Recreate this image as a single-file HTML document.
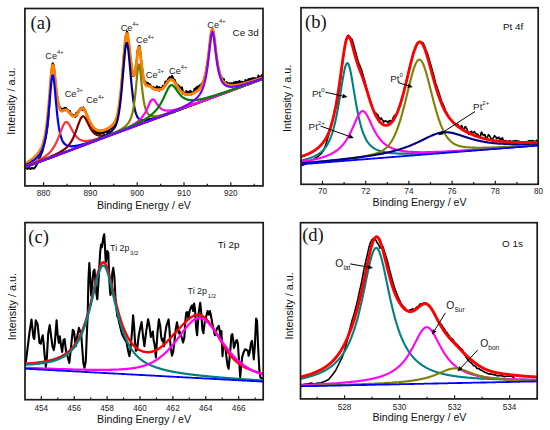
<!DOCTYPE html>
<html><head><meta charset="utf-8"><style>
html,body{margin:0;padding:0;background:#fff;}
svg{display:block;}
text{font-family:"Liberation Sans",sans-serif;}
</style></head><body>
<svg width="550" height="430" viewBox="0 0 550 430">
<rect width="550" height="430" fill="#fff"/>
<clipPath id="ca"><rect x="24.9" y="8.5" width="238.1" height="177.4"/></clipPath>
<g clip-path="url(#ca)" fill="none" stroke-linejoin="round" stroke-linecap="round">
<path d="M24.5,168.3 L26.0,167.6 L27.5,168.9 L29.0,167.8 L30.5,169.0 L32.0,167.9 L33.5,168.7 L35.0,167.4 L36.3,165.7 L37.3,162.8 L38.8,159.5 L40.3,156.3 L41.5,153.5 L42.7,150.6 L43.6,146.5 L44.9,140.9 L45.4,139.1 L45.9,136.7 L46.4,133.4 L46.9,130.9 L47.4,127.4 L47.9,124.0 L48.4,117.4 L48.9,111.8 L49.4,103.4 L49.9,95.6 L50.4,86.3 L50.9,78.9 L51.4,72.0 L51.9,68.4 L52.4,63.9 L52.9,63.2 L53.4,64.6 L53.9,66.5 L54.4,71.0 L54.9,77.1 L55.4,80.5 L55.9,85.7 L56.4,90.1 L56.9,94.7 L57.4,97.4 L57.9,100.7 L58.4,103.6 L58.9,105.5 L59.4,106.2 L59.9,109.1 L60.4,107.8 L60.9,108.5 L61.4,108.7 L61.9,111.1 L62.4,109.7 L62.9,109.0 L63.4,108.6 L63.9,109.9 L64.4,108.2 L64.9,107.9 L65.4,109.7 L65.9,107.9 L66.4,109.0 L66.9,109.6 L67.4,109.5 L67.9,110.3 L68.4,112.3 L68.9,111.0 L69.4,110.9 L69.9,110.9 L70.4,113.1 L70.9,113.6 L71.4,114.7 L71.9,114.4 L72.4,114.7 L72.9,114.7 L73.4,115.1 L73.9,115.8 L74.4,115.2 L74.9,115.6 L75.4,117.1 L75.9,115.3 L76.4,112.8 L76.9,115.6 L77.4,113.6 L77.9,111.6 L78.4,112.8 L78.9,111.2 L79.4,109.8 L79.9,109.1 L80.4,108.2 L80.9,108.7 L81.4,109.4 L81.9,107.8 L82.4,108.6 L82.9,110.2 L83.4,107.5 L83.9,109.5 L84.4,109.7 L84.9,109.8 L85.4,110.8 L85.9,112.9 L86.4,114.6 L86.9,114.8 L87.4,116.6 L87.9,118.5 L88.4,119.3 L88.9,121.0 L89.4,121.7 L89.9,122.8 L90.4,125.3 L90.9,125.1 L91.4,125.6 L91.9,127.2 L92.4,126.4 L92.9,127.8 L93.4,129.7 L93.9,130.2 L94.4,131.8 L94.9,130.8 L95.4,129.8 L95.9,133.7 L96.4,133.3 L96.9,131.5 L97.4,134.2 L97.9,133.0 L98.4,131.2 L98.9,132.7 L99.4,132.7 L99.9,134.8 L100.4,132.4 L100.9,132.9 L101.4,132.8 L101.9,132.6 L102.4,132.0 L102.9,133.0 L103.4,133.7 L103.9,133.1 L104.4,131.4 L104.9,131.0 L105.4,132.0 L105.9,131.0 L106.4,130.8 L106.9,129.5 L107.4,132.9 L107.9,131.6 L108.4,129.4 L108.9,131.0 L109.4,131.1 L109.9,127.0 L110.4,128.5 L110.9,128.2 L111.4,128.8 L111.9,127.6 L112.4,127.0 L112.9,126.6 L113.4,127.9 L113.9,127.5 L114.4,124.0 L114.9,122.8 L115.4,125.3 L115.9,120.3 L116.4,119.2 L116.9,118.1 L117.4,116.5 L117.9,114.7 L118.4,111.4 L118.9,107.1 L119.4,105.0 L119.9,100.8 L120.4,98.0 L120.9,91.3 L121.4,84.7 L121.9,79.2 L122.4,75.6 L122.9,67.4 L123.4,59.5 L123.9,54.6 L124.4,49.1 L124.9,44.7 L125.4,38.0 L125.9,36.0 L126.4,33.8 L126.9,31.6 L127.4,32.9 L127.9,36.9 L128.4,40.1 L128.9,43.4 L129.4,47.5 L129.9,53.0 L130.4,56.6 L130.9,61.1 L131.4,64.5 L131.9,68.7 L132.4,71.5 L132.9,76.0 L133.4,74.6 L133.9,76.1 L134.4,75.4 L134.9,72.5 L135.4,71.1 L135.9,64.9 L136.4,62.8 L136.9,59.0 L137.4,51.8 L137.9,49.0 L138.4,48.1 L138.9,46.0 L139.4,46.1 L139.9,49.1 L140.4,52.7 L140.9,58.0 L141.4,62.3 L141.9,66.0 L142.4,69.6 L142.9,73.5 L143.4,77.7 L143.9,79.1 L144.4,81.2 L144.9,81.8 L145.4,81.6 L145.9,82.9 L146.4,84.7 L146.9,84.4 L147.4,83.4 L147.9,82.7 L148.4,84.6 L148.9,84.1 L149.4,84.2 L149.9,84.3 L150.4,85.3 L150.9,85.7 L151.4,86.9 L151.9,87.4 L152.4,88.3 L152.9,88.1 L153.4,87.1 L153.9,87.7 L154.4,88.6 L154.9,87.7 L155.4,88.9 L155.9,89.7 L156.4,87.4 L156.9,86.3 L157.4,89.9 L157.9,88.5 L158.4,89.4 L158.9,86.9 L159.4,90.7 L159.9,89.4 L160.4,88.3 L160.9,87.9 L161.4,88.3 L161.9,87.7 L162.4,87.2 L162.9,85.8 L163.4,88.3 L163.9,86.2 L164.4,85.8 L164.9,85.2 L165.4,81.4 L165.9,84.2 L166.4,82.3 L166.9,81.6 L167.4,81.2 L167.9,79.2 L168.4,80.7 L168.9,78.2 L169.4,77.4 L169.9,77.0 L170.4,78.0 L170.9,78.5 L171.4,76.9 L171.9,75.9 L172.4,79.4 L172.9,77.2 L173.4,80.5 L173.9,79.6 L174.4,79.5 L174.9,80.3 L175.4,82.5 L175.9,83.8 L176.4,83.3 L176.9,85.5 L177.4,87.8 L177.9,85.7 L178.4,85.2 L178.9,86.0 L179.4,86.2 L179.9,87.8 L180.4,88.2 L180.9,88.0 L181.4,90.8 L181.9,87.2 L182.4,89.2 L182.9,93.8 L183.4,92.9 L183.9,92.5 L184.4,92.6 L184.9,94.5 L185.4,93.1 L185.9,92.6 L186.4,91.1 L186.9,92.6 L187.4,91.8 L187.9,91.8 L188.4,91.8 L188.9,92.6 L189.4,92.2 L189.9,93.6 L190.4,90.7 L190.9,92.0 L191.4,94.5 L191.9,92.0 L192.4,93.3 L192.9,93.0 L193.4,93.0 L193.9,92.0 L194.4,89.0 L194.9,90.1 L195.4,89.7 L195.9,87.8 L196.4,88.9 L196.9,87.5 L197.4,86.6 L197.9,88.6 L198.4,87.8 L198.9,86.4 L199.4,85.5 L199.9,85.4 L200.4,85.1 L200.9,84.6 L201.4,84.3 L201.9,83.2 L202.4,83.1 L202.9,82.2 L203.4,80.9 L203.9,78.9 L204.4,77.5 L204.9,76.4 L205.4,74.2 L205.9,72.0 L206.4,68.7 L206.9,65.7 L207.4,63.3 L207.9,59.6 L208.4,56.0 L208.9,51.5 L209.4,46.9 L209.9,42.3 L210.4,37.6 L210.9,34.5 L211.4,31.1 L211.9,29.6 L212.4,28.9 L212.9,29.7 L213.4,32.0 L213.9,34.7 L214.4,38.5 L214.9,42.5 L215.4,47.0 L215.9,51.8 L216.4,55.2 L216.9,59.3 L217.4,62.5 L217.9,65.5 L218.4,68.0 L218.9,69.7 L219.4,72.0 L219.9,74.1 L220.4,74.8 L220.9,76.2 L221.4,76.9 L221.9,78.4 L222.4,78.2 L222.9,80.9 L223.4,79.8 L223.9,79.1 L224.4,82.9 L224.9,82.5 L225.4,82.4 L225.9,82.8 L226.4,82.2 L226.9,82.5 L227.4,83.7 L227.9,84.0 L228.4,84.2 L228.9,83.6 L229.4,83.0 L229.9,83.3 L230.4,84.7 L230.9,85.1 L231.4,83.3 L231.9,83.2 L232.4,84.9 L232.9,84.4 L233.4,84.3 L233.9,82.3 L234.4,83.2 L234.9,83.0 L235.4,83.6 L235.9,81.7 L236.4,84.5 L236.9,83.5 L237.4,83.5 L237.9,81.8 L238.4,82.9 L238.9,84.2 L239.4,81.1 L239.9,82.9 L240.4,83.2 L240.9,81.7 L241.4,83.1 L241.9,81.8 L242.4,83.2 L242.9,82.4 L243.4,82.0 L243.9,83.6 L244.4,82.3 L244.9,82.7 L245.4,80.0 L245.9,80.4 L246.4,81.8 L246.9,81.7 L247.4,80.6 L247.9,81.3 L248.4,79.3 L248.9,80.4 L249.4,78.9 L249.9,80.2 L250.4,79.3 L250.9,78.9 L251.4,79.5 L251.9,81.1 L252.4,78.1 L252.9,78.4 L253.4,79.9 L253.9,78.2 L254.4,80.2 L254.9,78.5 L255.4,78.2 L255.9,78.3 L256.4,79.6 L256.9,78.3 L257.4,78.0 L257.9,77.6 L258.4,75.6 L258.9,76.1 L259.4,78.3 L259.9,77.5 L260.4,77.0 L260.9,77.0 L261.4,75.6 L261.9,76.3 L262.4,74.9 L262.9,76.0 L263.4,74.7 L263.9,75.1 L264.4,75.6 L264.9,74.6" stroke="#000" stroke-width="2.0"/>
<path d="M22.9,164.9 L23.4,164.7 L23.9,164.4 L24.4,164.1 L24.9,163.8 L25.4,163.6 L25.9,163.3 L26.4,163.0 L26.9,162.7 L27.4,162.4 L27.9,162.1 L28.4,161.8 L28.9,161.4 L29.4,161.1 L29.9,160.8 L30.4,160.4 L30.9,160.1 L31.4,159.7 L31.9,159.3 L32.4,159.0 L32.9,158.6 L33.4,158.2 L33.9,157.7 L34.4,157.3 L34.9,156.8 L35.4,156.3 L35.9,155.8 L36.4,155.3 L36.9,154.8 L37.4,154.2 L37.9,153.6 L38.4,152.9 L38.9,152.2 L39.4,151.5 L39.9,150.6 L40.4,149.8 L40.9,148.8 L41.4,147.8 L41.9,146.6 L42.4,145.3 L42.9,143.9 L43.4,142.3 L43.9,140.5 L44.4,138.4 L44.9,136.1 L45.4,133.5 L45.9,130.5 L46.4,127.1 L46.9,123.3 L47.4,119.0 L47.9,114.2 L48.4,108.9 L48.9,103.2 L49.4,97.0 L49.9,90.6 L50.4,84.2 L50.9,78.1 L51.4,72.7 L51.9,68.4 L52.4,65.8 L52.9,64.9 L53.4,65.8 L53.9,68.4 L54.4,72.1 L54.9,76.6 L55.4,81.4 L55.9,86.2 L56.4,90.7 L56.9,94.8 L57.4,98.5 L57.9,101.6 L58.4,104.2 L58.9,106.3 L59.4,108.0 L59.9,109.2 L60.4,110.1 L60.9,110.7 L61.4,111.0 L61.9,111.1 L62.4,111.0 L62.9,110.8 L63.4,110.6 L63.9,110.4 L64.4,110.2 L64.9,110.0 L65.4,109.9 L65.9,109.9 L66.4,110.1 L66.9,110.3 L67.4,110.7 L67.9,111.1 L68.4,111.7 L68.9,112.2 L69.4,112.8 L69.9,113.4 L70.4,114.0 L70.9,114.6 L71.4,115.0 L71.9,115.5 L72.4,115.8 L72.9,116.0 L73.4,116.2 L73.9,116.2 L74.4,116.1 L74.9,116.0 L75.4,115.7 L75.9,115.3 L76.4,114.8 L76.9,114.2 L77.4,113.6 L77.9,112.9 L78.4,112.1 L78.9,111.4 L79.4,110.6 L79.9,109.9 L80.4,109.3 L80.9,108.8 L81.4,108.4 L81.9,108.2 L82.4,108.2 L82.9,108.3 L83.4,108.7 L83.9,109.2 L84.4,109.9 L84.9,110.7 L85.4,111.7 L85.9,112.7 L86.4,113.9 L86.9,115.0 L87.4,116.2 L87.9,117.4 L88.4,118.6 L88.9,119.7 L89.4,120.8 L89.9,121.8 L90.4,122.8 L90.9,123.7 L91.4,124.6 L91.9,125.4 L92.4,126.1 L92.9,126.8 L93.4,127.4 L93.9,128.0 L94.4,128.5 L94.9,128.9 L95.4,129.3 L95.9,129.6 L96.4,129.9 L96.9,130.1 L97.4,130.3 L97.9,130.5 L98.4,130.6 L98.9,130.7 L99.4,130.7 L99.9,130.8 L100.4,130.8 L100.9,130.7 L101.4,130.7 L101.9,130.6 L102.4,130.5 L102.9,130.4 L103.4,130.3 L103.9,130.2 L104.4,130.0 L104.9,129.8 L105.4,129.6 L105.9,129.4 L106.4,129.2 L106.9,129.0 L107.4,128.7 L107.9,128.5 L108.4,128.2 L108.9,127.9 L109.4,127.6 L109.9,127.2 L110.4,126.9 L110.9,126.5 L111.4,126.1 L111.9,125.6 L112.4,125.1 L112.9,124.6 L113.4,124.0 L113.9,123.3 L114.4,122.6 L114.9,121.7 L115.4,120.7 L115.9,119.5 L116.4,118.1 L116.9,116.6 L117.4,114.7 L117.9,112.5 L118.4,110.0 L118.9,107.1 L119.4,103.8 L119.9,100.0 L120.4,95.7 L120.9,91.0 L121.4,85.8 L121.9,80.2 L122.4,74.3 L122.9,68.1 L123.4,61.9 L123.9,55.6 L124.4,49.7 L124.9,44.3 L125.4,39.7 L125.9,36.3 L126.4,34.1 L126.9,33.5 L127.4,34.3 L127.9,36.4 L128.4,39.6 L128.9,43.6 L129.4,48.1 L129.9,52.8 L130.4,57.5 L130.9,61.9 L131.4,65.9 L131.9,69.4 L132.4,72.1 L132.9,74.1 L133.4,75.3 L133.9,75.6 L134.4,74.9 L134.9,73.4 L135.4,70.9 L135.9,67.6 L136.4,63.6 L136.9,59.2 L137.4,54.9 L137.9,51.1 L138.4,48.4 L138.9,47.4 L139.4,48.3 L139.9,50.8 L140.4,54.5 L140.9,58.9 L141.4,63.4 L141.9,67.8 L142.4,71.7 L142.9,75.1 L143.4,77.9 L143.9,80.2 L144.4,82.0 L144.9,83.4 L145.4,84.4 L145.9,85.1 L146.4,85.6 L146.9,85.8 L147.4,85.9 L147.9,86.0 L148.4,86.0 L148.9,86.0 L149.4,86.1 L149.9,86.2 L150.4,86.5 L150.9,86.8 L151.4,87.2 L151.9,87.7 L152.4,88.2 L152.9,88.6 L153.4,88.9 L153.9,89.2 L154.4,89.3 L154.9,89.5 L155.4,89.5 L155.9,89.6 L156.4,89.6 L156.9,89.7 L157.4,89.7 L157.9,89.8 L158.4,89.8 L158.9,89.8 L159.4,89.8 L159.9,89.7 L160.4,89.6 L160.9,89.5 L161.4,89.3 L161.9,89.0 L162.4,88.7 L162.9,88.3 L163.4,87.8 L163.9,87.3 L164.4,86.7 L164.9,86.1 L165.4,85.4 L165.9,84.7 L166.4,84.0 L166.9,83.3 L167.4,82.6 L167.9,81.9 L168.4,81.3 L168.9,80.7 L169.4,80.3 L169.9,79.9 L170.4,79.7 L170.9,79.6 L171.4,79.6 L171.9,79.7 L172.4,80.0 L172.9,80.4 L173.4,80.9 L173.9,81.5 L174.4,82.1 L174.9,82.8 L175.4,83.6 L175.9,84.4 L176.4,85.1 L176.9,85.9 L177.4,86.7 L177.9,87.4 L178.4,88.2 L178.9,88.9 L179.4,89.5 L179.9,90.1 L180.4,90.7 L180.9,91.2 L181.4,91.7 L181.9,92.2 L182.4,92.6 L182.9,92.9 L183.4,93.2 L183.9,93.5 L184.4,93.8 L184.9,94.0 L185.4,94.1 L185.9,94.3 L186.4,94.4 L186.9,94.5 L187.4,94.5 L187.9,94.5 L188.4,94.5 L188.9,94.5 L189.4,94.5 L189.9,94.4 L190.4,94.3 L190.9,94.2 L191.4,94.0 L191.9,93.9 L192.4,93.7 L192.9,93.5 L193.4,93.3 L193.9,93.0 L194.4,92.8 L194.9,92.5 L195.4,92.2 L195.9,91.9 L196.4,91.6 L196.9,91.2 L197.4,90.8 L197.9,90.4 L198.4,90.0 L198.9,89.5 L199.4,88.9 L199.9,88.3 L200.4,87.7 L200.9,87.0 L201.4,86.2 L201.9,85.3 L202.4,84.3 L202.9,83.1 L203.4,81.9 L203.9,80.4 L204.4,78.8 L204.9,77.0 L205.4,74.9 L205.9,72.6 L206.4,69.9 L206.9,67.0 L207.4,63.6 L207.9,60.0 L208.4,56.0 L208.9,51.7 L209.4,47.3 L209.9,42.8 L210.4,38.5 L210.9,34.7 L211.4,31.7 L211.9,29.8 L212.4,29.2 L212.9,30.0 L213.4,32.1 L213.9,35.2 L214.4,39.0 L214.9,43.2 L215.4,47.4 L215.9,51.6 L216.4,55.6 L216.9,59.3 L217.4,62.6 L217.9,65.6 L218.4,68.2 L218.9,70.5 L219.4,72.6 L219.9,74.4 L220.4,75.9 L220.9,77.3 L221.4,78.5 L221.9,79.5 L222.4,80.4 L222.9,81.2 L223.4,81.8 L223.9,82.4 L224.4,82.9 L224.9,83.3 L225.4,83.7 L225.9,84.0 L226.4,84.3 L226.9,84.6 L227.4,84.8 L227.9,84.9 L228.4,85.1 L228.9,85.2 L229.4,85.3 L229.9,85.4 L230.4,85.4 L230.9,85.5 L231.4,85.5 L231.9,85.5 L232.4,85.5 L232.9,85.5 L233.4,85.5 L233.9,85.4 L234.4,85.4 L234.9,85.3 L235.4,85.3 L235.9,85.2 L236.4,85.1 L236.9,85.1 L237.4,85.0 L237.9,84.9 L238.4,84.8 L238.9,84.7 L239.4,84.6 L239.9,84.5 L240.4,84.4 L240.9,84.3 L241.4,84.1 L241.9,84.0 L242.4,83.9 L242.9,83.8 L243.4,83.7 L243.9,83.5 L244.4,83.4 L244.9,83.3 L245.4,83.1 L245.9,83.0 L246.4,82.8 L246.9,82.7 L247.4,82.6 L247.9,82.4 L248.4,82.3 L248.9,82.1 L249.4,82.0 L249.9,81.8 L250.4,81.7 L250.9,81.5 L251.4,81.4 L251.9,81.2 L252.4,81.1 L252.9,80.9 L253.4,80.7 L253.9,80.6 L254.4,80.4 L254.9,80.3 L255.4,80.1 L255.9,79.9 L256.4,79.8 L256.9,79.6 L257.4,79.5 L257.9,79.3 L258.4,79.1 L258.9,79.0 L259.4,78.8 L259.9,78.6 L260.4,78.5 L260.9,78.3 L261.4,78.1 L261.9,78.0 L262.4,77.8 L262.9,77.6 L263.4,77.5 L263.9,77.3 L264.4,77.1 L264.9,76.9" stroke="#ff8000" stroke-width="2.9"/>
<path d="M22.9,166.5 L23.4,166.3 L23.9,166.1 L24.4,165.8 L24.9,165.6 L25.4,165.3 L25.9,165.1 L26.4,164.8 L26.9,164.5 L27.4,164.3 L27.9,164.0 L28.4,163.7 L28.9,163.5 L29.4,163.2 L29.9,162.9 L30.4,162.6 L30.9,162.3 L31.4,162.0 L31.9,161.6 L32.4,161.3 L32.9,161.0 L33.4,160.6 L33.9,160.2 L34.4,159.9 L34.9,159.5 L35.4,159.0 L35.9,158.6 L36.4,158.1 L36.9,157.7 L37.4,157.2 L37.9,156.6 L38.4,156.1 L38.9,155.4 L39.4,154.8 L39.9,154.1 L40.4,153.3 L40.9,152.5 L41.4,151.5 L41.9,150.5 L42.4,149.4 L42.9,148.1 L43.4,146.6 L43.9,144.9 L44.4,143.1 L44.9,140.9 L45.4,138.5 L45.9,135.7 L46.4,132.5 L46.9,128.9 L47.4,124.9 L47.9,120.3 L48.4,115.4 L48.9,109.9 L49.4,104.2 L49.9,98.1 L50.4,92.1 L50.9,86.4 L51.4,81.5 L51.9,77.8 L52.4,75.6 L52.9,75.3 L53.4,76.9 L53.9,80.1 L54.4,84.5 L54.9,89.8 L55.4,95.4 L55.9,101.1 L56.4,106.5 L56.9,111.6 L57.4,116.3 L57.9,120.5 L58.4,124.2 L58.9,127.5 L59.4,130.3 L59.9,132.8 L60.4,134.9 L60.9,136.7 L61.4,138.2 L61.9,139.6 L62.4,140.7 L62.9,141.6 L63.4,142.4 L63.9,143.1 L64.4,143.6 L64.9,144.1 L65.4,144.5 L65.9,144.9 L66.4,145.2 L66.9,145.4 L67.4,145.6 L67.9,145.8 L68.4,145.9 L68.9,146.0 L69.4,146.1 L69.9,146.2 L70.4,146.2 L70.9,146.3 L71.4,146.3 L71.9,146.3 L72.4,146.3 L72.9,146.2 L73.4,146.2 L73.9,146.1 L74.4,146.1 L74.9,146.0 L75.4,145.9 L75.9,145.9 L76.4,145.8 L76.9,145.7 L77.4,145.6 L77.9,145.5 L78.4,145.4 L78.9,145.3 L79.4,145.2 L79.9,145.0 L80.4,144.9 L80.9,144.8 L81.4,144.7 L81.9,144.5 L82.4,144.4 L82.9,144.3 L83.4,144.1 L83.9,144.0 L84.4,143.8 L84.9,143.7 L85.4,143.6 L85.9,143.4 L86.4,143.3 L86.9,143.1 L87.4,143.0 L87.9,142.8 L88.4,142.6 L88.9,142.5 L89.4,142.3 L89.9,142.2 L90.4,142.0 L90.9,141.8 L91.4,141.7 L91.9,141.5 L92.4,141.4 L92.9,141.2 L93.4,141.0 L93.9,140.9 L94.4,140.7 L94.9,140.5 L95.4,140.4 L95.9,140.2 L96.4,140.0 L96.9,139.9 L97.4,139.7 L97.9,139.5 L98.4,139.3 L98.9,139.2 L99.4,139.0 L99.9,138.8 L100.4,138.7 L100.9,138.5 L101.4,138.3 L101.9,138.1 L102.4,138.0 L102.9,137.8 L103.4,137.6 L103.9,137.4 L104.4,137.3 L104.9,137.1 L105.4,136.9 L105.9,136.7 L106.4,136.5 L106.9,136.4 L107.4,136.2 L107.9,136.0 L108.4,135.8 L108.9,135.7 L109.4,135.5 L109.9,135.3 L110.4,135.1 L110.9,134.9 L111.4,134.8 L111.9,134.6 L112.4,134.4 L112.9,134.2 L113.4,134.1 L113.9,133.9 L114.4,133.7 L114.9,133.5 L115.4,133.3 L115.9,133.2 L116.4,133.0 L116.9,132.8 L117.4,132.6 L117.9,132.4 L118.4,132.2 L118.9,132.1 L119.4,131.9 L119.9,131.7 L120.4,131.5 L120.9,131.3 L121.4,131.2 L121.9,131.0 L122.4,130.8 L122.9,130.6 L123.4,130.4 L123.9,130.2 L124.4,130.1 L124.9,129.9 L125.4,129.7 L125.9,129.5 L126.4,129.3 L126.9,129.2 L127.4,129.0 L127.9,128.8 L128.4,128.6 L128.9,128.4 L129.4,128.2 L129.9,128.1 L130.4,127.9 L130.9,127.7 L131.4,127.5 L131.9,127.3 L132.4,127.1 L132.9,127.0 L133.4,126.8 L133.9,126.6 L134.4,126.4 L134.9,126.2 L135.4,126.0 L135.9,125.9 L136.4,125.7 L136.9,125.5 L137.4,125.3 L137.9,125.1 L138.4,124.9 L138.9,124.8 L139.4,124.6 L139.9,124.4 L140.4,124.2 L140.9,124.0 L141.4,123.8 L141.9,123.7 L142.4,123.5 L142.9,123.3 L143.4,123.1 L143.9,122.9 L144.4,122.7 L144.9,122.6 L145.4,122.4 L145.9,122.2 L146.4,122.0 L146.9,121.8 L147.4,121.6 L147.9,121.4 L148.4,121.3 L148.9,121.1 L149.4,120.9 L149.9,120.7 L150.4,120.5 L150.9,120.3 L151.4,120.2 L151.9,120.0 L152.4,119.8 L152.9,119.6 L153.4,119.4 L153.9,119.2 L154.4,119.0 L154.9,118.9 L155.4,118.7 L155.9,118.5 L156.4,118.3 L156.9,118.1 L157.4,117.9 L157.9,117.8 L158.4,117.6 L158.9,117.4 L159.4,117.2 L159.9,117.0 L160.4,116.8 L160.9,116.6 L161.4,116.5 L161.9,116.3 L162.4,116.1 L162.9,115.9 L163.4,115.7 L163.9,115.5 L164.4,115.4 L164.9,115.2 L165.4,115.0 L165.9,114.8 L166.4,114.6 L166.9,114.4 L167.4,114.2 L167.9,114.1 L168.4,113.9 L168.9,113.7 L169.4,113.5 L169.9,113.3 L170.4,113.1 L170.9,112.9 L171.4,112.8 L171.9,112.6 L172.4,112.4 L172.9,112.2 L173.4,112.0 L173.9,111.8 L174.4,111.7 L174.9,111.5 L175.4,111.3 L175.9,111.1 L176.4,110.9 L176.9,110.7 L177.4,110.5 L177.9,110.4 L178.4,110.2 L178.9,110.0 L179.4,109.8 L179.9,109.6 L180.4,109.4 L180.9,109.2 L181.4,109.1 L181.9,108.9 L182.4,108.7 L182.9,108.5 L183.4,108.3 L183.9,108.1 L184.4,107.9 L184.9,107.8 L185.4,107.6 L185.9,107.4 L186.4,107.2 L186.9,107.0 L187.4,106.8 L187.9,106.6 L188.4,106.5 L188.9,106.3 L189.4,106.1 L189.9,105.9 L190.4,105.7 L190.9,105.5 L191.4,105.4 L191.9,105.2 L192.4,105.0 L192.9,104.8 L193.4,104.6 L193.9,104.4 L194.4,104.2 L194.9,104.1 L195.4,103.9 L195.9,103.7 L196.4,103.5 L196.9,103.3 L197.4,103.1 L197.9,102.9 L198.4,102.8 L198.9,102.6 L199.4,102.4 L199.9,102.2 L200.4,102.0 L200.9,101.8 L201.4,101.6 L201.9,101.5 L202.4,101.3 L202.9,101.1 L203.4,100.9 L203.9,100.7 L204.4,100.5 L204.9,100.3 L205.4,100.2 L205.9,100.0 L206.4,99.8 L206.9,99.6 L207.4,99.4 L207.9,99.2 L208.4,99.0 L208.9,98.9 L209.4,98.7 L209.9,98.5 L210.4,98.3 L210.9,98.1 L211.4,97.9 L211.9,97.7 L212.4,97.6 L212.9,97.4 L213.4,97.2 L213.9,97.0 L214.4,96.8 L214.9,96.6 L215.4,96.4 L215.9,96.3 L216.4,96.1 L216.9,95.9 L217.4,95.7 L217.9,95.5 L218.4,95.3 L218.9,95.1 L219.4,95.0 L219.9,94.8 L220.4,94.6 L220.9,94.4 L221.4,94.2 L221.9,94.0 L222.4,93.8 L222.9,93.7 L223.4,93.5 L223.9,93.3 L224.4,93.1 L224.9,92.9 L225.4,92.7 L225.9,92.5 L226.4,92.4 L226.9,92.2 L227.4,92.0 L227.9,91.8 L228.4,91.6 L228.9,91.4 L229.4,91.2 L229.9,91.1 L230.4,90.9 L230.9,90.7 L231.4,90.5 L231.9,90.3 L232.4,90.1 L232.9,89.9 L233.4,89.8 L233.9,89.6 L234.4,89.4 L234.9,89.2 L235.4,89.0 L235.9,88.8 L236.4,88.6 L236.9,88.5 L237.4,88.3 L237.9,88.1 L238.4,87.9 L238.9,87.7 L239.4,87.5 L239.9,87.3 L240.4,87.2 L240.9,87.0 L241.4,86.8 L241.9,86.6 L242.4,86.4 L242.9,86.2 L243.4,86.0 L243.9,85.9 L244.4,85.7 L244.9,85.5 L245.4,85.3 L245.9,85.1 L246.4,84.9 L246.9,84.7 L247.4,84.6 L247.9,84.4 L248.4,84.2 L248.9,84.0 L249.4,83.8 L249.9,83.6 L250.4,83.4 L250.9,83.3 L251.4,83.1 L251.9,82.9 L252.4,82.7 L252.9,82.5 L253.4,82.3 L253.9,82.1 L254.4,82.0 L254.9,81.8 L255.4,81.6 L255.9,81.4 L256.4,81.2 L256.9,81.0 L257.4,80.8 L257.9,80.7 L258.4,80.5 L258.9,80.3 L259.4,80.1 L259.9,79.9 L260.4,79.7 L260.9,79.5 L261.4,79.4 L261.9,79.2 L262.4,79.0 L262.9,78.8 L263.4,78.6 L263.9,78.4 L264.4,78.2 L264.9,78.1" stroke="#0000ff" stroke-width="2.2"/>
<path d="M22.9,167.2 L23.4,167.0 L23.9,166.8 L24.4,166.6 L24.9,166.4 L25.4,166.2 L25.9,166.0 L26.4,165.8 L26.9,165.5 L27.4,165.3 L27.9,165.1 L28.4,164.9 L28.9,164.7 L29.4,164.5 L29.9,164.3 L30.4,164.0 L30.9,163.8 L31.4,163.6 L31.9,163.4 L32.4,163.1 L32.9,162.9 L33.4,162.7 L33.9,162.5 L34.4,162.2 L34.9,162.0 L35.4,161.8 L35.9,161.5 L36.4,161.3 L36.9,161.0 L37.4,160.8 L37.9,160.5 L38.4,160.3 L38.9,160.0 L39.4,159.8 L39.9,159.5 L40.4,159.2 L40.9,159.0 L41.4,158.7 L41.9,158.4 L42.4,158.1 L42.9,157.8 L43.4,157.5 L43.9,157.2 L44.4,156.9 L44.9,156.5 L45.4,156.2 L45.9,155.8 L46.4,155.4 L46.9,155.0 L47.4,154.6 L47.9,154.2 L48.4,153.8 L48.9,153.3 L49.4,152.8 L49.9,152.3 L50.4,151.7 L50.9,151.1 L51.4,150.5 L51.9,149.9 L52.4,149.2 L52.9,148.5 L53.4,147.7 L53.9,146.9 L54.4,146.1 L54.9,145.2 L55.4,144.2 L55.9,143.2 L56.4,142.2 L56.9,141.1 L57.4,140.0 L57.9,138.8 L58.4,137.6 L58.9,136.3 L59.4,135.1 L59.9,133.7 L60.4,132.4 L60.9,131.1 L61.4,129.8 L61.9,128.5 L62.4,127.3 L62.9,126.2 L63.4,125.1 L63.9,124.2 L64.4,123.4 L64.9,122.8 L65.4,122.3 L65.9,122.1 L66.4,122.0 L66.9,122.1 L67.4,122.4 L67.9,122.9 L68.4,123.5 L68.9,124.2 L69.4,125.0 L69.9,125.8 L70.4,126.8 L70.9,127.7 L71.4,128.7 L71.9,129.6 L72.4,130.5 L72.9,131.4 L73.4,132.3 L73.9,133.1 L74.4,133.9 L74.9,134.7 L75.4,135.4 L75.9,136.0 L76.4,136.6 L76.9,137.2 L77.4,137.7 L77.9,138.2 L78.4,138.6 L78.9,139.0 L79.4,139.3 L79.9,139.6 L80.4,139.9 L80.9,140.1 L81.4,140.3 L81.9,140.5 L82.4,140.6 L82.9,140.7 L83.4,140.8 L83.9,140.9 L84.4,140.9 L84.9,141.0 L85.4,141.0 L85.9,141.0 L86.4,141.0 L86.9,140.9 L87.4,140.9 L87.9,140.9 L88.4,140.8 L88.9,140.7 L89.4,140.7 L89.9,140.6 L90.4,140.5 L90.9,140.4 L91.4,140.3 L91.9,140.2 L92.4,140.1 L92.9,140.0 L93.4,139.9 L93.9,139.7 L94.4,139.6 L94.9,139.5 L95.4,139.4 L95.9,139.2 L96.4,139.1 L96.9,139.0 L97.4,138.8 L97.9,138.7 L98.4,138.5 L98.9,138.4 L99.4,138.2 L99.9,138.1 L100.4,137.9 L100.9,137.8 L101.4,137.6 L101.9,137.5 L102.4,137.3 L102.9,137.2 L103.4,137.0 L103.9,136.9 L104.4,136.7 L104.9,136.5 L105.4,136.4 L105.9,136.2 L106.4,136.1 L106.9,135.9 L107.4,135.7 L107.9,135.6 L108.4,135.4 L108.9,135.2 L109.4,135.1 L109.9,134.9 L110.4,134.7 L110.9,134.6 L111.4,134.4 L111.9,134.2 L112.4,134.1 L112.9,133.9 L113.4,133.7 L113.9,133.5 L114.4,133.4 L114.9,133.2 L115.4,133.0 L115.9,132.9 L116.4,132.7 L116.9,132.5 L117.4,132.3 L117.9,132.2 L118.4,132.0 L118.9,131.8 L119.4,131.6 L119.9,131.5 L120.4,131.3 L120.9,131.1 L121.4,130.9 L121.9,130.7 L122.4,130.6 L122.9,130.4 L123.4,130.2 L123.9,130.0 L124.4,129.9 L124.9,129.7 L125.4,129.5 L125.9,129.3 L126.4,129.1 L126.9,129.0 L127.4,128.8 L127.9,128.6 L128.4,128.4 L128.9,128.3 L129.4,128.1 L129.9,127.9 L130.4,127.7 L130.9,127.5 L131.4,127.4 L131.9,127.2 L132.4,127.0 L132.9,126.8 L133.4,126.6 L133.9,126.5 L134.4,126.3 L134.9,126.1 L135.4,125.9 L135.9,125.7 L136.4,125.5 L136.9,125.4 L137.4,125.2 L137.9,125.0 L138.4,124.8 L138.9,124.6 L139.4,124.5 L139.9,124.3 L140.4,124.1 L140.9,123.9 L141.4,123.7 L141.9,123.5 L142.4,123.4 L142.9,123.2 L143.4,123.0 L143.9,122.8 L144.4,122.6 L144.9,122.5 L145.4,122.3 L145.9,122.1 L146.4,121.9 L146.9,121.7 L147.4,121.5 L147.9,121.4 L148.4,121.2 L148.9,121.0 L149.4,120.8 L149.9,120.6 L150.4,120.4 L150.9,120.3 L151.4,120.1 L151.9,119.9 L152.4,119.7 L152.9,119.5 L153.4,119.3 L153.9,119.2 L154.4,119.0 L154.9,118.8 L155.4,118.6 L155.9,118.4 L156.4,118.2 L156.9,118.1 L157.4,117.9 L157.9,117.7 L158.4,117.5 L158.9,117.3 L159.4,117.1 L159.9,117.0 L160.4,116.8 L160.9,116.6 L161.4,116.4 L161.9,116.2 L162.4,116.0 L162.9,115.8 L163.4,115.7 L163.9,115.5 L164.4,115.3 L164.9,115.1 L165.4,114.9 L165.9,114.7 L166.4,114.6 L166.9,114.4 L167.4,114.2 L167.9,114.0 L168.4,113.8 L168.9,113.6 L169.4,113.5 L169.9,113.3 L170.4,113.1 L170.9,112.9 L171.4,112.7 L171.9,112.5 L172.4,112.3 L172.9,112.2 L173.4,112.0 L173.9,111.8 L174.4,111.6 L174.9,111.4 L175.4,111.2 L175.9,111.1 L176.4,110.9 L176.9,110.7 L177.4,110.5 L177.9,110.3 L178.4,110.1 L178.9,109.9 L179.4,109.8 L179.9,109.6 L180.4,109.4 L180.9,109.2 L181.4,109.0 L181.9,108.8 L182.4,108.6 L182.9,108.5 L183.4,108.3 L183.9,108.1 L184.4,107.9 L184.9,107.7 L185.4,107.5 L185.9,107.4 L186.4,107.2 L186.9,107.0 L187.4,106.8 L187.9,106.6 L188.4,106.4 L188.9,106.2 L189.4,106.1 L189.9,105.9 L190.4,105.7 L190.9,105.5 L191.4,105.3 L191.9,105.1 L192.4,104.9 L192.9,104.8 L193.4,104.6 L193.9,104.4 L194.4,104.2 L194.9,104.0 L195.4,103.8 L195.9,103.7 L196.4,103.5 L196.9,103.3 L197.4,103.1 L197.9,102.9 L198.4,102.7 L198.9,102.5 L199.4,102.4 L199.9,102.2 L200.4,102.0 L200.9,101.8 L201.4,101.6 L201.9,101.4 L202.4,101.2 L202.9,101.1 L203.4,100.9 L203.9,100.7 L204.4,100.5 L204.9,100.3 L205.4,100.1 L205.9,99.9 L206.4,99.8 L206.9,99.6 L207.4,99.4 L207.9,99.2 L208.4,99.0 L208.9,98.8 L209.4,98.7 L209.9,98.5 L210.4,98.3 L210.9,98.1 L211.4,97.9 L211.9,97.7 L212.4,97.5 L212.9,97.4 L213.4,97.2 L213.9,97.0 L214.4,96.8 L214.9,96.6 L215.4,96.4 L215.9,96.2 L216.4,96.1 L216.9,95.9 L217.4,95.7 L217.9,95.5 L218.4,95.3 L218.9,95.1 L219.4,94.9 L219.9,94.8 L220.4,94.6 L220.9,94.4 L221.4,94.2 L221.9,94.0 L222.4,93.8 L222.9,93.6 L223.4,93.5 L223.9,93.3 L224.4,93.1 L224.9,92.9 L225.4,92.7 L225.9,92.5 L226.4,92.3 L226.9,92.2 L227.4,92.0 L227.9,91.8 L228.4,91.6 L228.9,91.4 L229.4,91.2 L229.9,91.0 L230.4,90.9 L230.9,90.7 L231.4,90.5 L231.9,90.3 L232.4,90.1 L232.9,89.9 L233.4,89.7 L233.9,89.6 L234.4,89.4 L234.9,89.2 L235.4,89.0 L235.9,88.8 L236.4,88.6 L236.9,88.4 L237.4,88.3 L237.9,88.1 L238.4,87.9 L238.9,87.7 L239.4,87.5 L239.9,87.3 L240.4,87.1 L240.9,87.0 L241.4,86.8 L241.9,86.6 L242.4,86.4 L242.9,86.2 L243.4,86.0 L243.9,85.8 L244.4,85.7 L244.9,85.5 L245.4,85.3 L245.9,85.1 L246.4,84.9 L246.9,84.7 L247.4,84.6 L247.9,84.4 L248.4,84.2 L248.9,84.0 L249.4,83.8 L249.9,83.6 L250.4,83.4 L250.9,83.3 L251.4,83.1 L251.9,82.9 L252.4,82.7 L252.9,82.5 L253.4,82.3 L253.9,82.1 L254.4,82.0 L254.9,81.8 L255.4,81.6 L255.9,81.4 L256.4,81.2 L256.9,81.0 L257.4,80.8 L257.9,80.7 L258.4,80.5 L258.9,80.3 L259.4,80.1 L259.9,79.9 L260.4,79.7 L260.9,79.5 L261.4,79.4 L261.9,79.2 L262.4,79.0 L262.9,78.8 L263.4,78.6 L263.9,78.4 L264.4,78.2 L264.9,78.1" stroke="#ff3333" stroke-width="2.2"/>
<path d="M22.9,167.7 L23.4,167.5 L23.9,167.4 L24.4,167.2 L24.9,167.0 L25.4,166.8 L25.9,166.6 L26.4,166.4 L26.9,166.2 L27.4,166.0 L27.9,165.8 L28.4,165.6 L28.9,165.4 L29.4,165.2 L29.9,165.0 L30.4,164.8 L30.9,164.6 L31.4,164.5 L31.9,164.3 L32.4,164.1 L32.9,163.9 L33.4,163.7 L33.9,163.5 L34.4,163.3 L34.9,163.1 L35.4,162.9 L35.9,162.7 L36.4,162.5 L36.9,162.3 L37.4,162.1 L37.9,161.9 L38.4,161.7 L38.9,161.5 L39.4,161.3 L39.9,161.1 L40.4,160.9 L40.9,160.7 L41.4,160.5 L41.9,160.3 L42.4,160.1 L42.9,159.9 L43.4,159.7 L43.9,159.5 L44.4,159.3 L44.9,159.1 L45.4,158.8 L45.9,158.6 L46.4,158.4 L46.9,158.2 L47.4,158.0 L47.9,157.8 L48.4,157.6 L48.9,157.4 L49.4,157.2 L49.9,156.9 L50.4,156.7 L50.9,156.5 L51.4,156.3 L51.9,156.0 L52.4,155.8 L52.9,155.6 L53.4,155.4 L53.9,155.1 L54.4,154.9 L54.9,154.7 L55.4,154.4 L55.9,154.2 L56.4,153.9 L56.9,153.7 L57.4,153.4 L57.9,153.2 L58.4,152.9 L58.9,152.7 L59.4,152.4 L59.9,152.1 L60.4,151.8 L60.9,151.6 L61.4,151.3 L61.9,151.0 L62.4,150.6 L62.9,150.3 L63.4,150.0 L63.9,149.6 L64.4,149.3 L64.9,148.9 L65.4,148.5 L65.9,148.0 L66.4,147.6 L66.9,147.1 L67.4,146.6 L67.9,146.1 L68.4,145.5 L68.9,144.9 L69.4,144.3 L69.9,143.6 L70.4,142.9 L70.9,142.1 L71.4,141.2 L71.9,140.4 L72.4,139.4 L72.9,138.4 L73.4,137.4 L73.9,136.3 L74.4,135.1 L74.9,133.9 L75.4,132.6 L75.9,131.3 L76.4,129.9 L76.9,128.5 L77.4,127.1 L77.9,125.7 L78.4,124.3 L78.9,122.9 L79.4,121.6 L79.9,120.4 L80.4,119.3 L80.9,118.3 L81.4,117.5 L81.9,116.9 L82.4,116.5 L82.9,116.3 L83.4,116.3 L83.9,116.6 L84.4,117.0 L84.9,117.6 L85.4,118.4 L85.9,119.3 L86.4,120.2 L86.9,121.2 L87.4,122.2 L87.9,123.3 L88.4,124.3 L88.9,125.4 L89.4,126.3 L89.9,127.3 L90.4,128.2 L90.9,129.0 L91.4,129.8 L91.9,130.6 L92.4,131.2 L92.9,131.9 L93.4,132.4 L93.9,132.9 L94.4,133.4 L94.9,133.8 L95.4,134.1 L95.9,134.5 L96.4,134.7 L96.9,135.0 L97.4,135.1 L97.9,135.3 L98.4,135.4 L98.9,135.5 L99.4,135.6 L99.9,135.7 L100.4,135.7 L100.9,135.7 L101.4,135.7 L101.9,135.7 L102.4,135.6 L102.9,135.6 L103.4,135.5 L103.9,135.5 L104.4,135.4 L104.9,135.3 L105.4,135.2 L105.9,135.1 L106.4,135.0 L106.9,134.9 L107.4,134.8 L107.9,134.7 L108.4,134.6 L108.9,134.4 L109.4,134.3 L109.9,134.2 L110.4,134.0 L110.9,133.9 L111.4,133.8 L111.9,133.6 L112.4,133.5 L112.9,133.3 L113.4,133.2 L113.9,133.0 L114.4,132.9 L114.9,132.7 L115.4,132.6 L115.9,132.4 L116.4,132.3 L116.9,132.1 L117.4,132.0 L117.9,131.8 L118.4,131.6 L118.9,131.5 L119.4,131.3 L119.9,131.1 L120.4,131.0 L120.9,130.8 L121.4,130.7 L121.9,130.5 L122.4,130.3 L122.9,130.2 L123.4,130.0 L123.9,129.8 L124.4,129.6 L124.9,129.5 L125.4,129.3 L125.9,129.1 L126.4,129.0 L126.9,128.8 L127.4,128.6 L127.9,128.4 L128.4,128.3 L128.9,128.1 L129.4,127.9 L129.9,127.7 L130.4,127.6 L130.9,127.4 L131.4,127.2 L131.9,127.0 L132.4,126.9 L132.9,126.7 L133.4,126.5 L133.9,126.3 L134.4,126.2 L134.9,126.0 L135.4,125.8 L135.9,125.6 L136.4,125.5 L136.9,125.3 L137.4,125.1 L137.9,124.9 L138.4,124.7 L138.9,124.6 L139.4,124.4 L139.9,124.2 L140.4,124.0 L140.9,123.8 L141.4,123.7 L141.9,123.5 L142.4,123.3 L142.9,123.1 L143.4,122.9 L143.9,122.8 L144.4,122.6 L144.9,122.4 L145.4,122.2 L145.9,122.0 L146.4,121.9 L146.9,121.7 L147.4,121.5 L147.9,121.3 L148.4,121.1 L148.9,120.9 L149.4,120.8 L149.9,120.6 L150.4,120.4 L150.9,120.2 L151.4,120.0 L151.9,119.9 L152.4,119.7 L152.9,119.5 L153.4,119.3 L153.9,119.1 L154.4,118.9 L154.9,118.8 L155.4,118.6 L155.9,118.4 L156.4,118.2 L156.9,118.0 L157.4,117.8 L157.9,117.7 L158.4,117.5 L158.9,117.3 L159.4,117.1 L159.9,116.9 L160.4,116.7 L160.9,116.6 L161.4,116.4 L161.9,116.2 L162.4,116.0 L162.9,115.8 L163.4,115.6 L163.9,115.5 L164.4,115.3 L164.9,115.1 L165.4,114.9 L165.9,114.7 L166.4,114.5 L166.9,114.4 L167.4,114.2 L167.9,114.0 L168.4,113.8 L168.9,113.6 L169.4,113.4 L169.9,113.3 L170.4,113.1 L170.9,112.9 L171.4,112.7 L171.9,112.5 L172.4,112.3 L172.9,112.2 L173.4,112.0 L173.9,111.8 L174.4,111.6 L174.9,111.4 L175.4,111.2 L175.9,111.0 L176.4,110.9 L176.9,110.7 L177.4,110.5 L177.9,110.3 L178.4,110.1 L178.9,109.9 L179.4,109.8 L179.9,109.6 L180.4,109.4 L180.9,109.2 L181.4,109.0 L181.9,108.8 L182.4,108.6 L182.9,108.5 L183.4,108.3 L183.9,108.1 L184.4,107.9 L184.9,107.7 L185.4,107.5 L185.9,107.4 L186.4,107.2 L186.9,107.0 L187.4,106.8 L187.9,106.6 L188.4,106.4 L188.9,106.2 L189.4,106.1 L189.9,105.9 L190.4,105.7 L190.9,105.5 L191.4,105.3 L191.9,105.1 L192.4,104.9 L192.9,104.8 L193.4,104.6 L193.9,104.4 L194.4,104.2 L194.9,104.0 L195.4,103.8 L195.9,103.7 L196.4,103.5 L196.9,103.3 L197.4,103.1 L197.9,102.9 L198.4,102.7 L198.9,102.5 L199.4,102.4 L199.9,102.2 L200.4,102.0 L200.9,101.8 L201.4,101.6 L201.9,101.4 L202.4,101.2 L202.9,101.1 L203.4,100.9 L203.9,100.7 L204.4,100.5 L204.9,100.3 L205.4,100.1 L205.9,100.0 L206.4,99.8 L206.9,99.6 L207.4,99.4 L207.9,99.2 L208.4,99.0 L208.9,98.8 L209.4,98.7 L209.9,98.5 L210.4,98.3 L210.9,98.1 L211.4,97.9 L211.9,97.7 L212.4,97.5 L212.9,97.4 L213.4,97.2 L213.9,97.0 L214.4,96.8 L214.9,96.6 L215.4,96.4 L215.9,96.2 L216.4,96.1 L216.9,95.9 L217.4,95.7 L217.9,95.5 L218.4,95.3 L218.9,95.1 L219.4,94.9 L219.9,94.8 L220.4,94.6 L220.9,94.4 L221.4,94.2 L221.9,94.0 L222.4,93.8 L222.9,93.6 L223.4,93.5 L223.9,93.3 L224.4,93.1 L224.9,92.9 L225.4,92.7 L225.9,92.5 L226.4,92.3 L226.9,92.2 L227.4,92.0 L227.9,91.8 L228.4,91.6 L228.9,91.4 L229.4,91.2 L229.9,91.1 L230.4,90.9 L230.9,90.7 L231.4,90.5 L231.9,90.3 L232.4,90.1 L232.9,89.9 L233.4,89.8 L233.9,89.6 L234.4,89.4 L234.9,89.2 L235.4,89.0 L235.9,88.8 L236.4,88.6 L236.9,88.5 L237.4,88.3 L237.9,88.1 L238.4,87.9 L238.9,87.7 L239.4,87.5 L239.9,87.3 L240.4,87.2 L240.9,87.0 L241.4,86.8 L241.9,86.6 L242.4,86.4 L242.9,86.2 L243.4,86.0 L243.9,85.9 L244.4,85.7 L244.9,85.5 L245.4,85.3 L245.9,85.1 L246.4,84.9 L246.9,84.7 L247.4,84.6 L247.9,84.4 L248.4,84.2 L248.9,84.0 L249.4,83.8 L249.9,83.6 L250.4,83.4 L250.9,83.3 L251.4,83.1 L251.9,82.9 L252.4,82.7 L252.9,82.5 L253.4,82.3 L253.9,82.1 L254.4,82.0 L254.9,81.8 L255.4,81.6 L255.9,81.4 L256.4,81.2 L256.9,81.0 L257.4,80.8 L257.9,80.7 L258.4,80.5 L258.9,80.3 L259.4,80.1 L259.9,79.9 L260.4,79.7 L260.9,79.5 L261.4,79.4 L261.9,79.2 L262.4,79.0 L262.9,78.8 L263.4,78.6 L263.9,78.4 L264.4,78.2 L264.9,78.1" stroke="#800000" stroke-width="2.2"/>
<path d="M22.9,168.0 L23.4,167.8 L23.9,167.6 L24.4,167.4 L24.9,167.2 L25.4,167.1 L25.9,166.9 L26.4,166.7 L26.9,166.5 L27.4,166.3 L27.9,166.1 L28.4,165.9 L28.9,165.7 L29.4,165.6 L29.9,165.4 L30.4,165.2 L30.9,165.0 L31.4,164.8 L31.9,164.6 L32.4,164.4 L32.9,164.3 L33.4,164.1 L33.9,163.9 L34.4,163.7 L34.9,163.5 L35.4,163.3 L35.9,163.1 L36.4,162.9 L36.9,162.8 L37.4,162.6 L37.9,162.4 L38.4,162.2 L38.9,162.0 L39.4,161.8 L39.9,161.6 L40.4,161.4 L40.9,161.3 L41.4,161.1 L41.9,160.9 L42.4,160.7 L42.9,160.5 L43.4,160.3 L43.9,160.1 L44.4,159.9 L44.9,159.8 L45.4,159.6 L45.9,159.4 L46.4,159.2 L46.9,159.0 L47.4,158.8 L47.9,158.6 L48.4,158.4 L48.9,158.3 L49.4,158.1 L49.9,157.9 L50.4,157.7 L50.9,157.5 L51.4,157.3 L51.9,157.1 L52.4,156.9 L52.9,156.7 L53.4,156.6 L53.9,156.4 L54.4,156.2 L54.9,156.0 L55.4,155.8 L55.9,155.6 L56.4,155.4 L56.9,155.2 L57.4,155.0 L57.9,154.9 L58.4,154.7 L58.9,154.5 L59.4,154.3 L59.9,154.1 L60.4,153.9 L60.9,153.7 L61.4,153.5 L61.9,153.3 L62.4,153.2 L62.9,153.0 L63.4,152.8 L63.9,152.6 L64.4,152.4 L64.9,152.2 L65.4,152.0 L65.9,151.8 L66.4,151.6 L66.9,151.4 L67.4,151.3 L67.9,151.1 L68.4,150.9 L68.9,150.7 L69.4,150.5 L69.9,150.3 L70.4,150.1 L70.9,149.9 L71.4,149.7 L71.9,149.5 L72.4,149.3 L72.9,149.2 L73.4,149.0 L73.9,148.8 L74.4,148.6 L74.9,148.4 L75.4,148.2 L75.9,148.0 L76.4,147.8 L76.9,147.6 L77.4,147.4 L77.9,147.2 L78.4,147.0 L78.9,146.8 L79.4,146.6 L79.9,146.4 L80.4,146.2 L80.9,146.0 L81.4,145.9 L81.9,145.7 L82.4,145.5 L82.9,145.3 L83.4,145.1 L83.9,144.9 L84.4,144.7 L84.9,144.5 L85.4,144.3 L85.9,144.1 L86.4,143.9 L86.9,143.7 L87.4,143.5 L87.9,143.3 L88.4,143.1 L88.9,142.9 L89.4,142.7 L89.9,142.5 L90.4,142.2 L90.9,142.0 L91.4,141.8 L91.9,141.6 L92.4,141.4 L92.9,141.2 L93.4,141.0 L93.9,140.8 L94.4,140.6 L94.9,140.4 L95.4,140.1 L95.9,139.9 L96.4,139.7 L96.9,139.5 L97.4,139.3 L97.9,139.0 L98.4,138.8 L98.9,138.6 L99.4,138.4 L99.9,138.1 L100.4,137.9 L100.9,137.6 L101.4,137.4 L101.9,137.2 L102.4,136.9 L102.9,136.7 L103.4,136.4 L103.9,136.1 L104.4,135.9 L104.9,135.6 L105.4,135.3 L105.9,135.1 L106.4,134.8 L106.9,134.5 L107.4,134.2 L107.9,133.9 L108.4,133.5 L108.9,133.2 L109.4,132.8 L109.9,132.5 L110.4,132.1 L110.9,131.7 L111.4,131.3 L111.9,130.8 L112.4,130.4 L112.9,129.8 L113.4,129.2 L113.9,128.6 L114.4,127.9 L114.9,127.0 L115.4,126.1 L115.9,124.9 L116.4,123.6 L116.9,122.1 L117.4,120.3 L117.9,118.2 L118.4,115.8 L118.9,113.0 L119.4,109.7 L119.9,106.1 L120.4,101.9 L120.9,97.4 L121.4,92.3 L121.9,86.9 L122.4,81.2 L122.9,75.2 L123.4,69.1 L123.9,63.1 L124.4,57.5 L124.9,52.4 L125.4,48.1 L125.9,45.0 L126.4,43.2 L126.9,43.0 L127.4,44.2 L127.9,46.9 L128.4,50.7 L128.9,55.4 L129.4,60.6 L129.9,66.2 L130.4,71.9 L130.9,77.6 L131.4,83.0 L131.9,88.0 L132.4,92.7 L132.9,97.0 L133.4,100.7 L133.9,104.1 L134.4,107.0 L134.9,109.5 L135.4,111.5 L135.9,113.3 L136.4,114.7 L136.9,115.9 L137.4,116.9 L137.9,117.6 L138.4,118.2 L138.9,118.7 L139.4,119.1 L139.9,119.4 L140.4,119.6 L140.9,119.7 L141.4,119.8 L141.9,119.9 L142.4,120.0 L142.9,120.0 L143.4,120.0 L143.9,120.0 L144.4,120.0 L144.9,119.9 L145.4,119.9 L145.9,119.8 L146.4,119.8 L146.9,119.7 L147.4,119.6 L147.9,119.5 L148.4,119.4 L148.9,119.3 L149.4,119.2 L149.9,119.1 L150.4,119.0 L150.9,118.9 L151.4,118.7 L151.9,118.6 L152.4,118.5 L152.9,118.4 L153.4,118.2 L153.9,118.1 L154.4,117.9 L154.9,117.8 L155.4,117.7 L155.9,117.5 L156.4,117.4 L156.9,117.2 L157.4,117.0 L157.9,116.9 L158.4,116.7 L158.9,116.6 L159.4,116.4 L159.9,116.3 L160.4,116.1 L160.9,115.9 L161.4,115.8 L161.9,115.6 L162.4,115.5 L162.9,115.3 L163.4,115.1 L163.9,115.0 L164.4,114.8 L164.9,114.6 L165.4,114.4 L165.9,114.3 L166.4,114.1 L166.9,113.9 L167.4,113.8 L167.9,113.6 L168.4,113.4 L168.9,113.2 L169.4,113.1 L169.9,112.9 L170.4,112.7 L170.9,112.5 L171.4,112.4 L171.9,112.2 L172.4,112.0 L172.9,111.8 L173.4,111.7 L173.9,111.5 L174.4,111.3 L174.9,111.1 L175.4,111.0 L175.9,110.8 L176.4,110.6 L176.9,110.4 L177.4,110.3 L177.9,110.1 L178.4,109.9 L178.9,109.7 L179.4,109.5 L179.9,109.4 L180.4,109.2 L180.9,109.0 L181.4,108.8 L181.9,108.6 L182.4,108.5 L182.9,108.3 L183.4,108.1 L183.9,107.9 L184.4,107.7 L184.9,107.6 L185.4,107.4 L185.9,107.2 L186.4,107.0 L186.9,106.8 L187.4,106.6 L187.9,106.5 L188.4,106.3 L188.9,106.1 L189.4,105.9 L189.9,105.7 L190.4,105.6 L190.9,105.4 L191.4,105.2 L191.9,105.0 L192.4,104.8 L192.9,104.6 L193.4,104.5 L193.9,104.3 L194.4,104.1 L194.9,103.9 L195.4,103.7 L195.9,103.5 L196.4,103.4 L196.9,103.2 L197.4,103.0 L197.9,102.8 L198.4,102.6 L198.9,102.4 L199.4,102.3 L199.9,102.1 L200.4,101.9 L200.9,101.7 L201.4,101.5 L201.9,101.3 L202.4,101.2 L202.9,101.0 L203.4,100.8 L203.9,100.6 L204.4,100.4 L204.9,100.2 L205.4,100.1 L205.9,99.9 L206.4,99.7 L206.9,99.5 L207.4,99.3 L207.9,99.1 L208.4,99.0 L208.9,98.8 L209.4,98.6 L209.9,98.4 L210.4,98.2 L210.9,98.0 L211.4,97.9 L211.9,97.7 L212.4,97.5 L212.9,97.3 L213.4,97.1 L213.9,96.9 L214.4,96.7 L214.9,96.6 L215.4,96.4 L215.9,96.2 L216.4,96.0 L216.9,95.8 L217.4,95.6 L217.9,95.5 L218.4,95.3 L218.9,95.1 L219.4,94.9 L219.9,94.7 L220.4,94.5 L220.9,94.3 L221.4,94.2 L221.9,94.0 L222.4,93.8 L222.9,93.6 L223.4,93.4 L223.9,93.2 L224.4,93.1 L224.9,92.9 L225.4,92.7 L225.9,92.5 L226.4,92.3 L226.9,92.1 L227.4,91.9 L227.9,91.8 L228.4,91.6 L228.9,91.4 L229.4,91.2 L229.9,91.0 L230.4,90.8 L230.9,90.6 L231.4,90.5 L231.9,90.3 L232.4,90.1 L232.9,89.9 L233.4,89.7 L233.9,89.5 L234.4,89.4 L234.9,89.2 L235.4,89.0 L235.9,88.8 L236.4,88.6 L236.9,88.4 L237.4,88.2 L237.9,88.1 L238.4,87.9 L238.9,87.7 L239.4,87.5 L239.9,87.3 L240.4,87.1 L240.9,86.9 L241.4,86.8 L241.9,86.6 L242.4,86.4 L242.9,86.2 L243.4,86.0 L243.9,85.8 L244.4,85.6 L244.9,85.5 L245.4,85.3 L245.9,85.1 L246.4,84.9 L246.9,84.7 L247.4,84.5 L247.9,84.3 L248.4,84.2 L248.9,84.0 L249.4,83.8 L249.9,83.6 L250.4,83.4 L250.9,83.2 L251.4,83.1 L251.9,82.9 L252.4,82.7 L252.9,82.5 L253.4,82.3 L253.9,82.1 L254.4,81.9 L254.9,81.8 L255.4,81.6 L255.9,81.4 L256.4,81.2 L256.9,81.0 L257.4,80.8 L257.9,80.6 L258.4,80.5 L258.9,80.3 L259.4,80.1 L259.9,79.9 L260.4,79.7 L260.9,79.5 L261.4,79.3 L261.9,79.2 L262.4,79.0 L262.9,78.8 L263.4,78.6 L263.9,78.4 L264.4,78.2 L264.9,78.0" stroke="#000080" stroke-width="2.2"/>
<path d="M22.9,168.0 L23.4,167.8 L23.9,167.7 L24.4,167.5 L24.9,167.3 L25.4,167.1 L25.9,166.9 L26.4,166.7 L26.9,166.5 L27.4,166.3 L27.9,166.2 L28.4,166.0 L28.9,165.8 L29.4,165.6 L29.9,165.4 L30.4,165.2 L30.9,165.0 L31.4,164.9 L31.9,164.7 L32.4,164.5 L32.9,164.3 L33.4,164.1 L33.9,163.9 L34.4,163.7 L34.9,163.5 L35.4,163.4 L35.9,163.2 L36.4,163.0 L36.9,162.8 L37.4,162.6 L37.9,162.4 L38.4,162.2 L38.9,162.1 L39.4,161.9 L39.9,161.7 L40.4,161.5 L40.9,161.3 L41.4,161.1 L41.9,160.9 L42.4,160.7 L42.9,160.6 L43.4,160.4 L43.9,160.2 L44.4,160.0 L44.9,159.8 L45.4,159.6 L45.9,159.4 L46.4,159.3 L46.9,159.1 L47.4,158.9 L47.9,158.7 L48.4,158.5 L48.9,158.3 L49.4,158.1 L49.9,157.9 L50.4,157.8 L50.9,157.6 L51.4,157.4 L51.9,157.2 L52.4,157.0 L52.9,156.8 L53.4,156.6 L53.9,156.5 L54.4,156.3 L54.9,156.1 L55.4,155.9 L55.9,155.7 L56.4,155.5 L56.9,155.3 L57.4,155.1 L57.9,155.0 L58.4,154.8 L58.9,154.6 L59.4,154.4 L59.9,154.2 L60.4,154.0 L60.9,153.8 L61.4,153.6 L61.9,153.5 L62.4,153.3 L62.9,153.1 L63.4,152.9 L63.9,152.7 L64.4,152.5 L64.9,152.3 L65.4,152.1 L65.9,152.0 L66.4,151.8 L66.9,151.6 L67.4,151.4 L67.9,151.2 L68.4,151.0 L68.9,150.8 L69.4,150.6 L69.9,150.4 L70.4,150.3 L70.9,150.1 L71.4,149.9 L71.9,149.7 L72.4,149.5 L72.9,149.3 L73.4,149.1 L73.9,148.9 L74.4,148.8 L74.9,148.6 L75.4,148.4 L75.9,148.2 L76.4,148.0 L76.9,147.8 L77.4,147.6 L77.9,147.4 L78.4,147.2 L78.9,147.1 L79.4,146.9 L79.9,146.7 L80.4,146.5 L80.9,146.3 L81.4,146.1 L81.9,145.9 L82.4,145.7 L82.9,145.5 L83.4,145.3 L83.9,145.2 L84.4,145.0 L84.9,144.8 L85.4,144.6 L85.9,144.4 L86.4,144.2 L86.9,144.0 L87.4,143.8 L87.9,143.6 L88.4,143.4 L88.9,143.2 L89.4,143.0 L89.9,142.9 L90.4,142.7 L90.9,142.5 L91.4,142.3 L91.9,142.1 L92.4,141.9 L92.9,141.7 L93.4,141.5 L93.9,141.3 L94.4,141.1 L94.9,140.9 L95.4,140.7 L95.9,140.5 L96.4,140.3 L96.9,140.1 L97.4,139.9 L97.9,139.8 L98.4,139.6 L98.9,139.4 L99.4,139.2 L99.9,139.0 L100.4,138.8 L100.9,138.6 L101.4,138.4 L101.9,138.2 L102.4,138.0 L102.9,137.8 L103.4,137.6 L103.9,137.4 L104.4,137.2 L104.9,136.9 L105.4,136.7 L105.9,136.5 L106.4,136.3 L106.9,136.1 L107.4,135.9 L107.9,135.7 L108.4,135.5 L108.9,135.3 L109.4,135.1 L109.9,134.9 L110.4,134.6 L110.9,134.4 L111.4,134.2 L111.9,134.0 L112.4,133.8 L112.9,133.5 L113.4,133.3 L113.9,133.1 L114.4,132.8 L114.9,132.6 L115.4,132.4 L115.9,132.1 L116.4,131.9 L116.9,131.6 L117.4,131.4 L117.9,131.1 L118.4,130.8 L118.9,130.6 L119.4,130.3 L119.9,130.0 L120.4,129.7 L120.9,129.4 L121.4,129.1 L121.9,128.8 L122.4,128.5 L122.9,128.1 L123.4,127.8 L123.9,127.4 L124.4,127.0 L124.9,126.6 L125.4,126.2 L125.9,125.7 L126.4,125.2 L126.9,124.7 L127.4,124.1 L127.9,123.5 L128.4,122.8 L128.9,122.0 L129.4,121.2 L129.9,120.3 L130.4,119.2 L130.9,118.0 L131.4,116.5 L131.9,114.9 L132.4,113.0 L132.9,110.8 L133.4,108.2 L133.9,105.2 L134.4,101.7 L134.9,97.8 L135.4,93.3 L135.9,88.4 L136.4,83.2 L136.9,77.9 L137.4,72.8 L137.9,68.5 L138.4,65.6 L138.9,64.4 L139.4,65.3 L139.9,68.0 L140.4,71.9 L140.9,76.7 L141.4,81.6 L141.9,86.5 L142.4,91.0 L142.9,95.0 L143.4,98.6 L143.9,101.7 L144.4,104.3 L144.9,106.4 L145.4,108.3 L145.9,109.8 L146.4,111.0 L146.9,112.1 L147.4,112.9 L147.9,113.6 L148.4,114.2 L148.9,114.6 L149.4,115.0 L149.9,115.3 L150.4,115.6 L150.9,115.8 L151.4,115.9 L151.9,116.0 L152.4,116.1 L152.9,116.2 L153.4,116.2 L153.9,116.3 L154.4,116.3 L154.9,116.2 L155.4,116.2 L155.9,116.2 L156.4,116.1 L156.9,116.0 L157.4,116.0 L157.9,115.9 L158.4,115.8 L158.9,115.7 L159.4,115.6 L159.9,115.5 L160.4,115.4 L160.9,115.3 L161.4,115.1 L161.9,115.0 L162.4,114.9 L162.9,114.8 L163.4,114.6 L163.9,114.5 L164.4,114.3 L164.9,114.2 L165.4,114.1 L165.9,113.9 L166.4,113.8 L166.9,113.6 L167.4,113.4 L167.9,113.3 L168.4,113.1 L168.9,113.0 L169.4,112.8 L169.9,112.7 L170.4,112.5 L170.9,112.3 L171.4,112.2 L171.9,112.0 L172.4,111.8 L172.9,111.7 L173.4,111.5 L173.9,111.3 L174.4,111.2 L174.9,111.0 L175.4,110.8 L175.9,110.6 L176.4,110.5 L176.9,110.3 L177.4,110.1 L177.9,110.0 L178.4,109.8 L178.9,109.6 L179.4,109.4 L179.9,109.3 L180.4,109.1 L180.9,108.9 L181.4,108.7 L181.9,108.6 L182.4,108.4 L182.9,108.2 L183.4,108.0 L183.9,107.8 L184.4,107.7 L184.9,107.5 L185.4,107.3 L185.9,107.1 L186.4,107.0 L186.9,106.8 L187.4,106.6 L187.9,106.4 L188.4,106.2 L188.9,106.1 L189.4,105.9 L189.9,105.7 L190.4,105.5 L190.9,105.3 L191.4,105.2 L191.9,105.0 L192.4,104.8 L192.9,104.6 L193.4,104.4 L193.9,104.2 L194.4,104.1 L194.9,103.9 L195.4,103.7 L195.9,103.5 L196.4,103.3 L196.9,103.2 L197.4,103.0 L197.9,102.8 L198.4,102.6 L198.9,102.4 L199.4,102.2 L199.9,102.1 L200.4,101.9 L200.9,101.7 L201.4,101.5 L201.9,101.3 L202.4,101.1 L202.9,101.0 L203.4,100.8 L203.9,100.6 L204.4,100.4 L204.9,100.2 L205.4,100.1 L205.9,99.9 L206.4,99.7 L206.9,99.5 L207.4,99.3 L207.9,99.1 L208.4,98.9 L208.9,98.8 L209.4,98.6 L209.9,98.4 L210.4,98.2 L210.9,98.0 L211.4,97.8 L211.9,97.7 L212.4,97.5 L212.9,97.3 L213.4,97.1 L213.9,96.9 L214.4,96.7 L214.9,96.6 L215.4,96.4 L215.9,96.2 L216.4,96.0 L216.9,95.8 L217.4,95.6 L217.9,95.5 L218.4,95.3 L218.9,95.1 L219.4,94.9 L219.9,94.7 L220.4,94.5 L220.9,94.3 L221.4,94.2 L221.9,94.0 L222.4,93.8 L222.9,93.6 L223.4,93.4 L223.9,93.2 L224.4,93.1 L224.9,92.9 L225.4,92.7 L225.9,92.5 L226.4,92.3 L226.9,92.1 L227.4,91.9 L227.9,91.8 L228.4,91.6 L228.9,91.4 L229.4,91.2 L229.9,91.0 L230.4,90.8 L230.9,90.6 L231.4,90.5 L231.9,90.3 L232.4,90.1 L232.9,89.9 L233.4,89.7 L233.9,89.5 L234.4,89.4 L234.9,89.2 L235.4,89.0 L235.9,88.8 L236.4,88.6 L236.9,88.4 L237.4,88.2 L237.9,88.1 L238.4,87.9 L238.9,87.7 L239.4,87.5 L239.9,87.3 L240.4,87.1 L240.9,86.9 L241.4,86.8 L241.9,86.6 L242.4,86.4 L242.9,86.2 L243.4,86.0 L243.9,85.8 L244.4,85.6 L244.9,85.5 L245.4,85.3 L245.9,85.1 L246.4,84.9 L246.9,84.7 L247.4,84.5 L247.9,84.4 L248.4,84.2 L248.9,84.0 L249.4,83.8 L249.9,83.6 L250.4,83.4 L250.9,83.2 L251.4,83.1 L251.9,82.9 L252.4,82.7 L252.9,82.5 L253.4,82.3 L253.9,82.1 L254.4,81.9 L254.9,81.8 L255.4,81.6 L255.9,81.4 L256.4,81.2 L256.9,81.0 L257.4,80.8 L257.9,80.6 L258.4,80.5 L258.9,80.3 L259.4,80.1 L259.9,79.9 L260.4,79.7 L260.9,79.5 L261.4,79.3 L261.9,79.2 L262.4,79.0 L262.9,78.8 L263.4,78.6 L263.9,78.4 L264.4,78.2 L264.9,78.0" stroke="#808000" stroke-width="2.2"/>
<path d="M22.9,168.0 L23.4,167.8 L23.9,167.6 L24.4,167.5 L24.9,167.3 L25.4,167.1 L25.9,166.9 L26.4,166.7 L26.9,166.5 L27.4,166.3 L27.9,166.2 L28.4,166.0 L28.9,165.8 L29.4,165.6 L29.9,165.4 L30.4,165.2 L30.9,165.0 L31.4,164.9 L31.9,164.7 L32.4,164.5 L32.9,164.3 L33.4,164.1 L33.9,163.9 L34.4,163.7 L34.9,163.5 L35.4,163.4 L35.9,163.2 L36.4,163.0 L36.9,162.8 L37.4,162.6 L37.9,162.4 L38.4,162.2 L38.9,162.1 L39.4,161.9 L39.9,161.7 L40.4,161.5 L40.9,161.3 L41.4,161.1 L41.9,160.9 L42.4,160.7 L42.9,160.6 L43.4,160.4 L43.9,160.2 L44.4,160.0 L44.9,159.8 L45.4,159.6 L45.9,159.4 L46.4,159.3 L46.9,159.1 L47.4,158.9 L47.9,158.7 L48.4,158.5 L48.9,158.3 L49.4,158.1 L49.9,157.9 L50.4,157.8 L50.9,157.6 L51.4,157.4 L51.9,157.2 L52.4,157.0 L52.9,156.8 L53.4,156.6 L53.9,156.4 L54.4,156.3 L54.9,156.1 L55.4,155.9 L55.9,155.7 L56.4,155.5 L56.9,155.3 L57.4,155.1 L57.9,155.0 L58.4,154.8 L58.9,154.6 L59.4,154.4 L59.9,154.2 L60.4,154.0 L60.9,153.8 L61.4,153.6 L61.9,153.5 L62.4,153.3 L62.9,153.1 L63.4,152.9 L63.9,152.7 L64.4,152.5 L64.9,152.3 L65.4,152.1 L65.9,152.0 L66.4,151.8 L66.9,151.6 L67.4,151.4 L67.9,151.2 L68.4,151.0 L68.9,150.8 L69.4,150.6 L69.9,150.5 L70.4,150.3 L70.9,150.1 L71.4,149.9 L71.9,149.7 L72.4,149.5 L72.9,149.3 L73.4,149.1 L73.9,149.0 L74.4,148.8 L74.9,148.6 L75.4,148.4 L75.9,148.2 L76.4,148.0 L76.9,147.8 L77.4,147.6 L77.9,147.4 L78.4,147.3 L78.9,147.1 L79.4,146.9 L79.9,146.7 L80.4,146.5 L80.9,146.3 L81.4,146.1 L81.9,145.9 L82.4,145.8 L82.9,145.6 L83.4,145.4 L83.9,145.2 L84.4,145.0 L84.9,144.8 L85.4,144.6 L85.9,144.4 L86.4,144.2 L86.9,144.0 L87.4,143.9 L87.9,143.7 L88.4,143.5 L88.9,143.3 L89.4,143.1 L89.9,142.9 L90.4,142.7 L90.9,142.5 L91.4,142.3 L91.9,142.1 L92.4,142.0 L92.9,141.8 L93.4,141.6 L93.9,141.4 L94.4,141.2 L94.9,141.0 L95.4,140.8 L95.9,140.6 L96.4,140.4 L96.9,140.2 L97.4,140.0 L97.9,139.9 L98.4,139.7 L98.9,139.5 L99.4,139.3 L99.9,139.1 L100.4,138.9 L100.9,138.7 L101.4,138.5 L101.9,138.3 L102.4,138.1 L102.9,137.9 L103.4,137.7 L103.9,137.5 L104.4,137.3 L104.9,137.1 L105.4,137.0 L105.9,136.8 L106.4,136.6 L106.9,136.4 L107.4,136.2 L107.9,136.0 L108.4,135.8 L108.9,135.6 L109.4,135.4 L109.9,135.2 L110.4,135.0 L110.9,134.8 L111.4,134.6 L111.9,134.4 L112.4,134.2 L112.9,134.0 L113.4,133.8 L113.9,133.6 L114.4,133.4 L114.9,133.2 L115.4,133.0 L115.9,132.8 L116.4,132.6 L116.9,132.3 L117.4,132.1 L117.9,131.9 L118.4,131.7 L118.9,131.5 L119.4,131.3 L119.9,131.1 L120.4,130.9 L120.9,130.7 L121.4,130.4 L121.9,130.2 L122.4,130.0 L122.9,129.8 L123.4,129.6 L123.9,129.3 L124.4,129.1 L124.9,128.9 L125.4,128.7 L125.9,128.4 L126.4,128.2 L126.9,128.0 L127.4,127.7 L127.9,127.5 L128.4,127.2 L128.9,127.0 L129.4,126.7 L129.9,126.5 L130.4,126.2 L130.9,125.9 L131.4,125.7 L131.9,125.4 L132.4,125.1 L132.9,124.8 L133.4,124.5 L133.9,124.2 L134.4,123.9 L134.9,123.6 L135.4,123.2 L135.9,122.9 L136.4,122.5 L136.9,122.2 L137.4,121.8 L137.9,121.4 L138.4,121.0 L138.9,120.5 L139.4,120.1 L139.9,119.6 L140.4,119.1 L140.9,118.6 L141.4,118.0 L141.9,117.4 L142.4,116.8 L142.9,116.2 L143.4,115.4 L143.9,114.7 L144.4,113.9 L144.9,113.1 L145.4,112.2 L145.9,111.2 L146.4,110.2 L146.9,109.2 L147.4,108.1 L147.9,107.0 L148.4,105.8 L148.9,104.7 L149.4,103.6 L149.9,102.6 L150.4,101.6 L150.9,100.8 L151.4,100.2 L151.9,99.7 L152.4,99.4 L152.9,99.4 L153.4,99.5 L153.9,99.8 L154.4,100.3 L154.9,100.9 L155.4,101.5 L155.9,102.3 L156.4,103.0 L156.9,103.8 L157.4,104.5 L157.9,105.2 L158.4,105.9 L158.9,106.5 L159.4,107.1 L159.9,107.6 L160.4,108.0 L160.9,108.5 L161.4,108.8 L161.9,109.2 L162.4,109.4 L162.9,109.7 L163.4,109.9 L163.9,110.1 L164.4,110.2 L164.9,110.4 L165.4,110.5 L165.9,110.5 L166.4,110.6 L166.9,110.6 L167.4,110.7 L167.9,110.7 L168.4,110.7 L168.9,110.6 L169.4,110.6 L169.9,110.6 L170.4,110.5 L170.9,110.5 L171.4,110.4 L171.9,110.3 L172.4,110.2 L172.9,110.1 L173.4,110.1 L173.9,110.0 L174.4,109.8 L174.9,109.7 L175.4,109.6 L175.9,109.5 L176.4,109.4 L176.9,109.3 L177.4,109.1 L177.9,109.0 L178.4,108.9 L178.9,108.7 L179.4,108.6 L179.9,108.4 L180.4,108.3 L180.9,108.2 L181.4,108.0 L181.9,107.9 L182.4,107.7 L182.9,107.5 L183.4,107.4 L183.9,107.2 L184.4,107.1 L184.9,106.9 L185.4,106.8 L185.9,106.6 L186.4,106.4 L186.9,106.3 L187.4,106.1 L187.9,106.0 L188.4,105.8 L188.9,105.6 L189.4,105.5 L189.9,105.3 L190.4,105.1 L190.9,104.9 L191.4,104.8 L191.9,104.6 L192.4,104.4 L192.9,104.3 L193.4,104.1 L193.9,103.9 L194.4,103.7 L194.9,103.6 L195.4,103.4 L195.9,103.2 L196.4,103.1 L196.9,102.9 L197.4,102.7 L197.9,102.5 L198.4,102.4 L198.9,102.2 L199.4,102.0 L199.9,101.8 L200.4,101.6 L200.9,101.5 L201.4,101.3 L201.9,101.1 L202.4,100.9 L202.9,100.8 L203.4,100.6 L203.9,100.4 L204.4,100.2 L204.9,100.0 L205.4,99.9 L205.9,99.7 L206.4,99.5 L206.9,99.3 L207.4,99.1 L207.9,99.0 L208.4,98.8 L208.9,98.6 L209.4,98.4 L209.9,98.2 L210.4,98.1 L210.9,97.9 L211.4,97.7 L211.9,97.5 L212.4,97.3 L212.9,97.2 L213.4,97.0 L213.9,96.8 L214.4,96.6 L214.9,96.4 L215.4,96.2 L215.9,96.1 L216.4,95.9 L216.9,95.7 L217.4,95.5 L217.9,95.3 L218.4,95.2 L218.9,95.0 L219.4,94.8 L219.9,94.6 L220.4,94.4 L220.9,94.2 L221.4,94.1 L221.9,93.9 L222.4,93.7 L222.9,93.5 L223.4,93.3 L223.9,93.1 L224.4,93.0 L224.9,92.8 L225.4,92.6 L225.9,92.4 L226.4,92.2 L226.9,92.0 L227.4,91.9 L227.9,91.7 L228.4,91.5 L228.9,91.3 L229.4,91.1 L229.9,90.9 L230.4,90.8 L230.9,90.6 L231.4,90.4 L231.9,90.2 L232.4,90.0 L232.9,89.8 L233.4,89.7 L233.9,89.5 L234.4,89.3 L234.9,89.1 L235.4,88.9 L235.9,88.7 L236.4,88.5 L236.9,88.4 L237.4,88.2 L237.9,88.0 L238.4,87.8 L238.9,87.6 L239.4,87.4 L239.9,87.3 L240.4,87.1 L240.9,86.9 L241.4,86.7 L241.9,86.5 L242.4,86.3 L242.9,86.2 L243.4,86.0 L243.9,85.8 L244.4,85.6 L244.9,85.4 L245.4,85.2 L245.9,85.0 L246.4,84.9 L246.9,84.7 L247.4,84.5 L247.9,84.3 L248.4,84.1 L248.9,83.9 L249.4,83.7 L249.9,83.6 L250.4,83.4 L250.9,83.2 L251.4,83.0 L251.9,82.8 L252.4,82.6 L252.9,82.5 L253.4,82.3 L253.9,82.1 L254.4,81.9 L254.9,81.7 L255.4,81.5 L255.9,81.3 L256.4,81.2 L256.9,81.0 L257.4,80.8 L257.9,80.6 L258.4,80.4 L258.9,80.2 L259.4,80.1 L259.9,79.9 L260.4,79.7 L260.9,79.5 L261.4,79.3 L261.9,79.1 L262.4,78.9 L262.9,78.8 L263.4,78.6 L263.9,78.4 L264.4,78.2 L264.9,78.0" stroke="#ff00ff" stroke-width="2.2"/>
<path d="M22.9,168.0 L23.4,167.8 L23.9,167.6 L24.4,167.4 L24.9,167.2 L25.4,167.0 L25.9,166.8 L26.4,166.7 L26.9,166.5 L27.4,166.3 L27.9,166.1 L28.4,165.9 L28.9,165.7 L29.4,165.5 L29.9,165.3 L30.4,165.2 L30.9,165.0 L31.4,164.8 L31.9,164.6 L32.4,164.4 L32.9,164.2 L33.4,164.0 L33.9,163.8 L34.4,163.7 L34.9,163.5 L35.4,163.3 L35.9,163.1 L36.4,162.9 L36.9,162.7 L37.4,162.5 L37.9,162.4 L38.4,162.2 L38.9,162.0 L39.4,161.8 L39.9,161.6 L40.4,161.4 L40.9,161.2 L41.4,161.0 L41.9,160.9 L42.4,160.7 L42.9,160.5 L43.4,160.3 L43.9,160.1 L44.4,159.9 L44.9,159.7 L45.4,159.5 L45.9,159.4 L46.4,159.2 L46.9,159.0 L47.4,158.8 L47.9,158.6 L48.4,158.4 L48.9,158.2 L49.4,158.0 L49.9,157.9 L50.4,157.7 L50.9,157.5 L51.4,157.3 L51.9,157.1 L52.4,156.9 L52.9,156.7 L53.4,156.5 L53.9,156.4 L54.4,156.2 L54.9,156.0 L55.4,155.8 L55.9,155.6 L56.4,155.4 L56.9,155.2 L57.4,155.0 L57.9,154.9 L58.4,154.7 L58.9,154.5 L59.4,154.3 L59.9,154.1 L60.4,153.9 L60.9,153.7 L61.4,153.5 L61.9,153.4 L62.4,153.2 L62.9,153.0 L63.4,152.8 L63.9,152.6 L64.4,152.4 L64.9,152.2 L65.4,152.0 L65.9,151.9 L66.4,151.7 L66.9,151.5 L67.4,151.3 L67.9,151.1 L68.4,150.9 L68.9,150.7 L69.4,150.5 L69.9,150.3 L70.4,150.2 L70.9,150.0 L71.4,149.8 L71.9,149.6 L72.4,149.4 L72.9,149.2 L73.4,149.0 L73.9,148.8 L74.4,148.6 L74.9,148.5 L75.4,148.3 L75.9,148.1 L76.4,147.9 L76.9,147.7 L77.4,147.5 L77.9,147.3 L78.4,147.1 L78.9,146.9 L79.4,146.8 L79.9,146.6 L80.4,146.4 L80.9,146.2 L81.4,146.0 L81.9,145.8 L82.4,145.6 L82.9,145.4 L83.4,145.2 L83.9,145.1 L84.4,144.9 L84.9,144.7 L85.4,144.5 L85.9,144.3 L86.4,144.1 L86.9,143.9 L87.4,143.7 L87.9,143.5 L88.4,143.3 L88.9,143.1 L89.4,143.0 L89.9,142.8 L90.4,142.6 L90.9,142.4 L91.4,142.2 L91.9,142.0 L92.4,141.8 L92.9,141.6 L93.4,141.4 L93.9,141.2 L94.4,141.0 L94.9,140.9 L95.4,140.7 L95.9,140.5 L96.4,140.3 L96.9,140.1 L97.4,139.9 L97.9,139.7 L98.4,139.5 L98.9,139.3 L99.4,139.1 L99.9,138.9 L100.4,138.7 L100.9,138.5 L101.4,138.3 L101.9,138.2 L102.4,138.0 L102.9,137.8 L103.4,137.6 L103.9,137.4 L104.4,137.2 L104.9,137.0 L105.4,136.8 L105.9,136.6 L106.4,136.4 L106.9,136.2 L107.4,136.0 L107.9,135.8 L108.4,135.6 L108.9,135.4 L109.4,135.2 L109.9,135.0 L110.4,134.8 L110.9,134.6 L111.4,134.4 L111.9,134.2 L112.4,134.0 L112.9,133.8 L113.4,133.6 L113.9,133.4 L114.4,133.2 L114.9,133.0 L115.4,132.8 L115.9,132.6 L116.4,132.4 L116.9,132.2 L117.4,132.0 L117.9,131.8 L118.4,131.6 L118.9,131.4 L119.4,131.2 L119.9,131.0 L120.4,130.8 L120.9,130.6 L121.4,130.4 L121.9,130.2 L122.4,130.0 L122.9,129.8 L123.4,129.6 L123.9,129.4 L124.4,129.2 L124.9,128.9 L125.4,128.7 L125.9,128.5 L126.4,128.3 L126.9,128.1 L127.4,127.9 L127.9,127.7 L128.4,127.5 L128.9,127.2 L129.4,127.0 L129.9,126.8 L130.4,126.6 L130.9,126.4 L131.4,126.1 L131.9,125.9 L132.4,125.7 L132.9,125.4 L133.4,125.2 L133.9,125.0 L134.4,124.8 L134.9,124.5 L135.4,124.3 L135.9,124.0 L136.4,123.8 L136.9,123.6 L137.4,123.3 L137.9,123.1 L138.4,122.8 L138.9,122.6 L139.4,122.3 L139.9,122.1 L140.4,121.8 L140.9,121.5 L141.4,121.3 L141.9,121.0 L142.4,120.7 L142.9,120.4 L143.4,120.2 L143.9,119.9 L144.4,119.6 L144.9,119.3 L145.4,119.0 L145.9,118.7 L146.4,118.3 L146.9,118.0 L147.4,117.7 L147.9,117.4 L148.4,117.0 L148.9,116.7 L149.4,116.3 L149.9,115.9 L150.4,115.5 L150.9,115.1 L151.4,114.7 L151.9,114.3 L152.4,113.9 L152.9,113.4 L153.4,113.0 L153.9,112.5 L154.4,112.0 L154.9,111.5 L155.4,110.9 L155.9,110.4 L156.4,109.8 L156.9,109.2 L157.4,108.6 L157.9,107.9 L158.4,107.2 L158.9,106.5 L159.4,105.7 L159.9,104.9 L160.4,104.1 L160.9,103.3 L161.4,102.4 L161.9,101.4 L162.4,100.5 L162.9,99.5 L163.4,98.5 L163.9,97.4 L164.4,96.3 L164.9,95.2 L165.4,94.1 L165.9,93.0 L166.4,91.9 L166.9,90.9 L167.4,89.8 L167.9,88.9 L168.4,88.0 L168.9,87.2 L169.4,86.5 L169.9,86.0 L170.4,85.5 L170.9,85.2 L171.4,85.1 L171.9,85.1 L172.4,85.3 L172.9,85.5 L173.4,85.9 L173.9,86.4 L174.4,86.9 L174.9,87.6 L175.4,88.3 L175.9,89.0 L176.4,89.7 L176.9,90.4 L177.4,91.2 L177.9,91.9 L178.4,92.6 L178.9,93.2 L179.4,93.9 L179.9,94.5 L180.4,95.0 L180.9,95.6 L181.4,96.1 L181.9,96.5 L182.4,97.0 L182.9,97.4 L183.4,97.7 L183.9,98.0 L184.4,98.3 L184.9,98.6 L185.4,98.9 L185.9,99.1 L186.4,99.3 L186.9,99.4 L187.4,99.6 L187.9,99.7 L188.4,99.8 L188.9,99.9 L189.4,100.0 L189.9,100.1 L190.4,100.1 L190.9,100.2 L191.4,100.2 L191.9,100.2 L192.4,100.2 L192.9,100.2 L193.4,100.2 L193.9,100.2 L194.4,100.2 L194.9,100.1 L195.4,100.1 L195.9,100.0 L196.4,100.0 L196.9,99.9 L197.4,99.8 L197.9,99.7 L198.4,99.7 L198.9,99.6 L199.4,99.5 L199.9,99.4 L200.4,99.3 L200.9,99.2 L201.4,99.1 L201.9,99.0 L202.4,98.9 L202.9,98.8 L203.4,98.6 L203.9,98.5 L204.4,98.4 L204.9,98.3 L205.4,98.1 L205.9,98.0 L206.4,97.9 L206.9,97.7 L207.4,97.6 L207.9,97.5 L208.4,97.3 L208.9,97.2 L209.4,97.0 L209.9,96.9 L210.4,96.7 L210.9,96.6 L211.4,96.4 L211.9,96.3 L212.4,96.1 L212.9,96.0 L213.4,95.8 L213.9,95.7 L214.4,95.5 L214.9,95.4 L215.4,95.2 L215.9,95.0 L216.4,94.9 L216.9,94.7 L217.4,94.6 L217.9,94.4 L218.4,94.2 L218.9,94.1 L219.4,93.9 L219.9,93.8 L220.4,93.6 L220.9,93.4 L221.4,93.3 L221.9,93.1 L222.4,92.9 L222.9,92.8 L223.4,92.6 L223.9,92.4 L224.4,92.2 L224.9,92.1 L225.4,91.9 L225.9,91.7 L226.4,91.6 L226.9,91.4 L227.4,91.2 L227.9,91.1 L228.4,90.9 L228.9,90.7 L229.4,90.5 L229.9,90.4 L230.4,90.2 L230.9,90.0 L231.4,89.8 L231.9,89.7 L232.4,89.5 L232.9,89.3 L233.4,89.1 L233.9,89.0 L234.4,88.8 L234.9,88.6 L235.4,88.4 L235.9,88.3 L236.4,88.1 L236.9,87.9 L237.4,87.7 L237.9,87.5 L238.4,87.4 L238.9,87.2 L239.4,87.0 L239.9,86.8 L240.4,86.7 L240.9,86.5 L241.4,86.3 L241.9,86.1 L242.4,85.9 L242.9,85.8 L243.4,85.6 L243.9,85.4 L244.4,85.2 L244.9,85.0 L245.4,84.9 L245.9,84.7 L246.4,84.5 L246.9,84.3 L247.4,84.2 L247.9,84.0 L248.4,83.8 L248.9,83.6 L249.4,83.4 L249.9,83.2 L250.4,83.1 L250.9,82.9 L251.4,82.7 L251.9,82.5 L252.4,82.3 L252.9,82.2 L253.4,82.0 L253.9,81.8 L254.4,81.6 L254.9,81.4 L255.4,81.3 L255.9,81.1 L256.4,80.9 L256.9,80.7 L257.4,80.5 L257.9,80.3 L258.4,80.2 L258.9,80.0 L259.4,79.8 L259.9,79.6 L260.4,79.4 L260.9,79.3 L261.4,79.1 L261.9,78.9 L262.4,78.7 L262.9,78.5 L263.4,78.3 L263.9,78.2 L264.4,78.0 L264.9,77.8" stroke="#008000" stroke-width="2.2"/>
<path d="M22.9,168.0 L23.4,167.9 L23.9,167.7 L24.4,167.5 L24.9,167.3 L25.4,167.1 L25.9,166.9 L26.4,166.7 L26.9,166.6 L27.4,166.4 L27.9,166.2 L28.4,166.0 L28.9,165.8 L29.4,165.6 L29.9,165.4 L30.4,165.2 L30.9,165.1 L31.4,164.9 L31.9,164.7 L32.4,164.5 L32.9,164.3 L33.4,164.1 L33.9,163.9 L34.4,163.8 L34.9,163.6 L35.4,163.4 L35.9,163.2 L36.4,163.0 L36.9,162.8 L37.4,162.6 L37.9,162.5 L38.4,162.3 L38.9,162.1 L39.4,161.9 L39.9,161.7 L40.4,161.5 L40.9,161.3 L41.4,161.2 L41.9,161.0 L42.4,160.8 L42.9,160.6 L43.4,160.4 L43.9,160.2 L44.4,160.0 L44.9,159.8 L45.4,159.7 L45.9,159.5 L46.4,159.3 L46.9,159.1 L47.4,158.9 L47.9,158.7 L48.4,158.5 L48.9,158.4 L49.4,158.2 L49.9,158.0 L50.4,157.8 L50.9,157.6 L51.4,157.4 L51.9,157.2 L52.4,157.1 L52.9,156.9 L53.4,156.7 L53.9,156.5 L54.4,156.3 L54.9,156.1 L55.4,155.9 L55.9,155.8 L56.4,155.6 L56.9,155.4 L57.4,155.2 L57.9,155.0 L58.4,154.8 L58.9,154.6 L59.4,154.4 L59.9,154.3 L60.4,154.1 L60.9,153.9 L61.4,153.7 L61.9,153.5 L62.4,153.3 L62.9,153.1 L63.4,153.0 L63.9,152.8 L64.4,152.6 L64.9,152.4 L65.4,152.2 L65.9,152.0 L66.4,151.8 L66.9,151.7 L67.4,151.5 L67.9,151.3 L68.4,151.1 L68.9,150.9 L69.4,150.7 L69.9,150.5 L70.4,150.3 L70.9,150.2 L71.4,150.0 L71.9,149.8 L72.4,149.6 L72.9,149.4 L73.4,149.2 L73.9,149.0 L74.4,148.9 L74.9,148.7 L75.4,148.5 L75.9,148.3 L76.4,148.1 L76.9,147.9 L77.4,147.7 L77.9,147.5 L78.4,147.4 L78.9,147.2 L79.4,147.0 L79.9,146.8 L80.4,146.6 L80.9,146.4 L81.4,146.2 L81.9,146.1 L82.4,145.9 L82.9,145.7 L83.4,145.5 L83.9,145.3 L84.4,145.1 L84.9,144.9 L85.4,144.8 L85.9,144.6 L86.4,144.4 L86.9,144.2 L87.4,144.0 L87.9,143.8 L88.4,143.6 L88.9,143.4 L89.4,143.3 L89.9,143.1 L90.4,142.9 L90.9,142.7 L91.4,142.5 L91.9,142.3 L92.4,142.1 L92.9,141.9 L93.4,141.8 L93.9,141.6 L94.4,141.4 L94.9,141.2 L95.4,141.0 L95.9,140.8 L96.4,140.6 L96.9,140.5 L97.4,140.3 L97.9,140.1 L98.4,139.9 L98.9,139.7 L99.4,139.5 L99.9,139.3 L100.4,139.1 L100.9,139.0 L101.4,138.8 L101.9,138.6 L102.4,138.4 L102.9,138.2 L103.4,138.0 L103.9,137.8 L104.4,137.7 L104.9,137.5 L105.4,137.3 L105.9,137.1 L106.4,136.9 L106.9,136.7 L107.4,136.5 L107.9,136.3 L108.4,136.2 L108.9,136.0 L109.4,135.8 L109.9,135.6 L110.4,135.4 L110.9,135.2 L111.4,135.0 L111.9,134.8 L112.4,134.7 L112.9,134.5 L113.4,134.3 L113.9,134.1 L114.4,133.9 L114.9,133.7 L115.4,133.5 L115.9,133.3 L116.4,133.2 L116.9,133.0 L117.4,132.8 L117.9,132.6 L118.4,132.4 L118.9,132.2 L119.4,132.0 L119.9,131.8 L120.4,131.7 L120.9,131.5 L121.4,131.3 L121.9,131.1 L122.4,130.9 L122.9,130.7 L123.4,130.5 L123.9,130.3 L124.4,130.2 L124.9,130.0 L125.4,129.8 L125.9,129.6 L126.4,129.4 L126.9,129.2 L127.4,129.0 L127.9,128.8 L128.4,128.6 L128.9,128.5 L129.4,128.3 L129.9,128.1 L130.4,127.9 L130.9,127.7 L131.4,127.5 L131.9,127.3 L132.4,127.1 L132.9,126.9 L133.4,126.8 L133.9,126.6 L134.4,126.4 L134.9,126.2 L135.4,126.0 L135.9,125.8 L136.4,125.6 L136.9,125.4 L137.4,125.2 L137.9,125.1 L138.4,124.9 L138.9,124.7 L139.4,124.5 L139.9,124.3 L140.4,124.1 L140.9,123.9 L141.4,123.7 L141.9,123.5 L142.4,123.3 L142.9,123.2 L143.4,123.0 L143.9,122.8 L144.4,122.6 L144.9,122.4 L145.4,122.2 L145.9,122.0 L146.4,121.8 L146.9,121.6 L147.4,121.4 L147.9,121.3 L148.4,121.1 L148.9,120.9 L149.4,120.7 L149.9,120.5 L150.4,120.3 L150.9,120.1 L151.4,119.9 L151.9,119.7 L152.4,119.5 L152.9,119.3 L153.4,119.1 L153.9,118.9 L154.4,118.8 L154.9,118.6 L155.4,118.4 L155.9,118.2 L156.4,118.0 L156.9,117.8 L157.4,117.6 L157.9,117.4 L158.4,117.2 L158.9,117.0 L159.4,116.8 L159.9,116.6 L160.4,116.4 L160.9,116.2 L161.4,116.0 L161.9,115.8 L162.4,115.6 L162.9,115.4 L163.4,115.2 L163.9,115.0 L164.4,114.8 L164.9,114.6 L165.4,114.4 L165.9,114.2 L166.4,114.0 L166.9,113.8 L167.4,113.6 L167.9,113.4 L168.4,113.2 L168.9,113.0 L169.4,112.8 L169.9,112.6 L170.4,112.4 L170.9,112.2 L171.4,112.0 L171.9,111.8 L172.4,111.6 L172.9,111.4 L173.4,111.2 L173.9,111.0 L174.4,110.8 L174.9,110.5 L175.4,110.3 L175.9,110.1 L176.4,109.9 L176.9,109.7 L177.4,109.5 L177.9,109.2 L178.4,109.0 L178.9,108.8 L179.4,108.6 L179.9,108.4 L180.4,108.1 L180.9,107.9 L181.4,107.7 L181.9,107.4 L182.4,107.2 L182.9,107.0 L183.4,106.7 L183.9,106.5 L184.4,106.2 L184.9,106.0 L185.4,105.7 L185.9,105.5 L186.4,105.2 L186.9,104.9 L187.4,104.7 L187.9,104.4 L188.4,104.1 L188.9,103.8 L189.4,103.5 L189.9,103.2 L190.4,102.9 L190.9,102.6 L191.4,102.3 L191.9,101.9 L192.4,101.6 L192.9,101.2 L193.4,100.9 L193.9,100.5 L194.4,100.1 L194.9,99.7 L195.4,99.2 L195.9,98.8 L196.4,98.3 L196.9,97.8 L197.4,97.3 L197.9,96.7 L198.4,96.1 L198.9,95.5 L199.4,94.8 L199.9,94.1 L200.4,93.3 L200.9,92.4 L201.4,91.4 L201.9,90.4 L202.4,89.2 L202.9,87.9 L203.4,86.5 L203.9,85.0 L204.4,83.2 L204.9,81.2 L205.4,79.0 L205.9,76.5 L206.4,73.8 L206.9,70.7 L207.4,67.3 L207.9,63.5 L208.4,59.4 L208.9,55.0 L209.4,50.5 L209.9,45.9 L210.4,41.5 L210.9,37.6 L211.4,34.5 L211.9,32.6 L212.4,31.9 L212.9,32.7 L213.4,34.7 L213.9,37.7 L214.4,41.4 L214.9,45.5 L215.4,49.8 L215.9,53.9 L216.4,57.8 L216.9,61.4 L217.4,64.7 L217.9,67.6 L218.4,70.2 L218.9,72.5 L219.4,74.5 L219.9,76.3 L220.4,77.8 L220.9,79.1 L221.4,80.3 L221.9,81.3 L222.4,82.1 L222.9,82.9 L223.4,83.5 L223.9,84.1 L224.4,84.5 L224.9,85.0 L225.4,85.3 L225.9,85.6 L226.4,85.9 L226.9,86.1 L227.4,86.3 L227.9,86.4 L228.4,86.5 L228.9,86.6 L229.4,86.7 L229.9,86.7 L230.4,86.8 L230.9,86.8 L231.4,86.8 L231.9,86.8 L232.4,86.8 L232.9,86.7 L233.4,86.7 L233.9,86.7 L234.4,86.6 L234.9,86.5 L235.4,86.5 L235.9,86.4 L236.4,86.3 L236.9,86.2 L237.4,86.1 L237.9,86.0 L238.4,85.9 L238.9,85.8 L239.4,85.7 L239.9,85.5 L240.4,85.4 L240.9,85.3 L241.4,85.2 L241.9,85.0 L242.4,84.9 L242.9,84.8 L243.4,84.6 L243.9,84.5 L244.4,84.3 L244.9,84.2 L245.4,84.0 L245.9,83.9 L246.4,83.7 L246.9,83.6 L247.4,83.4 L247.9,83.3 L248.4,83.1 L248.9,83.0 L249.4,82.8 L249.9,82.7 L250.4,82.5 L250.9,82.3 L251.4,82.2 L251.9,82.0 L252.4,81.9 L252.9,81.7 L253.4,81.5 L253.9,81.4 L254.4,81.2 L254.9,81.0 L255.4,80.9 L255.9,80.7 L256.4,80.5 L256.9,80.3 L257.4,80.2 L257.9,80.0 L258.4,79.8 L258.9,79.7 L259.4,79.5 L259.9,79.3 L260.4,79.1 L260.9,79.0 L261.4,78.8 L261.9,78.6 L262.4,78.5 L262.9,78.3 L263.4,78.1 L263.9,77.9 L264.4,77.7 L264.9,77.6" stroke="#8000ff" stroke-width="2.2"/>
</g>
<rect x="24.9" y="8.5" width="238.1" height="177.4" fill="none" stroke="#1a1a1a" stroke-width="1.7"/>
<path d="M43.60,185.9 V182.3 M90.40,185.9 V182.3 M137.20,185.9 V182.3 M184.00,185.9 V182.3 M230.80,185.9 V182.3 M67.00,185.9 V183.70000000000002 M113.80,185.9 V183.70000000000002 M160.60,185.9 V183.70000000000002 M207.40,185.9 V183.70000000000002 M254.20,185.9 V183.70000000000002" stroke="#1a1a1a" stroke-width="1.2" fill="none"/>
<text x="43.60" y="196.4" font-size="8.2" text-anchor="middle" fill="#222">880</text>
<text x="90.40" y="196.4" font-size="8.2" text-anchor="middle" fill="#222">890</text>
<text x="137.20" y="196.4" font-size="8.2" text-anchor="middle" fill="#222">900</text>
<text x="184.00" y="196.4" font-size="8.2" text-anchor="middle" fill="#222">910</text>
<text x="230.80" y="196.4" font-size="8.2" text-anchor="middle" fill="#222">920</text>
<text x="143.95" y="209.0" font-size="10.65" text-anchor="middle" fill="#111">Binding Energy / eV</text>
<text transform="translate(15.2,101.2) rotate(-90)" font-size="10.8" text-anchor="middle" fill="#111">Intensity / a.u.</text>
<text x="30.5" y="29.1" style="font-family:'Liberation Serif',serif" font-size="18.5" fill="#111">(a)</text>
<text x="232.5" y="36.2" font-size="9.9" fill="#111">Ce 3d</text>
<text x="45.3" y="58.6" font-size="9.2" fill="#222">Ce<tspan font-size="5.6" dy="-4.4">4+</tspan></text>
<text x="64.7" y="96.8" font-size="9.2" fill="#222">Ce<tspan font-size="5.6" dy="-4.4">3+</tspan></text>
<text x="86.2" y="103.2" font-size="9.2" fill="#222">Ce<tspan font-size="5.6" dy="-4.4">4+</tspan></text>
<text x="120.7" y="30.7" font-size="9.2" fill="#222">Ce<tspan font-size="5.6" dy="-4.4">4+</tspan></text>
<text x="136.0" y="43.4" font-size="9.2" fill="#222">Ce<tspan font-size="5.6" dy="-4.4">4+</tspan></text>
<text x="145.8" y="77.6" font-size="9.2" fill="#222">Ce<tspan font-size="5.6" dy="-4.4">3+</tspan></text>
<text x="169.1" y="73.7" font-size="9.2" fill="#222">Ce<tspan font-size="5.6" dy="-4.4">4+</tspan></text>
<text x="207.3" y="27.5" font-size="9.2" fill="#222">Ce<tspan font-size="5.6" dy="-4.4">4+</tspan></text>
<clipPath id="cb"><rect x="301.0" y="7.7" width="237.20000000000005" height="176.60000000000002"/></clipPath>
<g clip-path="url(#cb)" fill="none" stroke-linejoin="round" stroke-linecap="round">
<path d="M300.5,165.5 L303.3,165.0 L308.0,162.5 L314.7,158.6 L318.0,156.5 L321.2,153.7 L324.0,149.5 L326.0,144.0 L329.3,132.6 L331.5,124.5 L333.4,116.3 L335.0,108.5 L336.5,107.9 L337.0,104.9 L337.5,101.9 L338.0,98.4 L338.5,95.0 L339.0,91.5 L339.5,87.9 L340.0,83.7 L340.5,79.6 L341.0,75.7 L341.5,71.4 L342.0,67.6 L342.5,63.7 L343.0,59.9 L343.5,56.1 L344.0,52.5 L344.5,49.0 L345.0,45.8 L345.5,43.4 L346.0,40.9 L346.5,39.4 L347.0,37.5 L347.5,36.1 L348.0,35.5 L348.5,35.4 L349.0,35.7 L349.5,36.8 L350.0,37.4 L350.5,37.8 L351.0,38.5 L351.5,39.2 L352.0,39.3 L352.5,40.9 L353.0,42.8 L353.5,44.6 L354.0,46.1 L354.5,48.0 L355.0,50.0 L355.5,51.5 L356.0,53.3 L356.5,55.2 L357.0,57.2 L357.5,59.0 L358.0,60.9 L358.5,62.3 L359.0,63.9 L359.5,64.7 L360.0,65.9 L360.5,67.3 L361.0,68.3 L361.5,69.8 L362.0,71.2 L362.5,73.2 L363.0,74.5 L363.5,76.7 L364.0,78.2 L364.5,80.0 L365.0,81.8 L365.5,84.1 L366.0,85.8 L366.5,87.6 L367.0,89.8 L367.5,91.2 L368.0,93.0 L368.5,94.9 L369.0,96.8 L369.5,98.6 L370.0,100.5 L370.5,101.5 L371.0,103.4 L371.5,104.8 L372.0,106.6 L372.5,108.1 L373.0,109.5 L373.5,110.4 L374.0,111.5 L374.5,112.0 L375.0,112.5 L375.5,113.2 L376.0,113.2 L376.5,113.5 L377.0,114.9 L377.5,115.1 L378.0,114.8 L378.5,116.9 L379.0,119.4 L379.5,117.5 L380.0,118.5 L380.5,119.4 L381.0,118.2 L381.5,118.1 L382.0,119.6 L382.5,120.2 L383.0,120.4 L383.5,122.4 L384.0,121.6 L384.5,121.7 L385.0,120.9 L385.5,120.6 L386.0,121.3 L386.5,121.3 L387.0,121.6 L387.5,122.4 L388.0,122.8 L388.5,121.1 L389.0,121.8 L389.5,121.0 L390.0,120.5 L390.5,120.5 L391.0,121.4 L391.5,120.9 L392.0,120.9 L392.5,119.9 L393.0,118.1 L393.5,117.2 L394.0,116.6 L394.5,115.4 L395.0,115.4 L395.5,116.1 L396.0,115.0 L396.5,114.0 L397.0,112.7 L397.5,112.2 L398.0,109.8 L398.5,108.6 L399.0,107.2 L399.5,106.5 L400.0,105.3 L400.5,104.9 L401.0,102.6 L401.5,100.4 L402.0,98.8 L402.5,96.4 L403.0,94.2 L403.5,92.8 L404.0,90.9 L404.5,88.3 L405.0,86.6 L405.5,84.6 L406.0,82.4 L406.5,80.7 L407.0,78.9 L407.5,76.4 L408.0,74.2 L408.5,72.0 L409.0,69.5 L409.5,67.7 L410.0,66.0 L410.5,64.1 L411.0,62.0 L411.5,60.3 L412.0,58.0 L412.5,56.0 L413.0,54.2 L413.5,52.5 L414.0,51.1 L414.5,49.9 L415.0,49.1 L415.5,47.5 L416.0,46.7 L416.5,45.5 L417.0,44.5 L417.5,43.0 L418.0,42.6 L418.5,42.1 L419.0,41.8 L419.5,41.6 L420.0,41.9 L420.5,42.4 L421.0,42.5 L421.5,42.5 L422.0,42.9 L422.5,43.2 L423.0,42.8 L423.5,43.5 L424.0,45.1 L424.5,46.1 L425.0,47.3 L425.5,48.8 L426.0,50.3 L426.5,51.2 L427.0,52.3 L427.5,53.8 L428.0,55.3 L428.5,56.9 L429.0,58.7 L429.5,60.5 L430.0,62.0 L430.5,64.0 L431.0,65.5 L431.5,67.4 L432.0,68.9 L432.5,71.0 L433.0,72.7 L433.5,74.4 L434.0,76.4 L434.5,78.8 L435.0,80.5 L435.5,82.4 L436.0,84.5 L436.5,85.3 L437.0,86.7 L437.5,88.4 L438.0,89.9 L438.5,91.1 L439.0,93.2 L439.5,94.6 L440.0,96.3 L440.5,97.8 L441.0,99.4 L441.5,101.1 L442.0,102.3 L442.5,103.2 L443.0,103.9 L443.5,105.4 L444.0,106.4 L444.5,107.8 L445.0,109.1 L445.5,110.8 L446.0,111.7 L446.5,112.5 L447.0,113.4 L447.5,114.2 L448.0,115.5 L448.5,116.5 L449.0,117.5 L449.5,118.2 L450.0,118.9 L450.5,119.5 L451.0,120.1 L451.5,120.7 L452.0,121.4 L452.5,121.8 L453.0,121.9 L453.5,122.5 L454.0,122.9 L454.5,123.4 L455.0,124.1 L455.5,124.4 L456.0,123.9 L456.5,124.1 L457.0,124.1 L457.5,124.6 L458.0,124.4 L458.5,125.5 L459.0,126.6 L459.5,127.1 L460.0,126.5 L460.5,127.2 L461.0,127.1 L461.5,125.5 L462.0,126.2 L462.5,128.4 L463.0,128.3 L463.5,128.5 L464.0,128.7 L464.5,128.9 L465.0,126.9 L465.5,126.5 L466.0,127.9 L466.5,128.2 L467.0,129.0 L467.5,131.3 L468.0,132.5 L468.5,132.2 L469.0,134.5 L469.5,133.9 L470.0,132.6 L470.5,131.6 L471.0,131.5 L471.5,131.4 L472.0,132.4 L472.5,132.4 L473.0,132.9 L473.5,132.8 L474.0,132.1 L474.5,131.5 L475.0,132.5 L475.5,133.5 L476.0,133.8 L476.5,133.8 L477.0,134.2 L477.5,134.2 L478.0,134.5 L478.5,136.2 L479.0,136.9 L479.5,136.9 L480.0,135.9 L480.5,136.0 L481.0,133.4 L481.5,132.1 L482.0,132.8 L482.5,134.7 L483.0,134.4 L483.5,134.7 L484.0,135.6 L484.5,134.6 L485.0,134.7 L485.5,136.6 L486.0,138.1 L486.5,137.9 L487.0,137.6 L487.5,137.2 L488.0,135.6 L488.5,134.7 L489.0,135.5 L489.5,135.6 L490.0,136.5 L490.5,137.5 L491.0,139.2 L491.5,138.9 L492.0,140.1 L492.5,139.3 L493.0,138.4 L493.5,137.4 L494.0,136.9 L494.5,135.6 L495.0,136.3 L495.5,136.6 L496.0,137.0 L496.5,138.7 L497.0,138.6 L497.5,137.5 L498.0,137.9 L498.5,138.0 L499.0,137.1 L499.5,139.1 L500.0,139.9 L500.5,139.1 L501.0,138.3 L501.5,139.3 L502.0,139.1 L502.5,137.9 L503.0,139.7 L503.5,140.7 L504.0,141.1 L504.5,140.8 L505.0,141.8 L505.5,140.6 L506.0,141.7 L506.5,141.0 L507.0,142.1 L507.5,142.0 L508.0,142.6 L508.5,141.0 L509.0,141.0 L509.5,141.0 L510.0,140.9 L510.5,141.2 L511.0,142.0 L511.5,141.8 L512.0,141.3 L512.5,141.6 L513.0,141.2 L513.5,140.9 L514.0,141.0 L514.5,141.1 L515.0,140.9 L515.5,140.5 L516.0,140.6 L516.5,141.3 L517.0,140.8 L517.5,141.2 L518.0,141.5 L518.5,141.1 L519.0,141.1 L519.5,141.5 L520.0,142.1 L520.5,142.0 L521.0,142.5 L521.5,142.1 L522.0,142.0 L522.5,141.7 L523.0,141.9 L523.5,142.0 L524.0,142.1 L524.5,142.0 L525.0,141.7 L525.5,141.8 L526.0,141.9 L526.5,141.6 L527.0,142.0 L527.5,141.4 L528.0,141.6 L528.5,140.9 L529.0,140.6 L529.5,140.6 L530.0,141.6 L530.5,140.8 L531.0,140.8 L531.5,141.1 L532.0,140.7 L532.5,140.5 L533.0,140.7 L533.5,140.9 L534.0,141.3 L534.5,141.4 L535.0,141.5 L535.5,141.4 L536.0,141.2 L536.5,140.3 L537.0,141.2 L537.5,141.0 L538.0,141.4 L538.5,141.8 L539.0,142.5 L539.5,141.8 L540.0,141.9" stroke="#000" stroke-width="1.6"/>
<path d="M299.0,161.1 L299.5,161.0 L300.0,160.9 L300.5,160.7 L301.0,160.6 L301.5,160.5 L302.0,160.4 L302.5,160.3 L303.0,160.2 L303.5,160.0 L304.0,159.9 L304.5,159.8 L305.0,159.6 L305.5,159.5 L306.0,159.3 L306.5,159.2 L307.0,159.1 L307.5,158.9 L308.0,158.7 L308.5,158.6 L309.0,158.4 L309.5,158.2 L310.0,158.1 L310.5,157.9 L311.0,157.7 L311.5,157.5 L312.0,157.3 L312.5,157.1 L313.0,156.9 L313.5,156.7 L314.0,156.5 L314.5,156.2 L315.0,156.0 L315.5,155.7 L316.0,155.5 L316.5,155.2 L317.0,154.9 L317.5,154.6 L318.0,154.3 L318.5,154.0 L319.0,153.7 L319.5,153.3 L320.0,153.0 L320.5,152.6 L321.0,152.2 L321.5,151.8 L322.0,151.3 L322.5,150.8 L323.0,150.3 L323.5,149.8 L324.0,149.3 L324.5,148.7 L325.0,148.0 L325.5,147.4 L326.0,146.7 L326.5,145.9 L327.0,145.1 L327.5,144.3 L328.0,143.4 L328.5,142.4 L329.0,141.4 L329.5,140.3 L330.0,139.2 L330.5,137.9 L331.0,136.6 L331.5,135.2 L332.0,133.8 L332.5,132.2 L333.0,130.5 L333.5,128.8 L334.0,126.9 L334.5,124.9 L335.0,122.8 L335.5,120.7 L336.0,118.4 L336.5,116.0 L337.0,113.4 L337.5,110.8 L338.0,108.1 L338.5,105.2 L339.0,102.3 L339.5,99.3 L340.0,96.2 L340.5,93.1 L341.0,89.9 L341.5,86.8 L342.0,83.7 L342.5,80.6 L343.0,77.7 L343.5,74.9 L344.0,72.3 L344.5,69.9 L345.0,67.8 L345.5,66.1 L346.0,64.7 L346.5,63.8 L347.0,63.2 L347.5,63.1 L348.0,63.5 L348.5,64.3 L349.0,65.5 L349.5,67.1 L350.0,69.0 L350.5,71.3 L351.0,73.8 L351.5,76.5 L352.0,79.3 L352.5,82.3 L353.0,85.3 L353.5,88.4 L354.0,91.4 L354.5,94.5 L355.0,97.5 L355.5,100.4 L356.0,103.3 L356.5,106.1 L357.0,108.8 L357.5,111.3 L358.0,113.8 L358.5,116.1 L359.0,118.4 L359.5,120.5 L360.0,122.5 L360.5,124.4 L361.0,126.2 L361.5,127.9 L362.0,129.6 L362.5,131.1 L363.0,132.5 L363.5,133.8 L364.0,135.0 L364.5,136.2 L365.0,137.3 L365.5,138.3 L366.0,139.3 L366.5,140.2 L367.0,141.0 L367.5,141.8 L368.0,142.5 L368.5,143.2 L369.0,143.8 L369.5,144.4 L370.0,145.0 L370.5,145.5 L371.0,146.0 L371.5,146.4 L372.0,146.8 L372.5,147.2 L373.0,147.6 L373.5,147.9 L374.0,148.3 L374.5,148.6 L375.0,148.9 L375.5,149.1 L376.0,149.4 L376.5,149.6 L377.0,149.9 L377.5,150.1 L378.0,150.3 L378.5,150.5 L379.0,150.7 L379.5,150.8 L380.0,151.0 L380.5,151.1 L381.0,151.3 L381.5,151.4 L382.0,151.6 L382.5,151.7 L383.0,151.8 L383.5,151.9 L384.0,152.0 L384.5,152.1 L385.0,152.2 L385.5,152.3 L386.0,152.4 L386.5,152.5 L387.0,152.6 L387.5,152.6 L388.0,152.7 L388.5,152.8 L389.0,152.8 L389.5,152.9 L390.0,153.0 L390.5,153.0 L391.0,153.1 L391.5,153.1 L392.0,153.2 L392.5,153.2 L393.0,153.2 L393.5,153.3 L394.0,153.3 L394.5,153.3 L395.0,153.4 L395.5,153.4 L396.0,153.4 L396.5,153.5 L397.0,153.5 L397.5,153.5 L398.0,153.5 L398.5,153.5 L399.0,153.6 L399.5,153.6 L400.0,153.6 L400.5,153.6 L401.0,153.6 L401.5,153.6 L402.0,153.6 L402.5,153.6 L403.0,153.6 L403.5,153.6 L404.0,153.6 L404.5,153.6 L405.0,153.6 L405.5,153.7 L406.0,153.6 L406.5,153.6 L407.0,153.6 L407.5,153.6 L408.0,153.6 L408.5,153.6 L409.0,153.6 L409.5,153.6 L410.0,153.6 L410.5,153.6 L411.0,153.6 L411.5,153.6 L412.0,153.6 L412.5,153.6 L413.0,153.6 L413.5,153.5 L414.0,153.5 L414.5,153.5 L415.0,153.5 L415.5,153.5 L416.0,153.5 L416.5,153.5 L417.0,153.4 L417.5,153.4 L418.0,153.4 L418.5,153.4 L419.0,153.4 L419.5,153.4 L420.0,153.3 L420.5,153.3 L421.0,153.3 L421.5,153.3 L422.0,153.3 L422.5,153.2 L423.0,153.2 L423.5,153.2 L424.0,153.2 L424.5,153.1 L425.0,153.1 L425.5,153.1 L426.0,153.1 L426.5,153.1 L427.0,153.0 L427.5,153.0 L428.0,153.0 L428.5,153.0 L429.0,152.9 L429.5,152.9 L430.0,152.9 L430.5,152.9 L431.0,152.8 L431.5,152.8 L432.0,152.8 L432.5,152.7 L433.0,152.7 L433.5,152.7 L434.0,152.7 L434.5,152.6 L435.0,152.6 L435.5,152.6 L436.0,152.6 L436.5,152.5 L437.0,152.5 L437.5,152.5 L438.0,152.4 L438.5,152.4 L439.0,152.4 L439.5,152.4 L440.0,152.3 L440.5,152.3 L441.0,152.3 L441.5,152.2 L442.0,152.2 L442.5,152.2 L443.0,152.1 L443.5,152.1 L444.0,152.1 L444.5,152.1 L445.0,152.0 L445.5,152.0 L446.0,152.0 L446.5,151.9 L447.0,151.9 L447.5,151.9 L448.0,151.8 L448.5,151.8 L449.0,151.8 L449.5,151.7 L450.0,151.7 L450.5,151.7 L451.0,151.6 L451.5,151.6 L452.0,151.6 L452.5,151.5 L453.0,151.5 L453.5,151.5 L454.0,151.4 L454.5,151.4 L455.0,151.4 L455.5,151.3 L456.0,151.3 L456.5,151.3 L457.0,151.2 L457.5,151.2 L458.0,151.2 L458.5,151.1 L459.0,151.1 L459.5,151.1 L460.0,151.0 L460.5,151.0 L461.0,151.0 L461.5,150.9 L462.0,150.9 L462.5,150.9 L463.0,150.8 L463.5,150.8 L464.0,150.8 L464.5,150.7 L465.0,150.7 L465.5,150.7 L466.0,150.6 L466.5,150.6 L467.0,150.6 L467.5,150.5 L468.0,150.5 L468.5,150.5 L469.0,150.4 L469.5,150.4 L470.0,150.4 L470.5,150.3 L471.0,150.3 L471.5,150.2 L472.0,150.2 L472.5,150.2 L473.0,150.1 L473.5,150.1 L474.0,150.1 L474.5,150.0 L475.0,150.0 L475.5,150.0 L476.0,149.9 L476.5,149.9 L477.0,149.9 L477.5,149.8 L478.0,149.8 L478.5,149.7 L479.0,149.7 L479.5,149.7 L480.0,149.6 L480.5,149.6 L481.0,149.6 L481.5,149.5 L482.0,149.5 L482.5,149.5 L483.0,149.4 L483.5,149.4 L484.0,149.3 L484.5,149.3 L485.0,149.3 L485.5,149.2 L486.0,149.2 L486.5,149.2 L487.0,149.1 L487.5,149.1 L488.0,149.1 L488.5,149.0 L489.0,149.0 L489.5,148.9 L490.0,148.9 L490.5,148.9 L491.0,148.8 L491.5,148.8 L492.0,148.8 L492.5,148.7 L493.0,148.7 L493.5,148.6 L494.0,148.6 L494.5,148.6 L495.0,148.5 L495.5,148.5 L496.0,148.5 L496.5,148.4 L497.0,148.4 L497.5,148.3 L498.0,148.3 L498.5,148.3 L499.0,148.2 L499.5,148.2 L500.0,148.2 L500.5,148.1 L501.0,148.1 L501.5,148.1 L502.0,148.0 L502.5,148.0 L503.0,147.9 L503.5,147.9 L504.0,147.9 L504.5,147.8 L505.0,147.8 L505.5,147.8 L506.0,147.7 L506.5,147.7 L507.0,147.6 L507.5,147.6 L508.0,147.6 L508.5,147.5 L509.0,147.5 L509.5,147.4 L510.0,147.4 L510.5,147.4 L511.0,147.3 L511.5,147.3 L512.0,147.3 L512.5,147.2 L513.0,147.2 L513.5,147.1 L514.0,147.1 L514.5,147.1 L515.0,147.0 L515.5,147.0 L516.0,147.0 L516.5,146.9 L517.0,146.9 L517.5,146.8 L518.0,146.8 L518.5,146.8 L519.0,146.7 L519.5,146.7 L520.0,146.7 L520.5,146.6 L521.0,146.6 L521.5,146.5 L522.0,146.5 L522.5,146.5 L523.0,146.4 L523.5,146.4 L524.0,146.3 L524.5,146.3 L525.0,146.3 L525.5,146.2 L526.0,146.2 L526.5,146.2 L527.0,146.1 L527.5,146.1 L528.0,146.0 L528.5,146.0 L529.0,146.0 L529.5,145.9 L530.0,145.9 L530.5,145.9 L531.0,145.8 L531.5,145.8 L532.0,145.7 L532.5,145.7 L533.0,145.7 L533.5,145.6 L534.0,145.6 L534.5,145.5 L535.0,145.5 L535.5,145.5 L536.0,145.4 L536.5,145.4 L537.0,145.4 L537.5,145.3 L538.0,145.3 L538.5,145.2 L539.0,145.2 L539.5,145.2 L540.0,145.1" stroke="#008080" stroke-width="2.1"/>
<path d="M299.0,162.2 L299.5,162.1 L300.0,162.1 L300.5,162.0 L301.0,161.9 L301.5,161.8 L302.0,161.8 L302.5,161.7 L303.0,161.6 L303.5,161.5 L304.0,161.4 L304.5,161.4 L305.0,161.3 L305.5,161.2 L306.0,161.1 L306.5,161.0 L307.0,160.9 L307.5,160.8 L308.0,160.8 L308.5,160.7 L309.0,160.6 L309.5,160.5 L310.0,160.4 L310.5,160.3 L311.0,160.2 L311.5,160.1 L312.0,160.0 L312.5,159.9 L313.0,159.8 L313.5,159.7 L314.0,159.6 L314.5,159.4 L315.0,159.3 L315.5,159.2 L316.0,159.1 L316.5,159.0 L317.0,158.9 L317.5,158.7 L318.0,158.6 L318.5,158.5 L319.0,158.3 L319.5,158.2 L320.0,158.1 L320.5,157.9 L321.0,157.8 L321.5,157.6 L322.0,157.5 L322.5,157.3 L323.0,157.2 L323.5,157.0 L324.0,156.8 L324.5,156.7 L325.0,156.5 L325.5,156.3 L326.0,156.1 L326.5,155.9 L327.0,155.7 L327.5,155.5 L328.0,155.3 L328.5,155.1 L329.0,154.9 L329.5,154.7 L330.0,154.4 L330.5,154.2 L331.0,154.0 L331.5,153.7 L332.0,153.4 L332.5,153.2 L333.0,152.9 L333.5,152.6 L334.0,152.3 L334.5,152.0 L335.0,151.7 L335.5,151.3 L336.0,151.0 L336.5,150.6 L337.0,150.3 L337.5,149.9 L338.0,149.5 L338.5,149.1 L339.0,148.6 L339.5,148.2 L340.0,147.7 L340.5,147.3 L341.0,146.8 L341.5,146.2 L342.0,145.7 L342.5,145.1 L343.0,144.5 L343.5,143.9 L344.0,143.3 L344.5,142.7 L345.0,142.0 L345.5,141.3 L346.0,140.5 L346.5,139.8 L347.0,139.0 L347.5,138.1 L348.0,137.3 L348.5,136.4 L349.0,135.5 L349.5,134.5 L350.0,133.5 L350.5,132.5 L351.0,131.5 L351.5,130.4 L352.0,129.4 L352.5,128.2 L353.0,127.1 L353.5,126.0 L354.0,124.8 L354.5,123.7 L355.0,122.5 L355.5,121.3 L356.0,120.2 L356.5,119.1 L357.0,118.0 L357.5,117.0 L358.0,116.0 L358.5,115.1 L359.0,114.2 L359.5,113.5 L360.0,112.8 L360.5,112.2 L361.0,111.8 L361.5,111.4 L362.0,111.2 L362.5,111.1 L363.0,111.1 L363.5,111.3 L364.0,111.5 L364.5,111.9 L365.0,112.4 L365.5,113.0 L366.0,113.7 L366.5,114.4 L367.0,115.3 L367.5,116.2 L368.0,117.1 L368.5,118.1 L369.0,119.2 L369.5,120.2 L370.0,121.3 L370.5,122.4 L371.0,123.5 L371.5,124.5 L372.0,125.6 L372.5,126.6 L373.0,127.7 L373.5,128.7 L374.0,129.7 L374.5,130.6 L375.0,131.6 L375.5,132.5 L376.0,133.3 L376.5,134.2 L377.0,135.0 L377.5,135.7 L378.0,136.5 L378.5,137.2 L379.0,137.9 L379.5,138.6 L380.0,139.2 L380.5,139.8 L381.0,140.4 L381.5,140.9 L382.0,141.4 L382.5,142.0 L383.0,142.4 L383.5,142.9 L384.0,143.3 L384.5,143.8 L385.0,144.2 L385.5,144.5 L386.0,144.9 L386.5,145.3 L387.0,145.6 L387.5,145.9 L388.0,146.2 L388.5,146.5 L389.0,146.8 L389.5,147.0 L390.0,147.3 L390.5,147.5 L391.0,147.8 L391.5,148.0 L392.0,148.2 L392.5,148.4 L393.0,148.6 L393.5,148.8 L394.0,149.0 L394.5,149.1 L395.0,149.3 L395.5,149.4 L396.0,149.6 L396.5,149.7 L397.0,149.9 L397.5,150.0 L398.0,150.1 L398.5,150.2 L399.0,150.3 L399.5,150.4 L400.0,150.5 L400.5,150.6 L401.0,150.7 L401.5,150.8 L402.0,150.9 L402.5,151.0 L403.0,151.1 L403.5,151.1 L404.0,151.2 L404.5,151.3 L405.0,151.3 L405.5,151.4 L406.0,151.4 L406.5,151.5 L407.0,151.5 L407.5,151.6 L408.0,151.6 L408.5,151.7 L409.0,151.7 L409.5,151.8 L410.0,151.8 L410.5,151.8 L411.0,151.9 L411.5,151.9 L412.0,151.9 L412.5,151.9 L413.0,152.0 L413.5,152.0 L414.0,152.0 L414.5,152.0 L415.0,152.1 L415.5,152.1 L416.0,152.1 L416.5,152.1 L417.0,152.1 L417.5,152.1 L418.0,152.1 L418.5,152.1 L419.0,152.1 L419.5,152.2 L420.0,152.2 L420.5,152.2 L421.0,152.2 L421.5,152.2 L422.0,152.2 L422.5,152.2 L423.0,152.2 L423.5,152.2 L424.0,152.2 L424.5,152.2 L425.0,152.2 L425.5,152.2 L426.0,152.1 L426.5,152.1 L427.0,152.1 L427.5,152.1 L428.0,152.1 L428.5,152.1 L429.0,152.1 L429.5,152.1 L430.0,152.1 L430.5,152.1 L431.0,152.1 L431.5,152.0 L432.0,152.0 L432.5,152.0 L433.0,152.0 L433.5,152.0 L434.0,152.0 L434.5,152.0 L435.0,151.9 L435.5,151.9 L436.0,151.9 L436.5,151.9 L437.0,151.9 L437.5,151.8 L438.0,151.8 L438.5,151.8 L439.0,151.8 L439.5,151.8 L440.0,151.7 L440.5,151.7 L441.0,151.7 L441.5,151.7 L442.0,151.7 L442.5,151.6 L443.0,151.6 L443.5,151.6 L444.0,151.6 L444.5,151.5 L445.0,151.5 L445.5,151.5 L446.0,151.5 L446.5,151.5 L447.0,151.4 L447.5,151.4 L448.0,151.4 L448.5,151.4 L449.0,151.3 L449.5,151.3 L450.0,151.3 L450.5,151.2 L451.0,151.2 L451.5,151.2 L452.0,151.2 L452.5,151.1 L453.0,151.1 L453.5,151.1 L454.0,151.1 L454.5,151.0 L455.0,151.0 L455.5,151.0 L456.0,150.9 L456.5,150.9 L457.0,150.9 L457.5,150.9 L458.0,150.8 L458.5,150.8 L459.0,150.8 L459.5,150.7 L460.0,150.7 L460.5,150.7 L461.0,150.7 L461.5,150.6 L462.0,150.6 L462.5,150.6 L463.0,150.5 L463.5,150.5 L464.0,150.5 L464.5,150.4 L465.0,150.4 L465.5,150.4 L466.0,150.3 L466.5,150.3 L467.0,150.3 L467.5,150.2 L468.0,150.2 L468.5,150.2 L469.0,150.2 L469.5,150.1 L470.0,150.1 L470.5,150.1 L471.0,150.0 L471.5,150.0 L472.0,150.0 L472.5,149.9 L473.0,149.9 L473.5,149.9 L474.0,149.8 L474.5,149.8 L475.0,149.8 L475.5,149.7 L476.0,149.7 L476.5,149.7 L477.0,149.6 L477.5,149.6 L478.0,149.6 L478.5,149.5 L479.0,149.5 L479.5,149.5 L480.0,149.4 L480.5,149.4 L481.0,149.4 L481.5,149.3 L482.0,149.3 L482.5,149.3 L483.0,149.2 L483.5,149.2 L484.0,149.2 L484.5,149.1 L485.0,149.1 L485.5,149.0 L486.0,149.0 L486.5,149.0 L487.0,148.9 L487.5,148.9 L488.0,148.9 L488.5,148.8 L489.0,148.8 L489.5,148.8 L490.0,148.7 L490.5,148.7 L491.0,148.7 L491.5,148.6 L492.0,148.6 L492.5,148.6 L493.0,148.5 L493.5,148.5 L494.0,148.4 L494.5,148.4 L495.0,148.4 L495.5,148.3 L496.0,148.3 L496.5,148.3 L497.0,148.2 L497.5,148.2 L498.0,148.2 L498.5,148.1 L499.0,148.1 L499.5,148.1 L500.0,148.0 L500.5,148.0 L501.0,147.9 L501.5,147.9 L502.0,147.9 L502.5,147.8 L503.0,147.8 L503.5,147.8 L504.0,147.7 L504.5,147.7 L505.0,147.7 L505.5,147.6 L506.0,147.6 L506.5,147.5 L507.0,147.5 L507.5,147.5 L508.0,147.4 L508.5,147.4 L509.0,147.4 L509.5,147.3 L510.0,147.3 L510.5,147.3 L511.0,147.2 L511.5,147.2 L512.0,147.1 L512.5,147.1 L513.0,147.1 L513.5,147.0 L514.0,147.0 L514.5,147.0 L515.0,146.9 L515.5,146.9 L516.0,146.8 L516.5,146.8 L517.0,146.8 L517.5,146.7 L518.0,146.7 L518.5,146.7 L519.0,146.6 L519.5,146.6 L520.0,146.5 L520.5,146.5 L521.0,146.5 L521.5,146.4 L522.0,146.4 L522.5,146.4 L523.0,146.3 L523.5,146.3 L524.0,146.3 L524.5,146.2 L525.0,146.2 L525.5,146.1 L526.0,146.1 L526.5,146.1 L527.0,146.0 L527.5,146.0 L528.0,146.0 L528.5,145.9 L529.0,145.9 L529.5,145.8 L530.0,145.8 L530.5,145.8 L531.0,145.7 L531.5,145.7 L532.0,145.6 L532.5,145.6 L533.0,145.6 L533.5,145.5 L534.0,145.5 L534.5,145.5 L535.0,145.4 L535.5,145.4 L536.0,145.3 L536.5,145.3 L537.0,145.3 L537.5,145.2 L538.0,145.2 L538.5,145.2 L539.0,145.1 L539.5,145.1 L540.0,145.0" stroke="#ff00ff" stroke-width="2.1"/>
<path d="M299.0,163.8 L299.5,163.8 L300.0,163.7 L300.5,163.7 L301.0,163.6 L301.5,163.6 L302.0,163.5 L302.5,163.5 L303.0,163.4 L303.5,163.4 L304.0,163.4 L304.5,163.3 L305.0,163.3 L305.5,163.2 L306.0,163.2 L306.5,163.1 L307.0,163.1 L307.5,163.0 L308.0,163.0 L308.5,162.9 L309.0,162.9 L309.5,162.8 L310.0,162.8 L310.5,162.8 L311.0,162.7 L311.5,162.7 L312.0,162.6 L312.5,162.6 L313.0,162.5 L313.5,162.5 L314.0,162.4 L314.5,162.4 L315.0,162.3 L315.5,162.3 L316.0,162.2 L316.5,162.2 L317.0,162.1 L317.5,162.1 L318.0,162.0 L318.5,162.0 L319.0,161.9 L319.5,161.9 L320.0,161.8 L320.5,161.8 L321.0,161.7 L321.5,161.7 L322.0,161.6 L322.5,161.6 L323.0,161.5 L323.5,161.5 L324.0,161.4 L324.5,161.4 L325.0,161.3 L325.5,161.3 L326.0,161.2 L326.5,161.2 L327.0,161.1 L327.5,161.1 L328.0,161.0 L328.5,161.0 L329.0,160.9 L329.5,160.9 L330.0,160.8 L330.5,160.8 L331.0,160.7 L331.5,160.7 L332.0,160.6 L332.5,160.6 L333.0,160.5 L333.5,160.5 L334.0,160.4 L334.5,160.4 L335.0,160.3 L335.5,160.2 L336.0,160.2 L336.5,160.1 L337.0,160.1 L337.5,160.0 L338.0,160.0 L338.5,159.9 L339.0,159.9 L339.5,159.8 L340.0,159.7 L340.5,159.7 L341.0,159.6 L341.5,159.6 L342.0,159.5 L342.5,159.4 L343.0,159.4 L343.5,159.3 L344.0,159.3 L344.5,159.2 L345.0,159.1 L345.5,159.1 L346.0,159.0 L346.5,159.0 L347.0,158.9 L347.5,158.8 L348.0,158.8 L348.5,158.7 L349.0,158.6 L349.5,158.6 L350.0,158.5 L350.5,158.4 L351.0,158.4 L351.5,158.3 L352.0,158.2 L352.5,158.2 L353.0,158.1 L353.5,158.0 L354.0,158.0 L354.5,157.9 L355.0,157.8 L355.5,157.8 L356.0,157.7 L356.5,157.6 L357.0,157.5 L357.5,157.5 L358.0,157.4 L358.5,157.3 L359.0,157.2 L359.5,157.1 L360.0,157.1 L360.5,157.0 L361.0,156.9 L361.5,156.8 L362.0,156.7 L362.5,156.6 L363.0,156.6 L363.5,156.5 L364.0,156.4 L364.5,156.3 L365.0,156.2 L365.5,156.1 L366.0,156.0 L366.5,155.9 L367.0,155.8 L367.5,155.7 L368.0,155.6 L368.5,155.5 L369.0,155.4 L369.5,155.3 L370.0,155.2 L370.5,155.1 L371.0,154.9 L371.5,154.8 L372.0,154.7 L372.5,154.6 L373.0,154.4 L373.5,154.3 L374.0,154.2 L374.5,154.0 L375.0,153.9 L375.5,153.7 L376.0,153.5 L376.5,153.4 L377.0,153.2 L377.5,153.0 L378.0,152.8 L378.5,152.6 L379.0,152.4 L379.5,152.2 L380.0,151.9 L380.5,151.7 L381.0,151.4 L381.5,151.2 L382.0,150.9 L382.5,150.6 L383.0,150.3 L383.5,149.9 L384.0,149.6 L384.5,149.2 L385.0,148.8 L385.5,148.4 L386.0,148.0 L386.5,147.5 L387.0,147.0 L387.5,146.5 L388.0,146.0 L388.5,145.4 L389.0,144.8 L389.5,144.2 L390.0,143.5 L390.5,142.8 L391.0,142.0 L391.5,141.3 L392.0,140.4 L392.5,139.6 L393.0,138.7 L393.5,137.7 L394.0,136.7 L394.5,135.7 L395.0,134.6 L395.5,133.5 L396.0,132.3 L396.5,131.1 L397.0,129.8 L397.5,128.5 L398.0,127.1 L398.5,125.6 L399.0,124.2 L399.5,122.6 L400.0,121.1 L400.5,119.4 L401.0,117.8 L401.5,116.0 L402.0,114.3 L402.5,112.5 L403.0,110.6 L403.5,108.7 L404.0,106.8 L404.5,104.8 L405.0,102.9 L405.5,100.8 L406.0,98.8 L406.5,96.8 L407.0,94.7 L407.5,92.6 L408.0,90.6 L408.5,88.5 L409.0,86.4 L409.5,84.4 L410.0,82.4 L410.5,80.4 L411.0,78.4 L411.5,76.5 L412.0,74.7 L412.5,72.9 L413.0,71.2 L413.5,69.6 L414.0,68.1 L414.5,66.6 L415.0,65.3 L415.5,64.1 L416.0,63.1 L416.5,62.1 L417.0,61.3 L417.5,60.7 L418.0,60.2 L418.5,59.8 L419.0,59.7 L419.5,59.6 L420.0,59.8 L420.5,60.1 L421.0,60.5 L421.5,61.1 L422.0,61.8 L422.5,62.7 L423.0,63.7 L423.5,64.9 L424.0,66.1 L424.5,67.5 L425.0,69.0 L425.5,70.5 L426.0,72.2 L426.5,73.9 L427.0,75.7 L427.5,77.5 L428.0,79.4 L428.5,81.3 L429.0,83.2 L429.5,85.2 L430.0,87.2 L430.5,89.2 L431.0,91.2 L431.5,93.1 L432.0,95.1 L432.5,97.1 L433.0,99.0 L433.5,101.0 L434.0,102.9 L434.5,104.7 L435.0,106.6 L435.5,108.4 L436.0,110.1 L436.5,111.9 L437.0,113.5 L437.5,115.2 L438.0,116.8 L438.5,118.3 L439.0,119.8 L439.5,121.2 L440.0,122.6 L440.5,124.0 L441.0,125.3 L441.5,126.5 L442.0,127.7 L442.5,128.8 L443.0,129.9 L443.5,131.0 L444.0,132.0 L444.5,132.9 L445.0,133.8 L445.5,134.7 L446.0,135.5 L446.5,136.3 L447.0,137.0 L447.5,137.7 L448.0,138.4 L448.5,139.0 L449.0,139.6 L449.5,140.1 L450.0,140.6 L450.5,141.1 L451.0,141.6 L451.5,142.0 L452.0,142.4 L452.5,142.8 L453.0,143.1 L453.5,143.5 L454.0,143.8 L454.5,144.1 L455.0,144.3 L455.5,144.6 L456.0,144.8 L456.5,145.0 L457.0,145.2 L457.5,145.4 L458.0,145.6 L458.5,145.7 L459.0,145.9 L459.5,146.0 L460.0,146.2 L460.5,146.3 L461.0,146.4 L461.5,146.5 L462.0,146.6 L462.5,146.7 L463.0,146.8 L463.5,146.9 L464.0,146.9 L464.5,147.0 L465.0,147.1 L465.5,147.1 L466.0,147.2 L466.5,147.2 L467.0,147.3 L467.5,147.3 L468.0,147.3 L468.5,147.4 L469.0,147.4 L469.5,147.4 L470.0,147.5 L470.5,147.5 L471.0,147.5 L471.5,147.5 L472.0,147.6 L472.5,147.6 L473.0,147.6 L473.5,147.6 L474.0,147.6 L474.5,147.6 L475.0,147.6 L475.5,147.6 L476.0,147.7 L476.5,147.7 L477.0,147.7 L477.5,147.7 L478.0,147.7 L478.5,147.7 L479.0,147.7 L479.5,147.7 L480.0,147.7 L480.5,147.7 L481.0,147.7 L481.5,147.7 L482.0,147.7 L482.5,147.7 L483.0,147.6 L483.5,147.6 L484.0,147.6 L484.5,147.6 L485.0,147.6 L485.5,147.6 L486.0,147.6 L486.5,147.6 L487.0,147.6 L487.5,147.6 L488.0,147.5 L488.5,147.5 L489.0,147.5 L489.5,147.5 L490.0,147.5 L490.5,147.5 L491.0,147.5 L491.5,147.4 L492.0,147.4 L492.5,147.4 L493.0,147.4 L493.5,147.4 L494.0,147.4 L494.5,147.3 L495.0,147.3 L495.5,147.3 L496.0,147.3 L496.5,147.3 L497.0,147.2 L497.5,147.2 L498.0,147.2 L498.5,147.2 L499.0,147.1 L499.5,147.1 L500.0,147.1 L500.5,147.1 L501.0,147.1 L501.5,147.0 L502.0,147.0 L502.5,147.0 L503.0,147.0 L503.5,146.9 L504.0,146.9 L504.5,146.9 L505.0,146.9 L505.5,146.8 L506.0,146.8 L506.5,146.8 L507.0,146.8 L507.5,146.7 L508.0,146.7 L508.5,146.7 L509.0,146.6 L509.5,146.6 L510.0,146.6 L510.5,146.6 L511.0,146.5 L511.5,146.5 L512.0,146.5 L512.5,146.5 L513.0,146.4 L513.5,146.4 L514.0,146.4 L514.5,146.3 L515.0,146.3 L515.5,146.3 L516.0,146.2 L516.5,146.2 L517.0,146.2 L517.5,146.2 L518.0,146.1 L518.5,146.1 L519.0,146.1 L519.5,146.0 L520.0,146.0 L520.5,146.0 L521.0,145.9 L521.5,145.9 L522.0,145.9 L522.5,145.9 L523.0,145.8 L523.5,145.8 L524.0,145.8 L524.5,145.7 L525.0,145.7 L525.5,145.7 L526.0,145.6 L526.5,145.6 L527.0,145.6 L527.5,145.5 L528.0,145.5 L528.5,145.5 L529.0,145.4 L529.5,145.4 L530.0,145.4 L530.5,145.3 L531.0,145.3 L531.5,145.3 L532.0,145.2 L532.5,145.2 L533.0,145.2 L533.5,145.1 L534.0,145.1 L534.5,145.1 L535.0,145.0 L535.5,145.0 L536.0,145.0 L536.5,144.9 L537.0,144.9 L537.5,144.9 L538.0,144.8 L538.5,144.8 L539.0,144.8 L539.5,144.7 L540.0,144.7" stroke="#808000" stroke-width="2.1"/>
<path d="M299.0,163.6 L299.5,163.5 L300.0,163.5 L300.5,163.4 L301.0,163.4 L301.5,163.3 L302.0,163.3 L302.5,163.2 L303.0,163.2 L303.5,163.2 L304.0,163.1 L304.5,163.1 L305.0,163.0 L305.5,163.0 L306.0,162.9 L306.5,162.9 L307.0,162.8 L307.5,162.8 L308.0,162.7 L308.5,162.7 L309.0,162.6 L309.5,162.6 L310.0,162.5 L310.5,162.5 L311.0,162.5 L311.5,162.4 L312.0,162.4 L312.5,162.3 L313.0,162.3 L313.5,162.2 L314.0,162.2 L314.5,162.1 L315.0,162.1 L315.5,162.0 L316.0,162.0 L316.5,161.9 L317.0,161.9 L317.5,161.8 L318.0,161.8 L318.5,161.7 L319.0,161.7 L319.5,161.6 L320.0,161.6 L320.5,161.5 L321.0,161.5 L321.5,161.4 L322.0,161.4 L322.5,161.3 L323.0,161.3 L323.5,161.2 L324.0,161.2 L324.5,161.2 L325.0,161.1 L325.5,161.1 L326.0,161.0 L326.5,161.0 L327.0,160.9 L327.5,160.8 L328.0,160.8 L328.5,160.7 L329.0,160.7 L329.5,160.6 L330.0,160.6 L330.5,160.5 L331.0,160.5 L331.5,160.4 L332.0,160.4 L332.5,160.3 L333.0,160.3 L333.5,160.2 L334.0,160.2 L334.5,160.1 L335.0,160.1 L335.5,160.0 L336.0,160.0 L336.5,159.9 L337.0,159.9 L337.5,159.8 L338.0,159.8 L338.5,159.7 L339.0,159.7 L339.5,159.6 L340.0,159.5 L340.5,159.5 L341.0,159.4 L341.5,159.4 L342.0,159.3 L342.5,159.3 L343.0,159.2 L343.5,159.2 L344.0,159.1 L344.5,159.0 L345.0,159.0 L345.5,158.9 L346.0,158.9 L346.5,158.8 L347.0,158.8 L347.5,158.7 L348.0,158.6 L348.5,158.6 L349.0,158.5 L349.5,158.5 L350.0,158.4 L350.5,158.4 L351.0,158.3 L351.5,158.2 L352.0,158.2 L352.5,158.1 L353.0,158.0 L353.5,158.0 L354.0,157.9 L354.5,157.9 L355.0,157.8 L355.5,157.7 L356.0,157.7 L356.5,157.6 L357.0,157.6 L357.5,157.5 L358.0,157.4 L358.5,157.4 L359.0,157.3 L359.5,157.2 L360.0,157.2 L360.5,157.1 L361.0,157.0 L361.5,157.0 L362.0,156.9 L362.5,156.8 L363.0,156.8 L363.5,156.7 L364.0,156.6 L364.5,156.5 L365.0,156.5 L365.5,156.4 L366.0,156.3 L366.5,156.3 L367.0,156.2 L367.5,156.1 L368.0,156.0 L368.5,156.0 L369.0,155.9 L369.5,155.8 L370.0,155.7 L370.5,155.7 L371.0,155.6 L371.5,155.5 L372.0,155.4 L372.5,155.3 L373.0,155.3 L373.5,155.2 L374.0,155.1 L374.5,155.0 L375.0,154.9 L375.5,154.8 L376.0,154.8 L376.5,154.7 L377.0,154.6 L377.5,154.5 L378.0,154.4 L378.5,154.3 L379.0,154.2 L379.5,154.1 L380.0,154.0 L380.5,153.9 L381.0,153.9 L381.5,153.8 L382.0,153.7 L382.5,153.6 L383.0,153.5 L383.5,153.4 L384.0,153.3 L384.5,153.2 L385.0,153.0 L385.5,152.9 L386.0,152.8 L386.5,152.7 L387.0,152.6 L387.5,152.5 L388.0,152.4 L388.5,152.3 L389.0,152.2 L389.5,152.0 L390.0,151.9 L390.5,151.8 L391.0,151.7 L391.5,151.6 L392.0,151.4 L392.5,151.3 L393.0,151.2 L393.5,151.1 L394.0,150.9 L394.5,150.8 L395.0,150.7 L395.5,150.5 L396.0,150.4 L396.5,150.2 L397.0,150.1 L397.5,150.0 L398.0,149.8 L398.5,149.7 L399.0,149.5 L399.5,149.4 L400.0,149.2 L400.5,149.1 L401.0,148.9 L401.5,148.7 L402.0,148.6 L402.5,148.4 L403.0,148.2 L403.5,148.1 L404.0,147.9 L404.5,147.7 L405.0,147.5 L405.5,147.4 L406.0,147.2 L406.5,147.0 L407.0,146.8 L407.5,146.6 L408.0,146.4 L408.5,146.3 L409.0,146.1 L409.5,145.9 L410.0,145.7 L410.5,145.5 L411.0,145.3 L411.5,145.1 L412.0,144.8 L412.5,144.6 L413.0,144.4 L413.5,144.2 L414.0,144.0 L414.5,143.8 L415.0,143.5 L415.5,143.3 L416.0,143.1 L416.5,142.9 L417.0,142.6 L417.5,142.4 L418.0,142.2 L418.5,141.9 L419.0,141.7 L419.5,141.5 L420.0,141.2 L420.5,141.0 L421.0,140.7 L421.5,140.5 L422.0,140.2 L422.5,140.0 L423.0,139.8 L423.5,139.5 L424.0,139.3 L424.5,139.0 L425.0,138.8 L425.5,138.5 L426.0,138.3 L426.5,138.0 L427.0,137.8 L427.5,137.5 L428.0,137.3 L428.5,137.1 L429.0,136.8 L429.5,136.6 L430.0,136.4 L430.5,136.1 L431.0,135.9 L431.5,135.7 L432.0,135.5 L432.5,135.3 L433.0,135.0 L433.5,134.8 L434.0,134.6 L434.5,134.5 L435.0,134.3 L435.5,134.1 L436.0,133.9 L436.5,133.7 L437.0,133.6 L437.5,133.4 L438.0,133.3 L438.5,133.2 L439.0,133.0 L439.5,132.9 L440.0,132.8 L440.5,132.7 L441.0,132.6 L441.5,132.5 L442.0,132.5 L442.5,132.4 L443.0,132.3 L443.5,132.3 L444.0,132.3 L444.5,132.2 L445.0,132.2 L445.5,132.2 L446.0,132.2 L446.5,132.2 L447.0,132.2 L447.5,132.3 L448.0,132.3 L448.5,132.4 L449.0,132.4 L449.5,132.5 L450.0,132.6 L450.5,132.6 L451.0,132.7 L451.5,132.8 L452.0,132.9 L452.5,133.0 L453.0,133.1 L453.5,133.3 L454.0,133.4 L454.5,133.5 L455.0,133.6 L455.5,133.8 L456.0,133.9 L456.5,134.1 L457.0,134.2 L457.5,134.4 L458.0,134.5 L458.5,134.7 L459.0,134.8 L459.5,135.0 L460.0,135.2 L460.5,135.3 L461.0,135.5 L461.5,135.7 L462.0,135.8 L462.5,136.0 L463.0,136.2 L463.5,136.3 L464.0,136.5 L464.5,136.7 L465.0,136.8 L465.5,137.0 L466.0,137.2 L466.5,137.3 L467.0,137.5 L467.5,137.6 L468.0,137.8 L468.5,138.0 L469.0,138.1 L469.5,138.3 L470.0,138.4 L470.5,138.6 L471.0,138.7 L471.5,138.9 L472.0,139.0 L472.5,139.2 L473.0,139.3 L473.5,139.4 L474.0,139.6 L474.5,139.7 L475.0,139.8 L475.5,140.0 L476.0,140.1 L476.5,140.2 L477.0,140.3 L477.5,140.5 L478.0,140.6 L478.5,140.7 L479.0,140.8 L479.5,140.9 L480.0,141.0 L480.5,141.1 L481.0,141.2 L481.5,141.3 L482.0,141.4 L482.5,141.5 L483.0,141.6 L483.5,141.7 L484.0,141.8 L484.5,141.9 L485.0,142.0 L485.5,142.1 L486.0,142.1 L486.5,142.2 L487.0,142.3 L487.5,142.4 L488.0,142.5 L488.5,142.5 L489.0,142.6 L489.5,142.7 L490.0,142.7 L490.5,142.8 L491.0,142.8 L491.5,142.9 L492.0,143.0 L492.5,143.0 L493.0,143.1 L493.5,143.1 L494.0,143.2 L494.5,143.2 L495.0,143.3 L495.5,143.3 L496.0,143.4 L496.5,143.4 L497.0,143.4 L497.5,143.5 L498.0,143.5 L498.5,143.6 L499.0,143.6 L499.5,143.6 L500.0,143.7 L500.5,143.7 L501.0,143.7 L501.5,143.7 L502.0,143.8 L502.5,143.8 L503.0,143.8 L503.5,143.8 L504.0,143.9 L504.5,143.9 L505.0,143.9 L505.5,143.9 L506.0,143.9 L506.5,144.0 L507.0,144.0 L507.5,144.0 L508.0,144.0 L508.5,144.0 L509.0,144.0 L509.5,144.0 L510.0,144.0 L510.5,144.0 L511.0,144.1 L511.5,144.1 L512.0,144.1 L512.5,144.1 L513.0,144.1 L513.5,144.1 L514.0,144.1 L514.5,144.1 L515.0,144.1 L515.5,144.1 L516.0,144.1 L516.5,144.1 L517.0,144.1 L517.5,144.1 L518.0,144.1 L518.5,144.1 L519.0,144.1 L519.5,144.1 L520.0,144.1 L520.5,144.0 L521.0,144.0 L521.5,144.0 L522.0,144.0 L522.5,144.0 L523.0,144.0 L523.5,144.0 L524.0,144.0 L524.5,144.0 L525.0,144.0 L525.5,144.0 L526.0,143.9 L526.5,143.9 L527.0,143.9 L527.5,143.9 L528.0,143.9 L528.5,143.9 L529.0,143.9 L529.5,143.8 L530.0,143.8 L530.5,143.8 L531.0,143.8 L531.5,143.8 L532.0,143.8 L532.5,143.7 L533.0,143.7 L533.5,143.7 L534.0,143.7 L534.5,143.7 L535.0,143.7 L535.5,143.6 L536.0,143.6 L536.5,143.6 L537.0,143.6 L537.5,143.6 L538.0,143.5 L538.5,143.5 L539.0,143.5 L539.5,143.5 L540.0,143.4" stroke="#000080" stroke-width="2.1"/>
<path d="M299.0,164.5 L299.5,164.4 L300.0,164.4 L300.5,164.3 L301.0,164.3 L301.5,164.3 L302.0,164.2 L302.5,164.2 L303.0,164.1 L303.5,164.1 L304.0,164.1 L304.5,164.0 L305.0,164.0 L305.5,163.9 L306.0,163.9 L306.5,163.9 L307.0,163.8 L307.5,163.8 L308.0,163.7 L308.5,163.7 L309.0,163.7 L309.5,163.6 L310.0,163.6 L310.5,163.5 L311.0,163.5 L311.5,163.5 L312.0,163.4 L312.5,163.4 L313.0,163.3 L313.5,163.3 L314.0,163.3 L314.5,163.2 L315.0,163.2 L315.5,163.1 L316.0,163.1 L316.5,163.1 L317.0,163.0 L317.5,163.0 L318.0,163.0 L318.5,162.9 L319.0,162.9 L319.5,162.8 L320.0,162.8 L320.5,162.8 L321.0,162.7 L321.5,162.7 L322.0,162.6 L322.5,162.6 L323.0,162.6 L323.5,162.5 L324.0,162.5 L324.5,162.4 L325.0,162.4 L325.5,162.4 L326.0,162.3 L326.5,162.3 L327.0,162.2 L327.5,162.2 L328.0,162.2 L328.5,162.1 L329.0,162.1 L329.5,162.0 L330.0,162.0 L330.5,162.0 L331.0,161.9 L331.5,161.9 L332.0,161.8 L332.5,161.8 L333.0,161.8 L333.5,161.7 L334.0,161.7 L334.5,161.6 L335.0,161.6 L335.5,161.6 L336.0,161.5 L336.5,161.5 L337.0,161.4 L337.5,161.4 L338.0,161.4 L338.5,161.3 L339.0,161.3 L339.5,161.2 L340.0,161.2 L340.5,161.2 L341.0,161.1 L341.5,161.1 L342.0,161.0 L342.5,161.0 L343.0,161.0 L343.5,160.9 L344.0,160.9 L344.5,160.8 L345.0,160.8 L345.5,160.8 L346.0,160.7 L346.5,160.7 L347.0,160.7 L347.5,160.6 L348.0,160.6 L348.5,160.5 L349.0,160.5 L349.5,160.5 L350.0,160.4 L350.5,160.4 L351.0,160.3 L351.5,160.3 L352.0,160.3 L352.5,160.2 L353.0,160.2 L353.5,160.1 L354.0,160.1 L354.5,160.1 L355.0,160.0 L355.5,160.0 L356.0,159.9 L356.5,159.9 L357.0,159.9 L357.5,159.8 L358.0,159.8 L358.5,159.7 L359.0,159.7 L359.5,159.7 L360.0,159.6 L360.5,159.6 L361.0,159.5 L361.5,159.5 L362.0,159.5 L362.5,159.4 L363.0,159.4 L363.5,159.3 L364.0,159.3 L364.5,159.3 L365.0,159.2 L365.5,159.2 L366.0,159.1 L366.5,159.1 L367.0,159.1 L367.5,159.0 L368.0,159.0 L368.5,158.9 L369.0,158.9 L369.5,158.9 L370.0,158.8 L370.5,158.8 L371.0,158.7 L371.5,158.7 L372.0,158.7 L372.5,158.6 L373.0,158.6 L373.5,158.5 L374.0,158.5 L374.5,158.5 L375.0,158.4 L375.5,158.4 L376.0,158.4 L376.5,158.3 L377.0,158.3 L377.5,158.2 L378.0,158.2 L378.5,158.2 L379.0,158.1 L379.5,158.1 L380.0,158.0 L380.5,158.0 L381.0,158.0 L381.5,157.9 L382.0,157.9 L382.5,157.8 L383.0,157.8 L383.5,157.8 L384.0,157.7 L384.5,157.7 L385.0,157.6 L385.5,157.6 L386.0,157.6 L386.5,157.5 L387.0,157.5 L387.5,157.4 L388.0,157.4 L388.5,157.4 L389.0,157.3 L389.5,157.3 L390.0,157.2 L390.5,157.2 L391.0,157.2 L391.5,157.1 L392.0,157.1 L392.5,157.0 L393.0,157.0 L393.5,157.0 L394.0,156.9 L394.5,156.9 L395.0,156.8 L395.5,156.8 L396.0,156.8 L396.5,156.7 L397.0,156.7 L397.5,156.6 L398.0,156.6 L398.5,156.6 L399.0,156.5 L399.5,156.5 L400.0,156.4 L400.5,156.4 L401.0,156.4 L401.5,156.3 L402.0,156.3 L402.5,156.2 L403.0,156.2 L403.5,156.2 L404.0,156.1 L404.5,156.1 L405.0,156.1 L405.5,156.0 L406.0,156.0 L406.5,155.9 L407.0,155.9 L407.5,155.9 L408.0,155.8 L408.5,155.8 L409.0,155.7 L409.5,155.7 L410.0,155.7 L410.5,155.6 L411.0,155.6 L411.5,155.5 L412.0,155.5 L412.5,155.5 L413.0,155.4 L413.5,155.4 L414.0,155.3 L414.5,155.3 L415.0,155.3 L415.5,155.2 L416.0,155.2 L416.5,155.1 L417.0,155.1 L417.5,155.1 L418.0,155.0 L418.5,155.0 L419.0,154.9 L419.5,154.9 L420.0,154.9 L420.5,154.8 L421.0,154.8 L421.5,154.7 L422.0,154.7 L422.5,154.7 L423.0,154.6 L423.5,154.6 L424.0,154.5 L424.5,154.5 L425.0,154.5 L425.5,154.4 L426.0,154.4 L426.5,154.3 L427.0,154.3 L427.5,154.3 L428.0,154.2 L428.5,154.2 L429.0,154.1 L429.5,154.1 L430.0,154.1 L430.5,154.0 L431.0,154.0 L431.5,153.9 L432.0,153.9 L432.5,153.9 L433.0,153.8 L433.5,153.8 L434.0,153.7 L434.5,153.7 L435.0,153.7 L435.5,153.6 L436.0,153.6 L436.5,153.6 L437.0,153.5 L437.5,153.5 L438.0,153.4 L438.5,153.4 L439.0,153.4 L439.5,153.3 L440.0,153.3 L440.5,153.2 L441.0,153.2 L441.5,153.2 L442.0,153.1 L442.5,153.1 L443.0,153.0 L443.5,153.0 L444.0,153.0 L444.5,152.9 L445.0,152.9 L445.5,152.8 L446.0,152.8 L446.5,152.8 L447.0,152.7 L447.5,152.7 L448.0,152.6 L448.5,152.6 L449.0,152.6 L449.5,152.5 L450.0,152.5 L450.5,152.4 L451.0,152.4 L451.5,152.4 L452.0,152.3 L452.5,152.3 L453.0,152.2 L453.5,152.2 L454.0,152.2 L454.5,152.1 L455.0,152.1 L455.5,152.0 L456.0,152.0 L456.5,152.0 L457.0,151.9 L457.5,151.9 L458.0,151.8 L458.5,151.8 L459.0,151.8 L459.5,151.7 L460.0,151.7 L460.5,151.6 L461.0,151.6 L461.5,151.6 L462.0,151.5 L462.5,151.5 L463.0,151.4 L463.5,151.4 L464.0,151.4 L464.5,151.3 L465.0,151.3 L465.5,151.3 L466.0,151.2 L466.5,151.2 L467.0,151.1 L467.5,151.1 L468.0,151.1 L468.5,151.0 L469.0,151.0 L469.5,150.9 L470.0,150.9 L470.5,150.9 L471.0,150.8 L471.5,150.8 L472.0,150.7 L472.5,150.7 L473.0,150.7 L473.5,150.6 L474.0,150.6 L474.5,150.5 L475.0,150.5 L475.5,150.5 L476.0,150.4 L476.5,150.4 L477.0,150.3 L477.5,150.3 L478.0,150.3 L478.5,150.2 L479.0,150.2 L479.5,150.1 L480.0,150.1 L480.5,150.1 L481.0,150.0 L481.5,150.0 L482.0,149.9 L482.5,149.9 L483.0,149.9 L483.5,149.8 L484.0,149.8 L484.5,149.7 L485.0,149.7 L485.5,149.7 L486.0,149.6 L486.5,149.6 L487.0,149.5 L487.5,149.5 L488.0,149.5 L488.5,149.4 L489.0,149.4 L489.5,149.3 L490.0,149.3 L490.5,149.3 L491.0,149.2 L491.5,149.2 L492.0,149.1 L492.5,149.1 L493.0,149.1 L493.5,149.0 L494.0,149.0 L494.5,149.0 L495.0,148.9 L495.5,148.9 L496.0,148.8 L496.5,148.8 L497.0,148.8 L497.5,148.7 L498.0,148.7 L498.5,148.6 L499.0,148.6 L499.5,148.6 L500.0,148.5 L500.5,148.5 L501.0,148.4 L501.5,148.4 L502.0,148.4 L502.5,148.3 L503.0,148.3 L503.5,148.2 L504.0,148.2 L504.5,148.2 L505.0,148.1 L505.5,148.1 L506.0,148.0 L506.5,148.0 L507.0,148.0 L507.5,147.9 L508.0,147.9 L508.5,147.8 L509.0,147.8 L509.5,147.8 L510.0,147.7 L510.5,147.7 L511.0,147.6 L511.5,147.6 L512.0,147.6 L512.5,147.5 L513.0,147.5 L513.5,147.4 L514.0,147.4 L514.5,147.4 L515.0,147.3 L515.5,147.3 L516.0,147.2 L516.5,147.2 L517.0,147.2 L517.5,147.1 L518.0,147.1 L518.5,147.0 L519.0,147.0 L519.5,147.0 L520.0,146.9 L520.5,146.9 L521.0,146.8 L521.5,146.8 L522.0,146.8 L522.5,146.7 L523.0,146.7 L523.5,146.7 L524.0,146.6 L524.5,146.6 L525.0,146.5 L525.5,146.5 L526.0,146.5 L526.5,146.4 L527.0,146.4 L527.5,146.3 L528.0,146.3 L528.5,146.3 L529.0,146.2 L529.5,146.2 L530.0,146.1 L530.5,146.1 L531.0,146.1 L531.5,146.0 L532.0,146.0 L532.5,145.9 L533.0,145.9 L533.5,145.9 L534.0,145.8 L534.5,145.8 L535.0,145.7 L535.5,145.7 L536.0,145.7 L536.5,145.6 L537.0,145.6 L537.5,145.5 L538.0,145.5 L538.5,145.5 L539.0,145.4 L539.5,145.4 L540.0,145.3" stroke="#0000ff" stroke-width="1.8"/>
<path d="M299.0,157.3 L299.5,157.1 L300.0,157.0 L300.5,156.8 L301.0,156.7 L301.5,156.5 L302.0,156.3 L302.5,156.2 L303.0,156.0 L303.5,155.8 L304.0,155.6 L304.5,155.4 L305.0,155.2 L305.5,155.0 L306.0,154.8 L306.5,154.6 L307.0,154.4 L307.5,154.2 L308.0,154.0 L308.5,153.8 L309.0,153.5 L309.5,153.3 L310.0,153.0 L310.5,152.8 L311.0,152.5 L311.5,152.3 L312.0,152.0 L312.5,151.7 L313.0,151.4 L313.5,151.1 L314.0,150.8 L314.5,150.5 L315.0,150.2 L315.5,149.8 L316.0,149.5 L316.5,149.1 L317.0,148.7 L317.5,148.3 L318.0,147.9 L318.5,147.5 L319.0,147.0 L319.5,146.6 L320.0,146.1 L320.5,145.6 L321.0,145.1 L321.5,144.5 L322.0,143.9 L322.5,143.3 L323.0,142.7 L323.5,142.0 L324.0,141.3 L324.5,140.6 L325.0,139.8 L325.5,139.0 L326.0,138.1 L326.5,137.2 L327.0,136.2 L327.5,135.2 L328.0,134.1 L328.5,132.9 L329.0,131.7 L329.5,130.4 L330.0,129.0 L330.5,127.6 L331.0,126.0 L331.5,124.4 L332.0,122.7 L332.5,120.9 L333.0,118.9 L333.5,116.9 L334.0,114.7 L334.5,112.5 L335.0,110.1 L335.5,107.6 L336.0,104.9 L336.5,102.2 L337.0,99.3 L337.5,96.3 L338.0,93.2 L338.5,89.9 L339.0,86.6 L339.5,83.1 L340.0,79.6 L340.5,76.0 L341.0,72.4 L341.5,68.7 L342.0,65.1 L342.5,61.4 L343.0,57.9 L343.5,54.5 L344.0,51.3 L344.5,48.2 L345.0,45.5 L345.5,43.0 L346.0,40.9 L346.5,39.2 L347.0,37.9 L347.5,37.0 L348.0,36.5 L348.5,36.4 L349.0,36.7 L349.5,37.3 L350.0,38.3 L350.5,39.5 L351.0,40.9 L351.5,42.6 L352.0,44.3 L352.5,46.2 L353.0,48.0 L353.5,50.0 L354.0,51.9 L354.5,53.7 L355.0,55.6 L355.5,57.4 L356.0,59.1 L356.5,60.7 L357.0,62.3 L357.5,63.8 L358.0,65.3 L358.5,66.7 L359.0,68.1 L359.5,69.4 L360.0,70.7 L360.5,72.0 L361.0,73.3 L361.5,74.7 L362.0,76.0 L362.5,77.4 L363.0,78.8 L363.5,80.2 L364.0,81.7 L364.5,83.2 L365.0,84.7 L365.5,86.3 L366.0,87.9 L366.5,89.5 L367.0,91.1 L367.5,92.7 L368.0,94.3 L368.5,96.0 L369.0,97.6 L369.5,99.1 L370.0,100.7 L370.5,102.2 L371.0,103.7 L371.5,105.1 L372.0,106.5 L372.5,107.9 L373.0,109.2 L373.5,110.5 L374.0,111.7 L374.5,112.8 L375.0,113.9 L375.5,115.0 L376.0,116.0 L376.5,116.9 L377.0,117.8 L377.5,118.6 L378.0,119.4 L378.5,120.1 L379.0,120.8 L379.5,121.5 L380.0,122.1 L380.5,122.6 L381.0,123.1 L381.5,123.5 L382.0,123.9 L382.5,124.3 L383.0,124.6 L383.5,124.8 L384.0,125.1 L384.5,125.2 L385.0,125.3 L385.5,125.4 L386.0,125.5 L386.5,125.4 L387.0,125.4 L387.5,125.3 L388.0,125.1 L388.5,124.9 L389.0,124.6 L389.5,124.3 L390.0,124.0 L390.5,123.6 L391.0,123.1 L391.5,122.6 L392.0,122.0 L392.5,121.4 L393.0,120.7 L393.5,120.0 L394.0,119.2 L394.5,118.3 L395.0,117.4 L395.5,116.4 L396.0,115.4 L396.5,114.3 L397.0,113.2 L397.5,112.0 L398.0,110.7 L398.5,109.4 L399.0,108.0 L399.5,106.5 L400.0,105.0 L400.5,103.5 L401.0,101.9 L401.5,100.2 L402.0,98.5 L402.5,96.7 L403.0,94.9 L403.5,93.1 L404.0,91.2 L404.5,89.2 L405.0,87.2 L405.5,85.2 L406.0,83.2 L406.5,81.1 L407.0,79.0 L407.5,76.9 L408.0,74.8 L408.5,72.7 L409.0,70.6 L409.5,68.6 L410.0,66.5 L410.5,64.4 L411.0,62.4 L411.5,60.5 L412.0,58.6 L412.5,56.7 L413.0,54.9 L413.5,53.2 L414.0,51.6 L414.5,50.1 L415.0,48.7 L415.5,47.4 L416.0,46.2 L416.5,45.1 L417.0,44.2 L417.5,43.4 L418.0,42.8 L418.5,42.4 L419.0,42.0 L419.5,41.9 L420.0,41.9 L420.5,42.0 L421.0,42.3 L421.5,42.8 L422.0,43.4 L422.5,44.1 L423.0,45.0 L423.5,46.0 L424.0,47.1 L424.5,48.3 L425.0,49.6 L425.5,51.0 L426.0,52.5 L426.5,54.1 L427.0,55.7 L427.5,57.4 L428.0,59.1 L428.5,60.8 L429.0,62.6 L429.5,64.5 L430.0,66.3 L430.5,68.1 L431.0,70.0 L431.5,71.8 L432.0,73.7 L432.5,75.5 L433.0,77.3 L433.5,79.1 L434.0,80.9 L434.5,82.6 L435.0,84.4 L435.5,86.1 L436.0,87.7 L436.5,89.4 L437.0,91.0 L437.5,92.5 L438.0,94.0 L438.5,95.5 L439.0,96.9 L439.5,98.3 L440.0,99.7 L440.5,101.0 L441.0,102.3 L441.5,103.5 L442.0,104.7 L442.5,105.8 L443.0,106.9 L443.5,108.0 L444.0,109.0 L444.5,110.0 L445.0,111.0 L445.5,111.9 L446.0,112.8 L446.5,113.6 L447.0,114.4 L447.5,115.2 L448.0,116.0 L448.5,116.7 L449.0,117.4 L449.5,118.1 L450.0,118.7 L450.5,119.3 L451.0,120.0 L451.5,120.5 L452.0,121.1 L452.5,121.6 L453.0,122.2 L453.5,122.7 L454.0,123.2 L454.5,123.6 L455.0,124.1 L455.5,124.5 L456.0,125.0 L456.5,125.4 L457.0,125.8 L457.5,126.2 L458.0,126.6 L458.5,127.0 L459.0,127.3 L459.5,127.7 L460.0,128.0 L460.5,128.4 L461.0,128.7 L461.5,129.0 L462.0,129.3 L462.5,129.7 L463.0,130.0 L463.5,130.3 L464.0,130.6 L464.5,130.8 L465.0,131.1 L465.5,131.4 L466.0,131.7 L466.5,131.9 L467.0,132.2 L467.5,132.4 L468.0,132.7 L468.5,132.9 L469.0,133.2 L469.5,133.4 L470.0,133.7 L470.5,133.9 L471.0,134.1 L471.5,134.3 L472.0,134.5 L472.5,134.8 L473.0,135.0 L473.5,135.2 L474.0,135.4 L474.5,135.6 L475.0,135.7 L475.5,135.9 L476.0,136.1 L476.5,136.3 L477.0,136.5 L477.5,136.6 L478.0,136.8 L478.5,137.0 L479.0,137.1 L479.5,137.3 L480.0,137.5 L480.5,137.6 L481.0,137.8 L481.5,137.9 L482.0,138.0 L482.5,138.2 L483.0,138.3 L483.5,138.5 L484.0,138.6 L484.5,138.7 L485.0,138.8 L485.5,139.0 L486.0,139.1 L486.5,139.2 L487.0,139.3 L487.5,139.4 L488.0,139.5 L488.5,139.6 L489.0,139.7 L489.5,139.8 L490.0,139.9 L490.5,140.0 L491.0,140.1 L491.5,140.2 L492.0,140.3 L492.5,140.4 L493.0,140.5 L493.5,140.5 L494.0,140.6 L494.5,140.7 L495.0,140.8 L495.5,140.8 L496.0,140.9 L496.5,141.0 L497.0,141.0 L497.5,141.1 L498.0,141.2 L498.5,141.2 L499.0,141.3 L499.5,141.3 L500.0,141.4 L500.5,141.4 L501.0,141.5 L501.5,141.5 L502.0,141.6 L502.5,141.6 L503.0,141.7 L503.5,141.7 L504.0,141.8 L504.5,141.8 L505.0,141.9 L505.5,141.9 L506.0,141.9 L506.5,142.0 L507.0,142.0 L507.5,142.0 L508.0,142.1 L508.5,142.1 L509.0,142.1 L509.5,142.1 L510.0,142.2 L510.5,142.2 L511.0,142.2 L511.5,142.2 L512.0,142.3 L512.5,142.3 L513.0,142.3 L513.5,142.3 L514.0,142.3 L514.5,142.4 L515.0,142.4 L515.5,142.4 L516.0,142.4 L516.5,142.4 L517.0,142.4 L517.5,142.4 L518.0,142.4 L518.5,142.5 L519.0,142.5 L519.5,142.5 L520.0,142.5 L520.5,142.5 L521.0,142.5 L521.5,142.5 L522.0,142.5 L522.5,142.5 L523.0,142.5 L523.5,142.5 L524.0,142.5 L524.5,142.5 L525.0,142.5 L525.5,142.5 L526.0,142.5 L526.5,142.5 L527.0,142.5 L527.5,142.5 L528.0,142.5 L528.5,142.5 L529.0,142.5 L529.5,142.5 L530.0,142.5 L530.5,142.5 L531.0,142.5 L531.5,142.5 L532.0,142.5 L532.5,142.4 L533.0,142.4 L533.5,142.4 L534.0,142.4 L534.5,142.4 L535.0,142.4 L535.5,142.4 L536.0,142.4 L536.5,142.4 L537.0,142.4 L537.5,142.3 L538.0,142.3 L538.5,142.3 L539.0,142.3 L539.5,142.3 L540.0,142.3" stroke="#ff0000" stroke-width="2.8"/>
</g>
<rect x="301.0" y="7.7" width="237.20000000000005" height="176.60000000000002" fill="none" stroke="#1a1a1a" stroke-width="1.7"/>
<path d="M322.50,184.3 V180.70000000000002 M365.70,184.3 V180.70000000000002 M408.90,184.3 V180.70000000000002 M452.10,184.3 V180.70000000000002 M495.30,184.3 V180.70000000000002 M538.50,184.3 V180.70000000000002 M344.10,184.3 V182.10000000000002 M387.30,184.3 V182.10000000000002 M430.50,184.3 V182.10000000000002 M473.70,184.3 V182.10000000000002 M516.90,184.3 V182.10000000000002" stroke="#1a1a1a" stroke-width="1.2" fill="none"/>
<text x="322.50" y="194.0" font-size="8.2" text-anchor="middle" fill="#222">70</text>
<text x="365.70" y="194.0" font-size="8.2" text-anchor="middle" fill="#222">72</text>
<text x="408.90" y="194.0" font-size="8.2" text-anchor="middle" fill="#222">74</text>
<text x="452.10" y="194.0" font-size="8.2" text-anchor="middle" fill="#222">76</text>
<text x="495.30" y="194.0" font-size="8.2" text-anchor="middle" fill="#222">78</text>
<text x="538.50" y="194.0" font-size="8.2" text-anchor="middle" fill="#222">80</text>
<text x="419.60" y="206.4" font-size="10.65" text-anchor="middle" fill="#111">Binding Energy / eV</text>
<text transform="translate(291.0,98.4) rotate(-90)" font-size="10.8" text-anchor="middle" fill="#111">Intensity / a.u.</text>
<text x="305.0" y="28.4" style="font-family:'Liberation Serif',serif" font-size="18.5" fill="#111">(b)</text>
<text x="503.0" y="29.6" font-size="9.9" fill="#111">Pt 4f</text>
<text x="311.9" y="96.8" font-size="9.8" fill="#222">Pt<tspan font-size="6.0" dy="-4.6">0</tspan></text>
<path d="M325.40,92.20 L342.52,96.01" stroke="#000" stroke-width="1.0" fill="none"/><path d="M347.40,97.10 L342.04,98.16 L343.00,93.87 Z" fill="#000"/>
<text x="308.6" y="129.6" font-size="9.8" fill="#222">Pt<tspan font-size="6.0" dy="-4.6">2+</tspan></text>
<path d="M320.50,126.00 L349.20,136.40" stroke="#000" stroke-width="1.0" fill="none"/><path d="M353.90,138.10 L348.45,138.47 L349.95,134.33 Z" fill="#000"/>
<text x="390.3" y="81.6" font-size="9.8" fill="#222">Pt<tspan font-size="6.0" dy="-4.6">0</tspan></text>
<path d="M398.10,82.60 L408.03,85.71" stroke="#000" stroke-width="1.0" fill="none"/><path d="M412.80,87.20 L407.37,87.81 L408.69,83.61 Z" fill="#000"/>
<text x="473.1" y="109.7" font-size="9.8" fill="#222">Pt<tspan font-size="6.0" dy="-4.6">2+</tspan></text>
<path d="M475.00,111.50 L442.60,132.48" stroke="#000" stroke-width="1.0" fill="none"/><path d="M438.40,135.20 L441.40,130.64 L443.79,134.33 Z" fill="#000"/>
<clipPath id="cc"><rect x="25.0" y="222.6" width="238.2" height="177.1"/></clipPath>
<g clip-path="url(#cc)" fill="none" stroke-linejoin="round" stroke-linecap="round">
<path d="M24.5,364.0 L25.9,361.3 L27.8,346.5 L29.6,331.6 L31.5,319.5 L33.4,337.2 L34.3,339.0 L35.8,320.4 L37.6,324.2 L39.5,342.8 L40.8,343.7 L41.7,339.0 L42.7,335.3 L43.6,342.8 L44.5,353.9 L45.8,366.9 L46.9,357.6 L48.2,333.5 L49.7,325.1 L51.0,335.3 L52.5,346.5 L53.8,350.2 L54.7,344.6 L55.7,331.6 L56.6,320.4 L57.7,335.3 L58.8,342.8 L59.8,336.2 L60.9,344.6 L62.2,352.0 L63.5,340.0 L64.6,339.0 L65.9,350.2 L67.4,355.8 L69.3,363.0 L70.9,348.3 L72.8,329.7 L74.1,331.6 L75.6,346.5 L77.1,337.2 L78.9,327.9 L80.2,331.6 L81.2,334.4 L82.1,346.5 L83.4,363.2 L84.5,367.8 L85.8,361.3 L86.7,337.2 L87.7,314.9 L88.4,280.8 L89.3,263.1 L90.2,277.0 L91.2,295.6 L92.1,286.3 L93.4,271.5 L94.5,269.6 L95.4,280.8 L96.4,293.8 L97.3,299.3 L98.2,286.3 L99.1,271.5 L100.1,252.9 L101.0,244.5 L101.9,247.3 L102.7,241.7 L103.6,236.2 L104.2,234.3 L104.9,245.4 L105.7,262.2 L106.4,258.5 L107.3,251.0 L108.3,252.9 L108.8,267.8 L109.7,286.3 L110.4,295.0 L111.4,291.2 L112.3,273.0 L113.3,267.8 L114.4,277.0 L115.4,297.0 L116.4,307.9 L117.3,316.3 L118.2,317.2 L119.2,322.8 L122.0,334.0 L124.8,339.6 L126.5,342.0 L128.1,350.8 L129.4,356.3 L130.3,350.8 L131.8,334.0 L133.1,315.4 L134.1,326.6 L135.0,341.5 L135.9,350.8 L137.0,350.0 L138.8,335.0 L140.7,325.8 L141.6,322.0 L143.1,337.0 L144.4,346.2 L146.2,331.3 L148.1,319.3 L149.4,325.8 L150.9,337.0 L151.5,335.2 L152.8,331.5 L153.7,340.8 L154.6,344.5 L155.9,357.5 L157.4,333.3 L158.9,319.4 L160.2,325.9 L161.2,337.0 L162.1,340.8 L163.0,338.9 L163.9,346.3 L164.9,335.2 L166.4,325.9 L167.7,322.2 L168.6,319.4 L169.5,329.6 L170.4,344.5 L171.9,355.6 L173.2,351.9 L174.5,340.8 L175.7,329.6 L177.0,322.2 L177.9,327.8 L178.8,333.3 L179.7,331.5 L180.7,335.2 L181.6,337.0 L183.1,342.6 L184.4,337.0 L185.3,322.2 L186.2,312.9 L187.2,312.0 L188.5,318.5 L189.6,311.0 L190.9,307.3 L192.2,305.4 L193.1,311.0 L194.1,303.6 L195.0,309.2 L196.1,327.8 L197.1,335.2 L198.7,312.9 L200.2,302.7 L201.1,311.0 L202.4,329.6 L203.4,333.3 L204.7,322.2 L206.2,316.6 L207.6,311.0 L208.9,314.7 L209.9,311.0 L210.8,314.7 L212.1,322.2 L213.6,329.6 L214.9,335.2 L216.0,331.5 L217.3,327.8 L218.8,325.9 L220.1,333.3 L220.7,338.0 L221.4,331.0 L222.5,356.3 L223.1,347.9 L224.2,345.1 L225.6,349.3 L226.7,359.1 L227.7,366.0 L228.6,368.8 L229.5,359.1 L230.5,347.9 L231.4,335.3 L232.3,334.0 L233.3,340.9 L233.9,347.9 L234.9,345.1 L236.0,340.9 L237.0,340.2 L237.9,343.7 L238.5,353.5 L239.5,366.0 L240.2,377.2 L241.2,366.0 L242.3,356.3 L243.7,352.1 L245.1,349.3 L246.5,350.0 L247.9,350.7 L248.6,355.8 L249.7,352.1 L251.0,342.8 L252.0,340.9 L252.9,350.2 L253.8,359.5 L254.8,346.5 L256.1,318.6 L257.0,320.5 L258.1,346.5 L259.4,370.7 L260.3,377.2 L261.3,378.1 L264.0,379.0" stroke="#000" stroke-width="2.1"/>
<path d="M23.0,363.8 L23.5,363.8 L24.0,363.7 L24.5,363.7 L25.0,363.7 L25.5,363.7 L26.0,363.6 L26.5,363.6 L27.0,363.6 L27.5,363.5 L28.0,363.5 L28.5,363.5 L29.0,363.4 L29.5,363.4 L30.0,363.4 L30.5,363.3 L31.0,363.3 L31.5,363.2 L32.0,363.2 L32.5,363.2 L33.0,363.1 L33.5,363.1 L34.0,363.0 L34.5,363.0 L35.0,362.9 L35.5,362.9 L36.0,362.8 L36.5,362.8 L37.0,362.7 L37.5,362.6 L38.0,362.6 L38.5,362.5 L39.0,362.5 L39.5,362.4 L40.0,362.3 L40.5,362.2 L41.0,362.2 L41.5,362.1 L42.0,362.0 L42.5,361.9 L43.0,361.9 L43.5,361.8 L44.0,361.7 L44.5,361.6 L45.0,361.5 L45.5,361.4 L46.0,361.3 L46.5,361.2 L47.0,361.1 L47.5,361.0 L48.0,360.9 L48.5,360.8 L49.0,360.7 L49.5,360.6 L50.0,360.4 L50.5,360.3 L51.0,360.2 L51.5,360.0 L52.0,359.9 L52.5,359.8 L53.0,359.6 L53.5,359.5 L54.0,359.3 L54.5,359.2 L55.0,359.0 L55.5,358.8 L56.0,358.6 L56.5,358.5 L57.0,358.3 L57.5,358.1 L58.0,357.9 L58.5,357.7 L59.0,357.4 L59.5,357.2 L60.0,357.0 L60.5,356.8 L61.0,356.5 L61.5,356.3 L62.0,356.0 L62.5,355.7 L63.0,355.4 L63.5,355.1 L64.0,354.8 L64.5,354.5 L65.0,354.2 L65.5,353.9 L66.0,353.5 L66.5,353.2 L67.0,352.8 L67.5,352.4 L68.0,352.0 L68.5,351.6 L69.0,351.1 L69.5,350.7 L70.0,350.2 L70.5,349.7 L71.0,349.2 L71.5,348.7 L72.0,348.1 L72.5,347.5 L73.0,346.9 L73.5,346.3 L74.0,345.7 L74.5,345.0 L75.0,344.3 L75.5,343.6 L76.0,342.8 L76.5,342.1 L77.0,341.3 L77.5,340.4 L78.0,339.5 L78.5,338.6 L79.0,337.7 L79.5,336.7 L80.0,335.7 L80.5,334.6 L81.0,333.5 L81.5,332.3 L82.0,331.2 L82.5,329.9 L83.0,328.7 L83.5,327.3 L84.0,326.0 L84.5,324.5 L85.0,323.1 L85.5,321.6 L86.0,320.0 L86.5,318.4 L87.0,316.7 L87.5,315.0 L88.0,313.2 L88.5,311.4 L89.0,309.5 L89.5,307.6 L90.0,305.7 L90.5,303.7 L91.0,301.6 L91.5,299.5 L92.0,297.4 L92.5,295.3 L93.0,293.2 L93.5,291.0 L94.0,288.8 L94.5,286.7 L95.0,284.5 L95.5,282.4 L96.0,280.3 L96.5,278.3 L97.0,276.3 L97.5,274.4 L98.0,272.6 L98.5,270.9 L99.0,269.3 L99.5,267.9 L100.0,266.6 L100.5,265.4 L101.0,264.4 L101.5,263.6 L102.0,263.0 L102.5,262.6 L103.0,262.3 L103.5,262.3 L104.0,262.5 L104.5,262.9 L105.0,263.4 L105.5,264.2 L106.0,265.1 L106.5,266.3 L107.0,267.5 L107.5,269.0 L108.0,270.5 L108.5,272.2 L109.0,274.0 L109.5,275.8 L110.0,277.8 L110.5,279.8 L111.0,281.9 L111.5,284.0 L112.0,286.1 L112.5,288.2 L113.0,290.4 L113.5,292.5 L114.0,294.7 L114.5,296.8 L115.0,298.9 L115.5,301.0 L116.0,303.0 L116.5,305.0 L117.0,306.9 L117.5,308.8 L118.0,310.7 L118.5,312.5 L119.0,314.3 L119.5,316.0 L120.0,317.6 L120.5,319.2 L121.0,320.8 L121.5,322.3 L122.0,323.7 L122.5,325.1 L123.0,326.5 L123.5,327.8 L124.0,329.0 L124.5,330.3 L125.0,331.4 L125.5,332.5 L126.0,333.6 L126.5,334.6 L127.0,335.6 L127.5,336.6 L128.0,337.5 L128.5,338.4 L129.0,339.2 L129.5,340.0 L130.0,340.8 L130.5,341.5 L131.0,342.2 L131.5,342.9 L132.0,343.5 L132.5,344.1 L133.0,344.7 L133.5,345.3 L134.0,345.8 L134.5,346.3 L135.0,346.8 L135.5,347.2 L136.0,347.6 L136.5,348.1 L137.0,348.4 L137.5,348.8 L138.0,349.1 L138.5,349.5 L139.0,349.8 L139.5,350.0 L140.0,350.3 L140.5,350.5 L141.0,350.8 L141.5,351.0 L142.0,351.2 L142.5,351.3 L143.0,351.5 L143.5,351.6 L144.0,351.8 L144.5,351.9 L145.0,351.9 L145.5,352.0 L146.0,352.1 L146.5,352.1 L147.0,352.2 L147.5,352.2 L148.0,352.2 L148.5,352.2 L149.0,352.1 L149.5,352.1 L150.0,352.0 L150.5,352.0 L151.0,351.9 L151.5,351.8 L152.0,351.6 L152.5,351.5 L153.0,351.4 L153.5,351.2 L154.0,351.0 L154.5,350.8 L155.0,350.6 L155.5,350.4 L156.0,350.2 L156.5,349.9 L157.0,349.7 L157.5,349.4 L158.0,349.1 L158.5,348.8 L159.0,348.5 L159.5,348.2 L160.0,347.8 L160.5,347.5 L161.0,347.1 L161.5,346.7 L162.0,346.3 L162.5,345.9 L163.0,345.5 L163.5,345.1 L164.0,344.6 L164.5,344.2 L165.0,343.7 L165.5,343.2 L166.0,342.7 L166.5,342.2 L167.0,341.7 L167.5,341.2 L168.0,340.7 L168.5,340.2 L169.0,339.6 L169.5,339.1 L170.0,338.6 L170.5,338.0 L171.0,337.5 L171.5,336.9 L172.0,336.3 L172.5,335.8 L173.0,335.2 L173.5,334.7 L174.0,334.1 L174.5,333.6 L175.0,333.0 L175.5,332.5 L176.0,331.9 L176.5,331.4 L177.0,330.8 L177.5,330.3 L178.0,329.7 L178.5,329.2 L179.0,328.7 L179.5,328.1 L180.0,327.6 L180.5,327.1 L181.0,326.5 L181.5,326.0 L182.0,325.5 L182.5,325.0 L183.0,324.5 L183.5,324.0 L184.0,323.5 L184.5,323.0 L185.0,322.5 L185.5,322.0 L186.0,321.5 L186.5,321.0 L187.0,320.6 L187.5,320.1 L188.0,319.7 L188.5,319.3 L189.0,318.9 L189.5,318.5 L190.0,318.1 L190.5,317.7 L191.0,317.3 L191.5,317.0 L192.0,316.7 L192.5,316.4 L193.0,316.1 L193.5,315.9 L194.0,315.6 L194.5,315.4 L195.0,315.3 L195.5,315.1 L196.0,315.0 L196.5,314.9 L197.0,314.8 L197.5,314.8 L198.0,314.8 L198.5,314.8 L199.0,314.8 L199.5,314.9 L200.0,315.0 L200.5,315.2 L201.0,315.4 L201.5,315.6 L202.0,315.8 L202.5,316.1 L203.0,316.4 L203.5,316.8 L204.0,317.1 L204.5,317.5 L205.0,317.9 L205.5,318.4 L206.0,318.9 L206.5,319.4 L207.0,319.9 L207.5,320.5 L208.0,321.0 L208.5,321.7 L209.0,322.3 L209.5,322.9 L210.0,323.6 L210.5,324.3 L211.0,325.0 L211.5,325.7 L212.0,326.4 L212.5,327.2 L213.0,327.9 L213.5,328.7 L214.0,329.5 L214.5,330.3 L215.0,331.1 L215.5,331.9 L216.0,332.7 L216.5,333.5 L217.0,334.3 L217.5,335.1 L218.0,336.0 L218.5,336.8 L219.0,337.6 L219.5,338.5 L220.0,339.3 L220.5,340.2 L221.0,341.0 L221.5,341.8 L222.0,342.6 L222.5,343.5 L223.0,344.3 L223.5,345.1 L224.0,345.9 L224.5,346.7 L225.0,347.5 L225.5,348.3 L226.0,349.0 L226.5,349.8 L227.0,350.5 L227.5,351.2 L228.0,352.0 L228.5,352.7 L229.0,353.4 L229.5,354.0 L230.0,354.7 L230.5,355.3 L231.0,356.0 L231.5,356.6 L232.0,357.2 L232.5,357.7 L233.0,358.3 L233.5,358.8 L234.0,359.3 L234.5,359.8 L235.0,360.3 L235.5,360.8 L236.0,361.2 L236.5,361.7 L237.0,362.1 L237.5,362.5 L238.0,362.9 L238.5,363.3 L239.0,363.7 L239.5,364.0 L240.0,364.4 L240.5,364.7 L241.0,365.0 L241.5,365.3 L242.0,365.6 L242.5,365.9 L243.0,366.2 L243.5,366.5 L244.0,366.8 L244.5,367.1 L245.0,367.3 L245.5,367.6 L246.0,367.8 L246.5,368.1 L247.0,368.3 L247.5,368.5 L248.0,368.7 L248.5,369.0 L249.0,369.2 L249.5,369.4 L250.0,369.6 L250.5,369.8 L251.0,370.0 L251.5,370.2 L252.0,370.4 L252.5,370.6 L253.0,370.8 L253.5,371.0 L254.0,371.1 L254.5,371.3 L255.0,371.5 L255.5,371.7 L256.0,371.8 L256.5,372.0 L257.0,372.2 L257.5,372.3 L258.0,372.5 L258.5,372.6 L259.0,372.8 L259.5,372.9 L260.0,373.1 L260.5,373.2 L261.0,373.4 L261.5,373.5 L262.0,373.7 L262.5,373.8 L263.0,373.9 L263.5,374.1 L264.0,374.2 L264.5,374.3 L265.0,374.5" stroke="#ff0000" stroke-width="2.4"/>
<path d="M23.0,364.8 L23.5,364.8 L24.0,364.7 L24.5,364.7 L25.0,364.7 L25.5,364.7 L26.0,364.6 L26.5,364.6 L27.0,364.6 L27.5,364.6 L28.0,364.5 L28.5,364.5 L29.0,364.5 L29.5,364.5 L30.0,364.4 L30.5,364.4 L31.0,364.4 L31.5,364.3 L32.0,364.3 L32.5,364.3 L33.0,364.2 L33.5,364.2 L34.0,364.1 L34.5,364.1 L35.0,364.0 L35.5,364.0 L36.0,364.0 L36.5,363.9 L37.0,363.9 L37.5,363.8 L38.0,363.7 L38.5,363.7 L39.0,363.6 L39.5,363.6 L40.0,363.5 L40.5,363.4 L41.0,363.4 L41.5,363.3 L42.0,363.2 L42.5,363.2 L43.0,363.1 L43.5,363.0 L44.0,362.9 L44.5,362.9 L45.0,362.8 L45.5,362.7 L46.0,362.6 L46.5,362.5 L47.0,362.4 L47.5,362.3 L48.0,362.2 L48.5,362.1 L49.0,362.0 L49.5,361.9 L50.0,361.8 L50.5,361.7 L51.0,361.6 L51.5,361.4 L52.0,361.3 L52.5,361.2 L53.0,361.0 L53.5,360.9 L54.0,360.7 L54.5,360.6 L55.0,360.4 L55.5,360.3 L56.0,360.1 L56.5,359.9 L57.0,359.8 L57.5,359.6 L58.0,359.4 L58.5,359.2 L59.0,359.0 L59.5,358.8 L60.0,358.5 L60.5,358.3 L61.0,358.1 L61.5,357.8 L62.0,357.6 L62.5,357.3 L63.0,357.1 L63.5,356.8 L64.0,356.5 L64.5,356.2 L65.0,355.9 L65.5,355.5 L66.0,355.2 L66.5,354.9 L67.0,354.5 L67.5,354.1 L68.0,353.7 L68.5,353.3 L69.0,352.9 L69.5,352.4 L70.0,352.0 L70.5,351.5 L71.0,351.0 L71.5,350.5 L72.0,350.0 L72.5,349.4 L73.0,348.8 L73.5,348.2 L74.0,347.6 L74.5,346.9 L75.0,346.2 L75.5,345.5 L76.0,344.8 L76.5,344.0 L77.0,343.2 L77.5,342.4 L78.0,341.5 L78.5,340.7 L79.0,339.7 L79.5,338.7 L80.0,337.7 L80.5,336.7 L81.0,335.6 L81.5,334.5 L82.0,333.3 L82.5,332.1 L83.0,330.8 L83.5,329.5 L84.0,328.2 L84.5,326.8 L85.0,325.3 L85.5,323.8 L86.0,322.3 L86.5,320.7 L87.0,319.0 L87.5,317.3 L88.0,315.6 L88.5,313.8 L89.0,311.9 L89.5,310.1 L90.0,308.1 L90.5,306.1 L91.0,304.1 L91.5,302.1 L92.0,300.0 L92.5,297.9 L93.0,295.8 L93.5,293.6 L94.0,291.5 L94.5,289.4 L95.0,287.2 L95.5,285.1 L96.0,283.1 L96.5,281.1 L97.0,279.1 L97.5,277.2 L98.0,275.5 L98.5,273.8 L99.0,272.2 L99.5,270.8 L100.0,269.5 L100.5,268.4 L101.0,267.4 L101.5,266.6 L102.0,266.1 L102.5,265.7 L103.0,265.5 L103.5,265.5 L104.0,265.7 L104.5,266.1 L105.0,266.7 L105.5,267.5 L106.0,268.5 L106.5,269.6 L107.0,270.9 L107.5,272.4 L108.0,274.0 L108.5,275.7 L109.0,277.5 L109.5,279.4 L110.0,281.4 L110.5,283.5 L111.0,285.6 L111.5,287.7 L112.0,289.9 L112.5,292.1 L113.0,294.3 L113.5,296.4 L114.0,298.6 L114.5,300.8 L115.0,302.9 L115.5,305.0 L116.0,307.1 L116.5,309.2 L117.0,311.2 L117.5,313.1 L118.0,315.0 L118.5,316.9 L119.0,318.7 L119.5,320.5 L120.0,322.2 L120.5,323.8 L121.0,325.4 L121.5,327.0 L122.0,328.5 L122.5,330.0 L123.0,331.4 L123.5,332.8 L124.0,334.1 L124.5,335.4 L125.0,336.6 L125.5,337.8 L126.0,338.9 L126.5,340.1 L127.0,341.1 L127.5,342.2 L128.0,343.1 L128.5,344.1 L129.0,345.0 L129.5,345.9 L130.0,346.8 L130.5,347.6 L131.0,348.4 L131.5,349.2 L132.0,349.9 L132.5,350.6 L133.0,351.3 L133.5,352.0 L134.0,352.6 L134.5,353.2 L135.0,353.8 L135.5,354.4 L136.0,355.0 L136.5,355.5 L137.0,356.0 L137.5,356.5 L138.0,357.0 L138.5,357.5 L139.0,357.9 L139.5,358.3 L140.0,358.8 L140.5,359.2 L141.0,359.6 L141.5,359.9 L142.0,360.3 L142.5,360.7 L143.0,361.0 L143.5,361.4 L144.0,361.7 L144.5,362.0 L145.0,362.3 L145.5,362.6 L146.0,362.9 L146.5,363.2 L147.0,363.5 L147.5,363.7 L148.0,364.0 L148.5,364.2 L149.0,364.5 L149.5,364.7 L150.0,365.0 L150.5,365.2 L151.0,365.4 L151.5,365.6 L152.0,365.8 L152.5,366.0 L153.0,366.2 L153.5,366.4 L154.0,366.6 L154.5,366.8 L155.0,367.0 L155.5,367.2 L156.0,367.4 L156.5,367.5 L157.0,367.7 L157.5,367.9 L158.0,368.0 L158.5,368.2 L159.0,368.3 L159.5,368.5 L160.0,368.6 L160.5,368.8 L161.0,368.9 L161.5,369.1 L162.0,369.2 L162.5,369.4 L163.0,369.5 L163.5,369.6 L164.0,369.7 L164.5,369.9 L165.0,370.0 L165.5,370.1 L166.0,370.2 L166.5,370.4 L167.0,370.5 L167.5,370.6 L168.0,370.7 L168.5,370.8 L169.0,370.9 L169.5,371.0 L170.0,371.1 L170.5,371.2 L171.0,371.3 L171.5,371.4 L172.0,371.5 L172.5,371.6 L173.0,371.7 L173.5,371.8 L174.0,371.9 L174.5,372.0 L175.0,372.1 L175.5,372.2 L176.0,372.3 L176.5,372.4 L177.0,372.4 L177.5,372.5 L178.0,372.6 L178.5,372.7 L179.0,372.8 L179.5,372.9 L180.0,372.9 L180.5,373.0 L181.0,373.1 L181.5,373.2 L182.0,373.2 L182.5,373.3 L183.0,373.4 L183.5,373.5 L184.0,373.5 L184.5,373.6 L185.0,373.7 L185.5,373.8 L186.0,373.8 L186.5,373.9 L187.0,374.0 L187.5,374.0 L188.0,374.1 L188.5,374.2 L189.0,374.2 L189.5,374.3 L190.0,374.4 L190.5,374.4 L191.0,374.5 L191.5,374.5 L192.0,374.6 L192.5,374.7 L193.0,374.7 L193.5,374.8 L194.0,374.8 L194.5,374.9 L195.0,375.0 L195.5,375.0 L196.0,375.1 L196.5,375.1 L197.0,375.2 L197.5,375.2 L198.0,375.3 L198.5,375.4 L199.0,375.4 L199.5,375.5 L200.0,375.5 L200.5,375.6 L201.0,375.6 L201.5,375.7 L202.0,375.7 L202.5,375.8 L203.0,375.8 L203.5,375.9 L204.0,375.9 L204.5,376.0 L205.0,376.0 L205.5,376.1 L206.0,376.1 L206.5,376.2 L207.0,376.2 L207.5,376.3 L208.0,376.3 L208.5,376.4 L209.0,376.4 L209.5,376.5 L210.0,376.5 L210.5,376.6 L211.0,376.6 L211.5,376.7 L212.0,376.7 L212.5,376.8 L213.0,376.8 L213.5,376.9 L214.0,376.9 L214.5,376.9 L215.0,377.0 L215.5,377.0 L216.0,377.1 L216.5,377.1 L217.0,377.2 L217.5,377.2 L218.0,377.3 L218.5,377.3 L219.0,377.3 L219.5,377.4 L220.0,377.4 L220.5,377.5 L221.0,377.5 L221.5,377.6 L222.0,377.6 L222.5,377.6 L223.0,377.7 L223.5,377.7 L224.0,377.8 L224.5,377.8 L225.0,377.8 L225.5,377.9 L226.0,377.9 L226.5,378.0 L227.0,378.0 L227.5,378.0 L228.0,378.1 L228.5,378.1 L229.0,378.2 L229.5,378.2 L230.0,378.2 L230.5,378.3 L231.0,378.3 L231.5,378.4 L232.0,378.4 L232.5,378.4 L233.0,378.5 L233.5,378.5 L234.0,378.6 L234.5,378.6 L235.0,378.6 L235.5,378.7 L236.0,378.7 L236.5,378.7 L237.0,378.8 L237.5,378.8 L238.0,378.9 L238.5,378.9 L239.0,378.9 L239.5,379.0 L240.0,379.0 L240.5,379.0 L241.0,379.1 L241.5,379.1 L242.0,379.1 L242.5,379.2 L243.0,379.2 L243.5,379.3 L244.0,379.3 L244.5,379.3 L245.0,379.4 L245.5,379.4 L246.0,379.4 L246.5,379.5 L247.0,379.5 L247.5,379.5 L248.0,379.6 L248.5,379.6 L249.0,379.6 L249.5,379.7 L250.0,379.7 L250.5,379.8 L251.0,379.8 L251.5,379.8 L252.0,379.9 L252.5,379.9 L253.0,379.9 L253.5,380.0 L254.0,380.0 L254.5,380.0 L255.0,380.1 L255.5,380.1 L256.0,380.1 L256.5,380.2 L257.0,380.2 L257.5,380.2 L258.0,380.3 L258.5,380.3 L259.0,380.3 L259.5,380.4 L260.0,380.4 L260.5,380.4 L261.0,380.5 L261.5,380.5 L262.0,380.5 L262.5,380.6 L263.0,380.6 L263.5,380.6 L264.0,380.7 L264.5,380.7 L265.0,380.7" stroke="#008080" stroke-width="2.2"/>
<path d="M23.0,367.6 L23.5,367.6 L24.0,367.7 L24.5,367.7 L25.0,367.7 L25.5,367.7 L26.0,367.8 L26.5,367.8 L27.0,367.8 L27.5,367.8 L28.0,367.8 L28.5,367.9 L29.0,367.9 L29.5,367.9 L30.0,367.9 L30.5,367.9 L31.0,368.0 L31.5,368.0 L32.0,368.0 L32.5,368.0 L33.0,368.0 L33.5,368.1 L34.0,368.1 L34.5,368.1 L35.0,368.1 L35.5,368.2 L36.0,368.2 L36.5,368.2 L37.0,368.2 L37.5,368.2 L38.0,368.3 L38.5,368.3 L39.0,368.3 L39.5,368.3 L40.0,368.3 L40.5,368.4 L41.0,368.4 L41.5,368.4 L42.0,368.4 L42.5,368.4 L43.0,368.5 L43.5,368.5 L44.0,368.5 L44.5,368.5 L45.0,368.5 L45.5,368.5 L46.0,368.6 L46.5,368.6 L47.0,368.6 L47.5,368.6 L48.0,368.6 L48.5,368.7 L49.0,368.7 L49.5,368.7 L50.0,368.7 L50.5,368.7 L51.0,368.8 L51.5,368.8 L52.0,368.8 L52.5,368.8 L53.0,368.8 L53.5,368.8 L54.0,368.9 L54.5,368.9 L55.0,368.9 L55.5,368.9 L56.0,368.9 L56.5,369.0 L57.0,369.0 L57.5,369.0 L58.0,369.0 L58.5,369.0 L59.0,369.0 L59.5,369.1 L60.0,369.1 L60.5,369.1 L61.0,369.1 L61.5,369.1 L62.0,369.1 L62.5,369.2 L63.0,369.2 L63.5,369.2 L64.0,369.2 L64.5,369.2 L65.0,369.2 L65.5,369.2 L66.0,369.3 L66.5,369.3 L67.0,369.3 L67.5,369.3 L68.0,369.3 L68.5,369.3 L69.0,369.3 L69.5,369.4 L70.0,369.4 L70.5,369.4 L71.0,369.4 L71.5,369.4 L72.0,369.4 L72.5,369.4 L73.0,369.5 L73.5,369.5 L74.0,369.5 L74.5,369.5 L75.0,369.5 L75.5,369.5 L76.0,369.5 L76.5,369.5 L77.0,369.6 L77.5,369.6 L78.0,369.6 L78.5,369.6 L79.0,369.6 L79.5,369.6 L80.0,369.6 L80.5,369.6 L81.0,369.7 L81.5,369.7 L82.0,369.7 L82.5,369.7 L83.0,369.7 L83.5,369.7 L84.0,369.7 L84.5,369.7 L85.0,369.7 L85.5,369.7 L86.0,369.7 L86.5,369.8 L87.0,369.8 L87.5,369.8 L88.0,369.8 L88.5,369.8 L89.0,369.8 L89.5,369.8 L90.0,369.8 L90.5,369.8 L91.0,369.8 L91.5,369.8 L92.0,369.8 L92.5,369.8 L93.0,369.8 L93.5,369.8 L94.0,369.8 L94.5,369.9 L95.0,369.9 L95.5,369.9 L96.0,369.9 L96.5,369.9 L97.0,369.9 L97.5,369.9 L98.0,369.9 L98.5,369.9 L99.0,369.9 L99.5,369.9 L100.0,369.9 L100.5,369.9 L101.0,369.9 L101.5,369.9 L102.0,369.9 L102.5,369.9 L103.0,369.9 L103.5,369.9 L104.0,369.9 L104.5,369.9 L105.0,369.9 L105.5,369.8 L106.0,369.8 L106.5,369.8 L107.0,369.8 L107.5,369.8 L108.0,369.8 L108.5,369.8 L109.0,369.8 L109.5,369.8 L110.0,369.8 L110.5,369.8 L111.0,369.8 L111.5,369.7 L112.0,369.7 L112.5,369.7 L113.0,369.7 L113.5,369.7 L114.0,369.7 L114.5,369.7 L115.0,369.6 L115.5,369.6 L116.0,369.6 L116.5,369.6 L117.0,369.6 L117.5,369.5 L118.0,369.5 L118.5,369.5 L119.0,369.5 L119.5,369.4 L120.0,369.4 L120.5,369.4 L121.0,369.4 L121.5,369.3 L122.0,369.3 L122.5,369.3 L123.0,369.2 L123.5,369.2 L124.0,369.2 L124.5,369.1 L125.0,369.1 L125.5,369.0 L126.0,369.0 L126.5,368.9 L127.0,368.9 L127.5,368.9 L128.0,368.8 L128.5,368.7 L129.0,368.7 L129.5,368.6 L130.0,368.6 L130.5,368.5 L131.0,368.5 L131.5,368.4 L132.0,368.3 L132.5,368.2 L133.0,368.2 L133.5,368.1 L134.0,368.0 L134.5,367.9 L135.0,367.9 L135.5,367.8 L136.0,367.7 L136.5,367.6 L137.0,367.5 L137.5,367.4 L138.0,367.3 L138.5,367.2 L139.0,367.1 L139.5,366.9 L140.0,366.8 L140.5,366.7 L141.0,366.6 L141.5,366.4 L142.0,366.3 L142.5,366.2 L143.0,366.0 L143.5,365.9 L144.0,365.7 L144.5,365.5 L145.0,365.4 L145.5,365.2 L146.0,365.0 L146.5,364.8 L147.0,364.7 L147.5,364.5 L148.0,364.3 L148.5,364.1 L149.0,363.8 L149.5,363.6 L150.0,363.4 L150.5,363.2 L151.0,362.9 L151.5,362.7 L152.0,362.4 L152.5,362.2 L153.0,361.9 L153.5,361.6 L154.0,361.4 L154.5,361.1 L155.0,360.8 L155.5,360.5 L156.0,360.2 L156.5,359.9 L157.0,359.5 L157.5,359.2 L158.0,358.9 L158.5,358.5 L159.0,358.1 L159.5,357.8 L160.0,357.4 L160.5,357.0 L161.0,356.6 L161.5,356.2 L162.0,355.8 L162.5,355.4 L163.0,355.0 L163.5,354.5 L164.0,354.1 L164.5,353.6 L165.0,353.2 L165.5,352.7 L166.0,352.2 L166.5,351.7 L167.0,351.2 L167.5,350.7 L168.0,350.2 L168.5,349.7 L169.0,349.1 L169.5,348.6 L170.0,348.0 L170.5,347.5 L171.0,346.9 L171.5,346.3 L172.0,345.8 L172.5,345.2 L173.0,344.6 L173.5,344.0 L174.0,343.3 L174.5,342.7 L175.0,342.1 L175.5,341.5 L176.0,340.8 L176.5,340.2 L177.0,339.6 L177.5,338.9 L178.0,338.3 L178.5,337.6 L179.0,336.9 L179.5,336.3 L180.0,335.6 L180.5,335.0 L181.0,334.3 L181.5,333.6 L182.0,333.0 L182.5,332.3 L183.0,331.6 L183.5,331.0 L184.0,330.3 L184.5,329.7 L185.0,329.1 L185.5,328.4 L186.0,327.8 L186.5,327.2 L187.0,326.6 L187.5,326.0 L188.0,325.4 L188.5,324.8 L189.0,324.3 L189.5,323.8 L190.0,323.2 L190.5,322.7 L191.0,322.3 L191.5,321.8 L192.0,321.4 L192.5,320.9 L193.0,320.5 L193.5,320.2 L194.0,319.8 L194.5,319.5 L195.0,319.2 L195.5,319.0 L196.0,318.8 L196.5,318.6 L197.0,318.4 L197.5,318.3 L198.0,318.2 L198.5,318.1 L199.0,318.1 L199.5,318.1 L200.0,318.1 L200.5,318.2 L201.0,318.3 L201.5,318.4 L202.0,318.5 L202.5,318.7 L203.0,319.0 L203.5,319.2 L204.0,319.5 L204.5,319.8 L205.0,320.2 L205.5,320.5 L206.0,320.9 L206.5,321.4 L207.0,321.8 L207.5,322.3 L208.0,322.8 L208.5,323.3 L209.0,323.8 L209.5,324.4 L210.0,325.0 L210.5,325.6 L211.0,326.2 L211.5,326.8 L212.0,327.4 L212.5,328.1 L213.0,328.8 L213.5,329.4 L214.0,330.1 L214.5,330.8 L215.0,331.5 L215.5,332.2 L216.0,332.9 L216.5,333.6 L217.0,334.3 L217.5,335.0 L218.0,335.8 L218.5,336.5 L219.0,337.2 L219.5,337.9 L220.0,338.6 L220.5,339.3 L221.0,340.1 L221.5,340.8 L222.0,341.5 L222.5,342.2 L223.0,342.9 L223.5,343.6 L224.0,344.2 L224.5,344.9 L225.0,345.6 L225.5,346.3 L226.0,346.9 L226.5,347.6 L227.0,348.2 L227.5,348.9 L228.0,349.5 L228.5,350.2 L229.0,350.8 L229.5,351.4 L230.0,352.0 L230.5,352.6 L231.0,353.2 L231.5,353.7 L232.0,354.3 L232.5,354.9 L233.0,355.4 L233.5,356.0 L234.0,356.5 L234.5,357.0 L235.0,357.5 L235.5,358.1 L236.0,358.6 L236.5,359.0 L237.0,359.5 L237.5,360.0 L238.0,360.5 L238.5,360.9 L239.0,361.4 L239.5,361.8 L240.0,362.2 L240.5,362.6 L241.0,363.1 L241.5,363.5 L242.0,363.9 L242.5,364.2 L243.0,364.6 L243.5,365.0 L244.0,365.4 L244.5,365.7 L245.0,366.1 L245.5,366.4 L246.0,366.7 L246.5,367.1 L247.0,367.4 L247.5,367.7 L248.0,368.0 L248.5,368.3 L249.0,368.6 L249.5,368.9 L250.0,369.1 L250.5,369.4 L251.0,369.7 L251.5,369.9 L252.0,370.2 L252.5,370.4 L253.0,370.7 L253.5,370.9 L254.0,371.1 L254.5,371.4 L255.0,371.6 L255.5,371.8 L256.0,372.0 L256.5,372.2 L257.0,372.4 L257.5,372.6 L258.0,372.8 L258.5,373.0 L259.0,373.1 L259.5,373.3 L260.0,373.5 L260.5,373.7 L261.0,373.8 L261.5,374.0 L262.0,374.2 L262.5,374.3 L263.0,374.5 L263.5,374.6 L264.0,374.8 L264.5,374.9 L265.0,375.0" stroke="#ff00ff" stroke-width="2.2"/>
<path d="M23.0,368.6 L23.5,368.6 L24.0,368.6 L24.5,368.7 L25.0,368.7 L25.5,368.7 L26.0,368.8 L26.5,368.8 L27.0,368.8 L27.5,368.8 L28.0,368.9 L28.5,368.9 L29.0,368.9 L29.5,368.9 L30.0,369.0 L30.5,369.0 L31.0,369.0 L31.5,369.1 L32.0,369.1 L32.5,369.1 L33.0,369.1 L33.5,369.2 L34.0,369.2 L34.5,369.2 L35.0,369.2 L35.5,369.3 L36.0,369.3 L36.5,369.3 L37.0,369.4 L37.5,369.4 L38.0,369.4 L38.5,369.4 L39.0,369.5 L39.5,369.5 L40.0,369.5 L40.5,369.5 L41.0,369.6 L41.5,369.6 L42.0,369.6 L42.5,369.6 L43.0,369.7 L43.5,369.7 L44.0,369.7 L44.5,369.8 L45.0,369.8 L45.5,369.8 L46.0,369.8 L46.5,369.9 L47.0,369.9 L47.5,369.9 L48.0,369.9 L48.5,370.0 L49.0,370.0 L49.5,370.0 L50.0,370.1 L50.5,370.1 L51.0,370.1 L51.5,370.1 L52.0,370.2 L52.5,370.2 L53.0,370.2 L53.5,370.2 L54.0,370.3 L54.5,370.3 L55.0,370.3 L55.5,370.4 L56.0,370.4 L56.5,370.4 L57.0,370.4 L57.5,370.5 L58.0,370.5 L58.5,370.5 L59.0,370.5 L59.5,370.6 L60.0,370.6 L60.5,370.6 L61.0,370.7 L61.5,370.7 L62.0,370.7 L62.5,370.7 L63.0,370.8 L63.5,370.8 L64.0,370.8 L64.5,370.8 L65.0,370.9 L65.5,370.9 L66.0,370.9 L66.5,370.9 L67.0,371.0 L67.5,371.0 L68.0,371.0 L68.5,371.1 L69.0,371.1 L69.5,371.1 L70.0,371.1 L70.5,371.2 L71.0,371.2 L71.5,371.2 L72.0,371.2 L72.5,371.3 L73.0,371.3 L73.5,371.3 L74.0,371.4 L74.5,371.4 L75.0,371.4 L75.5,371.4 L76.0,371.5 L76.5,371.5 L77.0,371.5 L77.5,371.5 L78.0,371.6 L78.5,371.6 L79.0,371.6 L79.5,371.7 L80.0,371.7 L80.5,371.7 L81.0,371.7 L81.5,371.8 L82.0,371.8 L82.5,371.8 L83.0,371.8 L83.5,371.9 L84.0,371.9 L84.5,371.9 L85.0,372.0 L85.5,372.0 L86.0,372.0 L86.5,372.0 L87.0,372.1 L87.5,372.1 L88.0,372.1 L88.5,372.1 L89.0,372.2 L89.5,372.2 L90.0,372.2 L90.5,372.3 L91.0,372.3 L91.5,372.3 L92.0,372.3 L92.5,372.4 L93.0,372.4 L93.5,372.4 L94.0,372.4 L94.5,372.5 L95.0,372.5 L95.5,372.5 L96.0,372.5 L96.5,372.6 L97.0,372.6 L97.5,372.6 L98.0,372.7 L98.5,372.7 L99.0,372.7 L99.5,372.7 L100.0,372.8 L100.5,372.8 L101.0,372.8 L101.5,372.8 L102.0,372.9 L102.5,372.9 L103.0,372.9 L103.5,373.0 L104.0,373.0 L104.5,373.0 L105.0,373.0 L105.5,373.1 L106.0,373.1 L106.5,373.1 L107.0,373.1 L107.5,373.2 L108.0,373.2 L108.5,373.2 L109.0,373.3 L109.5,373.3 L110.0,373.3 L110.5,373.3 L111.0,373.4 L111.5,373.4 L112.0,373.4 L112.5,373.4 L113.0,373.5 L113.5,373.5 L114.0,373.5 L114.5,373.6 L115.0,373.6 L115.5,373.6 L116.0,373.6 L116.5,373.7 L117.0,373.7 L117.5,373.7 L118.0,373.7 L118.5,373.8 L119.0,373.8 L119.5,373.8 L120.0,373.8 L120.5,373.9 L121.0,373.9 L121.5,373.9 L122.0,374.0 L122.5,374.0 L123.0,374.0 L123.5,374.0 L124.0,374.1 L124.5,374.1 L125.0,374.1 L125.5,374.1 L126.0,374.2 L126.5,374.2 L127.0,374.2 L127.5,374.3 L128.0,374.3 L128.5,374.3 L129.0,374.3 L129.5,374.4 L130.0,374.4 L130.5,374.4 L131.0,374.4 L131.5,374.5 L132.0,374.5 L132.5,374.5 L133.0,374.6 L133.5,374.6 L134.0,374.6 L134.5,374.6 L135.0,374.7 L135.5,374.7 L136.0,374.7 L136.5,374.7 L137.0,374.8 L137.5,374.8 L138.0,374.8 L138.5,374.9 L139.0,374.9 L139.5,374.9 L140.0,374.9 L140.5,375.0 L141.0,375.0 L141.5,375.0 L142.0,375.0 L142.5,375.1 L143.0,375.1 L143.5,375.1 L144.0,375.1 L144.5,375.2 L145.0,375.2 L145.5,375.2 L146.0,375.3 L146.5,375.3 L147.0,375.3 L147.5,375.3 L148.0,375.4 L148.5,375.4 L149.0,375.4 L149.5,375.4 L150.0,375.5 L150.5,375.5 L151.0,375.5 L151.5,375.6 L152.0,375.6 L152.5,375.6 L153.0,375.6 L153.5,375.7 L154.0,375.7 L154.5,375.7 L155.0,375.7 L155.5,375.8 L156.0,375.8 L156.5,375.8 L157.0,375.9 L157.5,375.9 L158.0,375.9 L158.5,375.9 L159.0,376.0 L159.5,376.0 L160.0,376.0 L160.5,376.0 L161.0,376.1 L161.5,376.1 L162.0,376.1 L162.5,376.2 L163.0,376.2 L163.5,376.2 L164.0,376.2 L164.5,376.3 L165.0,376.3 L165.5,376.3 L166.0,376.3 L166.5,376.4 L167.0,376.4 L167.5,376.4 L168.0,376.5 L168.5,376.5 L169.0,376.5 L169.5,376.5 L170.0,376.6 L170.5,376.6 L171.0,376.6 L171.5,376.6 L172.0,376.7 L172.5,376.7 L173.0,376.7 L173.5,376.7 L174.0,376.8 L174.5,376.8 L175.0,376.8 L175.5,376.9 L176.0,376.9 L176.5,376.9 L177.0,376.9 L177.5,377.0 L178.0,377.0 L178.5,377.0 L179.0,377.0 L179.5,377.1 L180.0,377.1 L180.5,377.1 L181.0,377.2 L181.5,377.2 L182.0,377.2 L182.5,377.2 L183.0,377.3 L183.5,377.3 L184.0,377.3 L184.5,377.3 L185.0,377.4 L185.5,377.4 L186.0,377.4 L186.5,377.5 L187.0,377.5 L187.5,377.5 L188.0,377.5 L188.5,377.6 L189.0,377.6 L189.5,377.6 L190.0,377.6 L190.5,377.7 L191.0,377.7 L191.5,377.7 L192.0,377.8 L192.5,377.8 L193.0,377.8 L193.5,377.8 L194.0,377.9 L194.5,377.9 L195.0,377.9 L195.5,377.9 L196.0,378.0 L196.5,378.0 L197.0,378.0 L197.5,378.0 L198.0,378.1 L198.5,378.1 L199.0,378.1 L199.5,378.2 L200.0,378.2 L200.5,378.2 L201.0,378.2 L201.5,378.3 L202.0,378.3 L202.5,378.3 L203.0,378.3 L203.5,378.4 L204.0,378.4 L204.5,378.4 L205.0,378.5 L205.5,378.5 L206.0,378.5 L206.5,378.5 L207.0,378.6 L207.5,378.6 L208.0,378.6 L208.5,378.6 L209.0,378.7 L209.5,378.7 L210.0,378.7 L210.5,378.8 L211.0,378.8 L211.5,378.8 L212.0,378.8 L212.5,378.9 L213.0,378.9 L213.5,378.9 L214.0,378.9 L214.5,379.0 L215.0,379.0 L215.5,379.0 L216.0,379.1 L216.5,379.1 L217.0,379.1 L217.5,379.1 L218.0,379.2 L218.5,379.2 L219.0,379.2 L219.5,379.2 L220.0,379.3 L220.5,379.3 L221.0,379.3 L221.5,379.4 L222.0,379.4 L222.5,379.4 L223.0,379.4 L223.5,379.5 L224.0,379.5 L224.5,379.5 L225.0,379.5 L225.5,379.6 L226.0,379.6 L226.5,379.6 L227.0,379.6 L227.5,379.7 L228.0,379.7 L228.5,379.7 L229.0,379.8 L229.5,379.8 L230.0,379.8 L230.5,379.8 L231.0,379.9 L231.5,379.9 L232.0,379.9 L232.5,379.9 L233.0,380.0 L233.5,380.0 L234.0,380.0 L234.5,380.1 L235.0,380.1 L235.5,380.1 L236.0,380.1 L236.5,380.2 L237.0,380.2 L237.5,380.2 L238.0,380.2 L238.5,380.3 L239.0,380.3 L239.5,380.3 L240.0,380.4 L240.5,380.4 L241.0,380.4 L241.5,380.4 L242.0,380.5 L242.5,380.5 L243.0,380.5 L243.5,380.5 L244.0,380.6 L244.5,380.6 L245.0,380.6 L245.5,380.7 L246.0,380.7 L246.5,380.7 L247.0,380.7 L247.5,380.8 L248.0,380.8 L248.5,380.8 L249.0,380.8 L249.5,380.9 L250.0,380.9 L250.5,380.9 L251.0,380.9 L251.5,381.0 L252.0,381.0 L252.5,381.0 L253.0,381.1 L253.5,381.1 L254.0,381.1 L254.5,381.1 L255.0,381.2 L255.5,381.2 L256.0,381.2 L256.5,381.2 L257.0,381.3 L257.5,381.3 L258.0,381.3 L258.5,381.4 L259.0,381.4 L259.5,381.4 L260.0,381.4 L260.5,381.5 L261.0,381.5 L261.5,381.5 L262.0,381.5 L262.5,381.6 L263.0,381.6 L263.5,381.6 L264.0,381.7 L264.5,381.7 L265.0,381.7" stroke="#0000ff" stroke-width="1.8"/>
</g>
<rect x="25.0" y="222.6" width="238.2" height="177.1" fill="none" stroke="#1a1a1a" stroke-width="1.7"/>
<path d="M41.30,399.7 V396.09999999999997 M74.20,399.7 V396.09999999999997 M107.10,399.7 V396.09999999999997 M140.00,399.7 V396.09999999999997 M172.90,399.7 V396.09999999999997 M205.80,399.7 V396.09999999999997 M238.70,399.7 V396.09999999999997 M57.75,399.7 V397.5 M90.65,399.7 V397.5 M123.55,399.7 V397.5 M156.45,399.7 V397.5 M189.35,399.7 V397.5 M222.25,399.7 V397.5 M255.15,399.7 V397.5" stroke="#1a1a1a" stroke-width="1.2" fill="none"/>
<text x="41.30" y="410.7" font-size="8.2" text-anchor="middle" fill="#222">454</text>
<text x="74.20" y="410.7" font-size="8.2" text-anchor="middle" fill="#222">456</text>
<text x="107.10" y="410.7" font-size="8.2" text-anchor="middle" fill="#222">458</text>
<text x="140.00" y="410.7" font-size="8.2" text-anchor="middle" fill="#222">460</text>
<text x="172.90" y="410.7" font-size="8.2" text-anchor="middle" fill="#222">462</text>
<text x="205.80" y="410.7" font-size="8.2" text-anchor="middle" fill="#222">464</text>
<text x="238.70" y="410.7" font-size="8.2" text-anchor="middle" fill="#222">466</text>
<text x="144.10" y="423.0" font-size="10.65" text-anchor="middle" fill="#111">Binding Energy / eV</text>
<text transform="translate(15.8,306.6) rotate(-90)" font-size="10.8" text-anchor="middle" fill="#111">Intensity / a.u.</text>
<text x="28.3" y="242.6" style="font-family:'Liberation Serif',serif" font-size="18.5" fill="#111">(c)</text>
<text x="217.8" y="248.3" font-size="9.9" fill="#111">Ti 2p</text>
<text x="110.1" y="250.6" font-size="8.9" fill="#222">Ti 2p<tspan font-size="6.0" dx="0.6" dy="4.3">3/2</tspan></text>
<text x="187.6" y="293.6" font-size="8.9" fill="#222">Ti 2p<tspan font-size="6.0" dx="0.8" dy="4.3">1/2</tspan></text>
<clipPath id="cd"><rect x="300.5" y="222.7" width="236.70000000000005" height="176.2"/></clipPath>
<g clip-path="url(#cd)" fill="none" stroke-linejoin="round" stroke-linecap="round">
<path d="M300.5,384.6 L304.0,384.3 L308.4,383.7 L311.2,383.0 L314.0,384.0 L317.0,383.2 L320.9,382.7 L325.1,381.3 L328.6,379.5 L332.1,375.3 L335.6,370.5 L339.1,363.5 L341.9,357.9 L344.0,352.3 L346.0,345.3 L348.1,337.0 L348.5,333.7 L349.0,332.0 L349.5,330.3 L350.0,328.6 L350.5,326.5 L351.0,324.5 L351.5,322.7 L352.0,320.6 L352.5,319.0 L353.0,317.5 L353.5,315.7 L354.0,314.2 L354.5,312.6 L355.0,310.6 L355.5,308.5 L356.0,306.4 L356.5,304.8 L357.0,302.7 L357.5,300.7 L358.0,298.5 L358.5,295.9 L359.0,293.7 L359.5,291.5 L360.0,289.2 L360.5,287.1 L361.0,284.7 L361.5,282.5 L362.0,280.0 L362.5,277.4 L363.0,274.6 L363.5,271.7 L364.0,269.4 L364.5,266.8 L365.0,264.7 L365.5,262.5 L366.0,260.2 L366.5,258.2 L367.0,256.1 L367.5,253.9 L368.0,251.6 L368.5,249.4 L369.0,247.3 L369.5,245.4 L370.0,243.9 L370.5,242.6 L371.0,241.6 L371.5,240.7 L372.0,239.7 L372.5,239.2 L373.0,238.9 L373.5,238.8 L374.0,239.2 L374.5,239.1 L375.0,239.2 L375.5,239.7 L376.0,240.3 L376.5,241.3 L377.0,242.6 L377.5,243.0 L378.0,243.9 L378.5,244.7 L379.0,245.5 L379.5,246.9 L380.0,248.1 L380.5,247.8 L381.0,247.3 L381.5,246.9 L382.0,246.5 L382.5,246.5 L383.0,246.7 L383.5,248.4 L384.0,250.2 L384.5,251.8 L385.0,253.6 L385.5,255.1 L386.0,256.5 L386.5,258.1 L387.0,259.7 L387.5,261.4 L388.0,263.3 L388.5,265.5 L389.0,267.4 L389.5,269.6 L390.0,271.4 L390.5,273.1 L391.0,275.3 L391.5,276.9 L392.0,279.0 L392.5,280.8 L393.0,282.4 L393.5,284.0 L394.0,285.9 L394.5,287.6 L395.0,289.0 L395.5,290.7 L396.0,291.4 L396.5,293.1 L397.0,294.3 L397.5,295.6 L398.0,297.3 L398.5,297.6 L399.0,299.0 L399.5,300.2 L400.0,301.1 L400.5,302.4 L401.0,303.4 L401.5,304.0 L402.0,304.7 L402.5,305.4 L403.0,306.0 L403.5,306.4 L404.0,307.1 L404.5,307.7 L405.0,307.9 L405.5,308.7 L406.0,309.4 L406.5,310.1 L407.0,310.6 L407.5,311.0 L408.0,310.6 L408.5,310.5 L409.0,310.8 L409.5,310.1 L410.0,310.2 L410.5,309.9 L411.0,309.6 L411.5,309.6 L412.0,309.0 L412.5,308.9 L413.0,309.1 L413.5,309.6 L414.0,309.8 L414.5,310.0 L415.0,309.4 L415.5,308.2 L416.0,307.8 L416.5,307.3 L417.0,306.9 L417.5,307.0 L418.0,306.7 L418.5,305.9 L419.0,305.3 L419.5,304.7 L420.0,304.1 L420.5,303.8 L421.0,304.1 L421.5,304.2 L422.0,303.9 L422.5,303.8 L423.0,303.6 L423.5,303.2 L424.0,303.4 L424.5,303.0 L425.0,302.9 L425.5,303.4 L426.0,303.6 L426.5,303.8 L427.0,304.1 L427.5,304.3 L428.0,304.7 L428.5,305.2 L429.0,306.1 L429.5,306.1 L430.0,306.8 L430.5,307.6 L431.0,307.7 L431.5,309.0 L432.0,309.7 L432.5,310.3 L433.0,311.5 L433.5,312.1 L434.0,312.5 L434.5,313.5 L435.0,314.4 L435.5,315.6 L436.0,317.0 L436.5,318.1 L437.0,319.0 L437.5,319.8 L438.0,321.0 L438.5,321.6 L439.0,322.1 L439.5,322.8 L440.0,323.0 L440.5,323.5 L441.0,324.2 L441.5,324.7 L442.0,325.4 L442.5,326.4 L443.0,327.0 L443.5,327.8 L444.0,328.5 L444.5,329.3 L445.0,329.9 L445.5,330.8 L446.0,331.6 L446.5,332.0 L447.0,332.9 L447.5,333.3 L448.0,334.1 L448.5,334.8 L449.0,335.5 L449.5,336.7 L450.0,337.1 L450.5,337.9 L451.0,338.4 L451.5,338.4 L452.0,338.9 L452.5,339.2 L453.0,339.9 L453.5,340.4 L454.0,341.4 L454.5,342.0 L455.0,342.5 L455.5,343.4 L456.0,343.6 L456.5,344.1 L457.0,344.6 L457.5,344.6 L458.0,345.4 L458.5,346.1 L459.0,346.5 L459.5,347.0 L460.0,347.8 L460.5,348.5 L461.0,348.7 L461.5,349.2 L462.0,349.1 L462.5,350.0 L463.0,351.3 L463.5,352.5 L464.0,353.7 L464.5,354.7 L465.0,355.6 L465.5,356.2 L466.0,357.0 L466.5,357.8 L467.0,358.5 L467.5,359.2 L468.0,360.0 L468.5,360.5 L469.0,361.1 L469.5,361.7 L470.0,362.1 L470.5,362.4 L471.0,362.4 L471.5,363.1 L472.0,363.7 L472.5,364.2 L473.0,365.1 L473.5,365.4 L474.0,365.8 L474.5,365.8 L475.0,366.0 L475.5,366.4 L476.0,366.9 L476.5,367.9 L477.0,368.5 L477.5,368.6 L478.0,368.3 L478.5,368.4 L479.0,368.6 L479.5,369.2 L480.0,369.8 L480.5,370.0 L481.0,370.1 L481.5,370.3 L482.0,370.5 L482.5,370.8 L483.0,371.3 L483.5,371.5 L484.0,371.9 L484.5,372.0 L485.0,372.3 L485.5,372.6 L486.0,372.7 L486.5,372.8 L487.0,373.2 L487.5,373.3 L488.0,373.7 L488.5,374.0 L489.0,373.8 L489.5,373.9 L490.0,373.9 L490.5,374.0 L491.0,374.3 L491.5,374.3 L492.0,374.3 L492.5,374.4 L493.0,374.6 L493.5,374.6 L494.0,374.8 L494.5,374.8 L495.0,374.7 L495.5,375.1 L496.0,375.2 L496.5,375.5 L497.0,375.6 L497.5,375.8 L498.0,375.9 L498.5,375.6 L499.0,375.6 L499.5,375.6 L500.0,375.5 L500.5,375.6 L501.0,375.6 L501.5,375.8 L502.0,375.9 L502.5,375.9 L503.0,376.2 L503.5,376.3 L504.0,376.5 L504.5,376.7 L505.0,376.5 L505.5,376.3 L506.0,376.2 L506.5,376.3 L507.0,376.3 L507.5,376.2 L508.0,376.3 L508.5,376.0 L509.0,376.0 L509.5,376.1 L510.0,376.0 L510.5,376.3 L511.0,376.3 L511.5,376.2 L512.0,376.6 L512.5,376.9 L513.0,376.8 L513.5,377.3 L514.0,377.1" stroke="#000" stroke-width="1.6"/>
<path d="M298.5,379.2 L299.0,379.1 L299.5,379.0 L300.0,378.9 L300.5,378.8 L301.0,378.7 L301.5,378.6 L302.0,378.5 L302.5,378.4 L303.0,378.3 L303.5,378.2 L304.0,378.1 L304.5,377.9 L305.0,377.8 L305.5,377.7 L306.0,377.6 L306.5,377.4 L307.0,377.3 L307.5,377.2 L308.0,377.1 L308.5,376.9 L309.0,376.8 L309.5,376.6 L310.0,376.5 L310.5,376.3 L311.0,376.2 L311.5,376.0 L312.0,375.9 L312.5,375.7 L313.0,375.6 L313.5,375.4 L314.0,375.2 L314.5,375.1 L315.0,374.9 L315.5,374.7 L316.0,374.5 L316.5,374.3 L317.0,374.2 L317.5,374.0 L318.0,373.8 L318.5,373.6 L319.0,373.3 L319.5,373.1 L320.0,372.9 L320.5,372.7 L321.0,372.5 L321.5,372.2 L322.0,372.0 L322.5,371.8 L323.0,371.5 L323.5,371.3 L324.0,371.0 L324.5,370.7 L325.0,370.5 L325.5,370.2 L326.0,369.9 L326.5,369.6 L327.0,369.3 L327.5,369.0 L328.0,368.7 L328.5,368.3 L329.0,368.0 L329.5,367.7 L330.0,367.3 L330.5,367.0 L331.0,366.6 L331.5,366.2 L332.0,365.8 L332.5,365.4 L333.0,365.0 L333.5,364.6 L334.0,364.2 L334.5,363.7 L335.0,363.3 L335.5,362.8 L336.0,362.3 L336.5,361.8 L337.0,361.3 L337.5,360.8 L338.0,360.2 L338.5,359.7 L339.0,359.1 L339.5,358.5 L340.0,357.9 L340.5,357.3 L341.0,356.6 L341.5,355.9 L342.0,355.3 L342.5,354.6 L343.0,353.8 L343.5,353.1 L344.0,352.3 L344.5,351.5 L345.0,350.7 L345.5,349.8 L346.0,348.9 L346.5,348.0 L347.0,347.1 L347.5,346.1 L348.0,345.1 L348.5,344.1 L349.0,343.0 L349.5,341.9 L350.0,340.8 L350.5,339.6 L351.0,338.4 L351.5,337.1 L352.0,335.8 L352.5,334.5 L353.0,333.1 L353.5,331.7 L354.0,330.2 L354.5,328.7 L355.0,327.1 L355.5,325.5 L356.0,323.9 L356.5,322.2 L357.0,320.4 L357.5,318.6 L358.0,316.7 L358.5,314.8 L359.0,312.8 L359.5,310.8 L360.0,308.7 L360.5,306.6 L361.0,304.5 L361.5,302.2 L362.0,300.0 L362.5,297.7 L363.0,295.4 L363.5,293.0 L364.0,290.6 L364.5,288.2 L365.0,285.7 L365.5,283.3 L366.0,280.8 L366.5,278.4 L367.0,275.9 L367.5,273.5 L368.0,271.2 L368.5,268.8 L369.0,266.6 L369.5,264.4 L370.0,262.3 L370.5,260.2 L371.0,258.3 L371.5,256.6 L372.0,254.9 L372.5,253.4 L373.0,252.1 L373.5,250.9 L374.0,249.9 L374.5,249.1 L375.0,248.5 L375.5,248.1 L376.0,247.9 L376.5,247.9 L377.0,248.2 L377.5,248.6 L378.0,249.2 L378.5,250.0 L379.0,251.0 L379.5,252.2 L380.0,253.6 L380.5,255.1 L381.0,256.7 L381.5,258.5 L382.0,260.4 L382.5,262.4 L383.0,264.5 L383.5,266.7 L384.0,269.0 L384.5,271.3 L385.0,273.7 L385.5,276.1 L386.0,278.5 L386.5,280.9 L387.0,283.3 L387.5,285.8 L388.0,288.2 L388.5,290.6 L389.0,293.0 L389.5,295.3 L390.0,297.6 L390.5,299.9 L391.0,302.1 L391.5,304.3 L392.0,306.4 L392.5,308.5 L393.0,310.5 L393.5,312.5 L394.0,314.5 L394.5,316.4 L395.0,318.2 L395.5,320.0 L396.0,321.7 L396.5,323.4 L397.0,325.0 L397.5,326.6 L398.0,328.1 L398.5,329.6 L399.0,331.0 L399.5,332.4 L400.0,333.8 L400.5,335.1 L401.0,336.4 L401.5,337.6 L402.0,338.8 L402.5,339.9 L403.0,341.0 L403.5,342.1 L404.0,343.1 L404.5,344.1 L405.0,345.1 L405.5,346.1 L406.0,347.0 L406.5,347.9 L407.0,348.7 L407.5,349.5 L408.0,350.3 L408.5,351.1 L409.0,351.9 L409.5,352.6 L410.0,353.3 L410.5,354.0 L411.0,354.6 L411.5,355.3 L412.0,355.9 L412.5,356.5 L413.0,357.1 L413.5,357.7 L414.0,358.2 L414.5,358.8 L415.0,359.3 L415.5,359.8 L416.0,360.3 L416.5,360.7 L417.0,361.2 L417.5,361.6 L418.0,362.1 L418.5,362.5 L419.0,362.9 L419.5,363.3 L420.0,363.7 L420.5,364.1 L421.0,364.4 L421.5,364.8 L422.0,365.1 L422.5,365.5 L423.0,365.8 L423.5,366.1 L424.0,366.4 L424.5,366.7 L425.0,367.0 L425.5,367.3 L426.0,367.6 L426.5,367.9 L427.0,368.1 L427.5,368.4 L428.0,368.6 L428.5,368.9 L429.0,369.1 L429.5,369.4 L430.0,369.6 L430.5,369.8 L431.0,370.0 L431.5,370.2 L432.0,370.4 L432.5,370.6 L433.0,370.8 L433.5,371.0 L434.0,371.2 L434.5,371.4 L435.0,371.6 L435.5,371.7 L436.0,371.9 L436.5,372.1 L437.0,372.2 L437.5,372.4 L438.0,372.5 L438.5,372.7 L439.0,372.8 L439.5,373.0 L440.0,373.1 L440.5,373.3 L441.0,373.4 L441.5,373.5 L442.0,373.7 L442.5,373.8 L443.0,373.9 L443.5,374.0 L444.0,374.1 L444.5,374.3 L445.0,374.4 L445.5,374.5 L446.0,374.6 L446.5,374.7 L447.0,374.8 L447.5,374.9 L448.0,375.0 L448.5,375.1 L449.0,375.2 L449.5,375.3 L450.0,375.4 L450.5,375.5 L451.0,375.5 L451.5,375.6 L452.0,375.7 L452.5,375.8 L453.0,375.9 L453.5,376.0 L454.0,376.0 L454.5,376.1 L455.0,376.2 L455.5,376.2 L456.0,376.3 L456.5,376.4 L457.0,376.5 L457.5,376.5 L458.0,376.6 L458.5,376.7 L459.0,376.7 L459.5,376.8 L460.0,376.8 L460.5,376.9 L461.0,377.0 L461.5,377.0 L462.0,377.1 L462.5,377.1 L463.0,377.2 L463.5,377.2 L464.0,377.3 L464.5,377.3 L465.0,377.4 L465.5,377.4 L466.0,377.5 L466.5,377.5 L467.0,377.6 L467.5,377.6 L468.0,377.7 L468.5,377.7 L469.0,377.7 L469.5,377.8 L470.0,377.8 L470.5,377.9 L471.0,377.9 L471.5,377.9 L472.0,378.0 L472.5,378.0 L473.0,378.1 L473.5,378.1 L474.0,378.1 L474.5,378.2 L475.0,378.2 L475.5,378.2 L476.0,378.3 L476.5,378.3 L477.0,378.3 L477.5,378.4 L478.0,378.4 L478.5,378.4 L479.0,378.4 L479.5,378.5 L480.0,378.5 L480.5,378.5 L481.0,378.6 L481.5,378.6 L482.0,378.6 L482.5,378.6 L483.0,378.7 L483.5,378.7 L484.0,378.7 L484.5,378.7 L485.0,378.8 L485.5,378.8 L486.0,378.8 L486.5,378.8 L487.0,378.8 L487.5,378.9 L488.0,378.9 L488.5,378.9 L489.0,378.9 L489.5,378.9 L490.0,379.0 L490.5,379.0 L491.0,379.0 L491.5,379.0 L492.0,379.0 L492.5,379.1 L493.0,379.1 L493.5,379.1 L494.0,379.1 L494.5,379.1 L495.0,379.1 L495.5,379.2 L496.0,379.2 L496.5,379.2 L497.0,379.2 L497.5,379.2 L498.0,379.2 L498.5,379.2 L499.0,379.2 L499.5,379.3 L500.0,379.3 L500.5,379.3 L501.0,379.3 L501.5,379.3 L502.0,379.3 L502.5,379.3 L503.0,379.3 L503.5,379.4 L504.0,379.4 L504.5,379.4 L505.0,379.4 L505.5,379.4 L506.0,379.4 L506.5,379.4 L507.0,379.4 L507.5,379.4 L508.0,379.4 L508.5,379.5 L509.0,379.5 L509.5,379.5 L510.0,379.5 L510.5,379.5 L511.0,379.5 L511.5,379.5 L512.0,379.5 L512.5,379.5 L513.0,379.5 L513.5,379.5 L514.0,379.5 L514.5,379.5 L515.0,379.5 L515.5,379.6 L516.0,379.6 L516.5,379.6 L517.0,379.6 L517.5,379.6 L518.0,379.6 L518.5,379.6 L519.0,379.6 L519.5,379.6 L520.0,379.6 L520.5,379.6 L521.0,379.6 L521.5,379.6 L522.0,379.6 L522.5,379.6 L523.0,379.6 L523.5,379.6 L524.0,379.6 L524.5,379.6 L525.0,379.6 L525.5,379.6 L526.0,379.6 L526.5,379.6 L527.0,379.6 L527.5,379.6 L528.0,379.6 L528.5,379.7 L529.0,379.7 L529.5,379.7 L530.0,379.7 L530.5,379.7 L531.0,379.7 L531.5,379.7 L532.0,379.7 L532.5,379.7 L533.0,379.7 L533.5,379.7 L534.0,379.7 L534.5,379.7 L535.0,379.7 L535.5,379.7 L536.0,379.7 L536.5,379.7 L537.0,379.7 L537.5,379.7 L538.0,379.7 L538.5,379.7 L539.0,379.7" stroke="#008080" stroke-width="2.1"/>
<path d="M298.5,385.1 L299.0,385.1 L299.5,385.1 L300.0,385.1 L300.5,385.1 L301.0,385.0 L301.5,385.0 L302.0,385.0 L302.5,385.0 L303.0,385.0 L303.5,384.9 L304.0,384.9 L304.5,384.9 L305.0,384.9 L305.5,384.9 L306.0,384.8 L306.5,384.8 L307.0,384.8 L307.5,384.8 L308.0,384.8 L308.5,384.7 L309.0,384.7 L309.5,384.7 L310.0,384.7 L310.5,384.6 L311.0,384.6 L311.5,384.6 L312.0,384.6 L312.5,384.6 L313.0,384.5 L313.5,384.5 L314.0,384.5 L314.5,384.5 L315.0,384.4 L315.5,384.4 L316.0,384.4 L316.5,384.4 L317.0,384.3 L317.5,384.3 L318.0,384.3 L318.5,384.3 L319.0,384.2 L319.5,384.2 L320.0,384.2 L320.5,384.2 L321.0,384.1 L321.5,384.1 L322.0,384.1 L322.5,384.1 L323.0,384.0 L323.5,384.0 L324.0,384.0 L324.5,383.9 L325.0,383.9 L325.5,383.9 L326.0,383.9 L326.5,383.8 L327.0,383.8 L327.5,383.8 L328.0,383.7 L328.5,383.7 L329.0,383.7 L329.5,383.6 L330.0,383.6 L330.5,383.6 L331.0,383.6 L331.5,383.5 L332.0,383.5 L332.5,383.5 L333.0,383.4 L333.5,383.4 L334.0,383.4 L334.5,383.3 L335.0,383.3 L335.5,383.3 L336.0,383.2 L336.5,383.2 L337.0,383.2 L337.5,383.1 L338.0,383.1 L338.5,383.0 L339.0,383.0 L339.5,383.0 L340.0,382.9 L340.5,382.9 L341.0,382.8 L341.5,382.8 L342.0,382.8 L342.5,382.7 L343.0,382.7 L343.5,382.6 L344.0,382.6 L344.5,382.6 L345.0,382.5 L345.5,382.5 L346.0,382.4 L346.5,382.4 L347.0,382.3 L347.5,382.3 L348.0,382.2 L348.5,382.2 L349.0,382.1 L349.5,382.1 L350.0,382.1 L350.5,382.0 L351.0,381.9 L351.5,381.9 L352.0,381.8 L352.5,381.8 L353.0,381.7 L353.5,381.7 L354.0,381.6 L354.5,381.6 L355.0,381.5 L355.5,381.5 L356.0,381.4 L356.5,381.3 L357.0,381.3 L357.5,381.2 L358.0,381.1 L358.5,381.1 L359.0,381.0 L359.5,380.9 L360.0,380.9 L360.5,380.8 L361.0,380.7 L361.5,380.7 L362.0,380.6 L362.5,380.5 L363.0,380.4 L363.5,380.4 L364.0,380.3 L364.5,380.2 L365.0,380.1 L365.5,380.0 L366.0,380.0 L366.5,379.9 L367.0,379.8 L367.5,379.7 L368.0,379.6 L368.5,379.5 L369.0,379.4 L369.5,379.3 L370.0,379.2 L370.5,379.1 L371.0,379.0 L371.5,378.9 L372.0,378.8 L372.5,378.7 L373.0,378.6 L373.5,378.5 L374.0,378.4 L374.5,378.2 L375.0,378.1 L375.5,378.0 L376.0,377.9 L376.5,377.7 L377.0,377.6 L377.5,377.5 L378.0,377.3 L378.5,377.2 L379.0,377.0 L379.5,376.9 L380.0,376.7 L380.5,376.6 L381.0,376.4 L381.5,376.2 L382.0,376.1 L382.5,375.9 L383.0,375.7 L383.5,375.5 L384.0,375.3 L384.5,375.1 L385.0,374.9 L385.5,374.7 L386.0,374.5 L386.5,374.3 L387.0,374.1 L387.5,373.9 L388.0,373.6 L388.5,373.4 L389.0,373.1 L389.5,372.9 L390.0,372.6 L390.5,372.4 L391.0,372.1 L391.5,371.8 L392.0,371.5 L392.5,371.2 L393.0,370.9 L393.5,370.6 L394.0,370.2 L394.5,369.9 L395.0,369.6 L395.5,369.2 L396.0,368.8 L396.5,368.4 L397.0,368.1 L397.5,367.6 L398.0,367.2 L398.5,366.8 L399.0,366.3 L399.5,365.9 L400.0,365.4 L400.5,364.9 L401.0,364.4 L401.5,363.9 L402.0,363.4 L402.5,362.8 L403.0,362.3 L403.5,361.7 L404.0,361.1 L404.5,360.4 L405.0,359.8 L405.5,359.1 L406.0,358.5 L406.5,357.8 L407.0,357.1 L407.5,356.3 L408.0,355.6 L408.5,354.8 L409.0,354.0 L409.5,353.2 L410.0,352.3 L410.5,351.5 L411.0,350.6 L411.5,349.7 L412.0,348.8 L412.5,347.9 L413.0,347.0 L413.5,346.0 L414.0,345.1 L414.5,344.1 L415.0,343.1 L415.5,342.1 L416.0,341.1 L416.5,340.2 L417.0,339.2 L417.5,338.2 L418.0,337.3 L418.5,336.3 L419.0,335.4 L419.5,334.5 L420.0,333.6 L420.5,332.8 L421.0,332.0 L421.5,331.3 L422.0,330.6 L422.5,329.9 L423.0,329.4 L423.5,328.8 L424.0,328.4 L424.5,328.0 L425.0,327.7 L425.5,327.4 L426.0,327.3 L426.5,327.2 L427.0,327.2 L427.5,327.3 L428.0,327.4 L428.5,327.7 L429.0,328.0 L429.5,328.4 L430.0,328.8 L430.5,329.3 L431.0,329.9 L431.5,330.5 L432.0,331.2 L432.5,332.0 L433.0,332.8 L433.5,333.6 L434.0,334.4 L434.5,335.3 L435.0,336.2 L435.5,337.1 L436.0,338.1 L436.5,339.0 L437.0,340.0 L437.5,340.9 L438.0,341.9 L438.5,342.9 L439.0,343.8 L439.5,344.8 L440.0,345.7 L440.5,346.6 L441.0,347.5 L441.5,348.4 L442.0,349.3 L442.5,350.2 L443.0,351.0 L443.5,351.9 L444.0,352.7 L444.5,353.5 L445.0,354.2 L445.5,355.0 L446.0,355.7 L446.5,356.4 L447.0,357.1 L447.5,357.8 L448.0,358.4 L448.5,359.1 L449.0,359.7 L449.5,360.3 L450.0,360.8 L450.5,361.4 L451.0,362.0 L451.5,362.5 L452.0,363.0 L452.5,363.5 L453.0,364.0 L453.5,364.4 L454.0,364.9 L454.5,365.3 L455.0,365.7 L455.5,366.1 L456.0,366.5 L456.5,366.9 L457.0,367.3 L457.5,367.6 L458.0,368.0 L458.5,368.3 L459.0,368.7 L459.5,369.0 L460.0,369.3 L460.5,369.6 L461.0,369.9 L461.5,370.1 L462.0,370.4 L462.5,370.7 L463.0,370.9 L463.5,371.2 L464.0,371.4 L464.5,371.6 L465.0,371.9 L465.5,372.1 L466.0,372.3 L466.5,372.5 L467.0,372.7 L467.5,372.9 L468.0,373.1 L468.5,373.3 L469.0,373.4 L469.5,373.6 L470.0,373.8 L470.5,373.9 L471.0,374.1 L471.5,374.3 L472.0,374.4 L472.5,374.5 L473.0,374.7 L473.5,374.8 L474.0,375.0 L474.5,375.1 L475.0,375.2 L475.5,375.3 L476.0,375.5 L476.5,375.6 L477.0,375.7 L477.5,375.8 L478.0,375.9 L478.5,376.0 L479.0,376.1 L479.5,376.2 L480.0,376.3 L480.5,376.4 L481.0,376.5 L481.5,376.6 L482.0,376.7 L482.5,376.7 L483.0,376.8 L483.5,376.9 L484.0,377.0 L484.5,377.1 L485.0,377.1 L485.5,377.2 L486.0,377.3 L486.5,377.3 L487.0,377.4 L487.5,377.5 L488.0,377.5 L488.5,377.6 L489.0,377.7 L489.5,377.7 L490.0,377.8 L490.5,377.8 L491.0,377.9 L491.5,377.9 L492.0,378.0 L492.5,378.0 L493.0,378.1 L493.5,378.1 L494.0,378.2 L494.5,378.2 L495.0,378.3 L495.5,378.3 L496.0,378.4 L496.5,378.4 L497.0,378.4 L497.5,378.5 L498.0,378.5 L498.5,378.6 L499.0,378.6 L499.5,378.6 L500.0,378.7 L500.5,378.7 L501.0,378.7 L501.5,378.8 L502.0,378.8 L502.5,378.8 L503.0,378.9 L503.5,378.9 L504.0,378.9 L504.5,378.9 L505.0,379.0 L505.5,379.0 L506.0,379.0 L506.5,379.0 L507.0,379.1 L507.5,379.1 L508.0,379.1 L508.5,379.1 L509.0,379.2 L509.5,379.2 L510.0,379.2 L510.5,379.2 L511.0,379.2 L511.5,379.3 L512.0,379.3 L512.5,379.3 L513.0,379.3 L513.5,379.3 L514.0,379.4 L514.5,379.4 L515.0,379.4 L515.5,379.4 L516.0,379.4 L516.5,379.4 L517.0,379.5 L517.5,379.5 L518.0,379.5 L518.5,379.5 L519.0,379.5 L519.5,379.5 L520.0,379.5 L520.5,379.5 L521.0,379.6 L521.5,379.6 L522.0,379.6 L522.5,379.6 L523.0,379.6 L523.5,379.6 L524.0,379.6 L524.5,379.6 L525.0,379.6 L525.5,379.7 L526.0,379.7 L526.5,379.7 L527.0,379.7 L527.5,379.7 L528.0,379.7 L528.5,379.7 L529.0,379.7 L529.5,379.7 L530.0,379.7 L530.5,379.7 L531.0,379.7 L531.5,379.7 L532.0,379.7 L532.5,379.8 L533.0,379.8 L533.5,379.8 L534.0,379.8 L534.5,379.8 L535.0,379.8 L535.5,379.8 L536.0,379.8 L536.5,379.8 L537.0,379.8 L537.5,379.8 L538.0,379.8 L538.5,379.8 L539.0,379.8" stroke="#ff00ff" stroke-width="2.1"/>
<path d="M298.5,386.0 L299.0,386.0 L299.5,386.0 L300.0,386.0 L300.5,386.0 L301.0,386.0 L301.5,386.0 L302.0,385.9 L302.5,385.9 L303.0,385.9 L303.5,385.9 L304.0,385.9 L304.5,385.9 L305.0,385.9 L305.5,385.9 L306.0,385.8 L306.5,385.8 L307.0,385.8 L307.5,385.8 L308.0,385.8 L308.5,385.8 L309.0,385.8 L309.5,385.8 L310.0,385.7 L310.5,385.7 L311.0,385.7 L311.5,385.7 L312.0,385.7 L312.5,385.7 L313.0,385.7 L313.5,385.6 L314.0,385.6 L314.5,385.6 L315.0,385.6 L315.5,385.6 L316.0,385.6 L316.5,385.6 L317.0,385.6 L317.5,385.5 L318.0,385.5 L318.5,385.5 L319.0,385.5 L319.5,385.5 L320.0,385.5 L320.5,385.5 L321.0,385.5 L321.5,385.4 L322.0,385.4 L322.5,385.4 L323.0,385.4 L323.5,385.4 L324.0,385.4 L324.5,385.4 L325.0,385.3 L325.5,385.3 L326.0,385.3 L326.5,385.3 L327.0,385.3 L327.5,385.3 L328.0,385.3 L328.5,385.2 L329.0,385.2 L329.5,385.2 L330.0,385.2 L330.5,385.2 L331.0,385.2 L331.5,385.2 L332.0,385.1 L332.5,385.1 L333.0,385.1 L333.5,385.1 L334.0,385.1 L334.5,385.1 L335.0,385.1 L335.5,385.0 L336.0,385.0 L336.5,385.0 L337.0,385.0 L337.5,385.0 L338.0,385.0 L338.5,385.0 L339.0,384.9 L339.5,384.9 L340.0,384.9 L340.5,384.9 L341.0,384.9 L341.5,384.9 L342.0,384.8 L342.5,384.8 L343.0,384.8 L343.5,384.8 L344.0,384.8 L344.5,384.8 L345.0,384.8 L345.5,384.7 L346.0,384.7 L346.5,384.7 L347.0,384.7 L347.5,384.7 L348.0,384.7 L348.5,384.6 L349.0,384.6 L349.5,384.6 L350.0,384.6 L350.5,384.6 L351.0,384.6 L351.5,384.5 L352.0,384.5 L352.5,384.5 L353.0,384.5 L353.5,384.5 L354.0,384.5 L354.5,384.4 L355.0,384.4 L355.5,384.4 L356.0,384.4 L356.5,384.4 L357.0,384.4 L357.5,384.3 L358.0,384.3 L358.5,384.3 L359.0,384.3 L359.5,384.3 L360.0,384.2 L360.5,384.2 L361.0,384.2 L361.5,384.2 L362.0,384.2 L362.5,384.1 L363.0,384.1 L363.5,384.1 L364.0,384.1 L364.5,384.1 L365.0,384.1 L365.5,384.0 L366.0,384.0 L366.5,384.0 L367.0,384.0 L367.5,384.0 L368.0,383.9 L368.5,383.9 L369.0,383.9 L369.5,383.9 L370.0,383.8 L370.5,383.8 L371.0,383.8 L371.5,383.8 L372.0,383.8 L372.5,383.7 L373.0,383.7 L373.5,383.7 L374.0,383.7 L374.5,383.6 L375.0,383.6 L375.5,383.6 L376.0,383.6 L376.5,383.5 L377.0,383.5 L377.5,383.5 L378.0,383.5 L378.5,383.5 L379.0,383.4 L379.5,383.4 L380.0,383.4 L380.5,383.3 L381.0,383.3 L381.5,383.3 L382.0,383.3 L382.5,383.2 L383.0,383.2 L383.5,383.2 L384.0,383.2 L384.5,383.1 L385.0,383.1 L385.5,383.1 L386.0,383.0 L386.5,383.0 L387.0,383.0 L387.5,382.9 L388.0,382.9 L388.5,382.9 L389.0,382.9 L389.5,382.8 L390.0,382.8 L390.5,382.8 L391.0,382.7 L391.5,382.7 L392.0,382.7 L392.5,382.6 L393.0,382.6 L393.5,382.5 L394.0,382.5 L394.5,382.5 L395.0,382.4 L395.5,382.4 L396.0,382.4 L396.5,382.3 L397.0,382.3 L397.5,382.2 L398.0,382.2 L398.5,382.2 L399.0,382.1 L399.5,382.1 L400.0,382.0 L400.5,382.0 L401.0,381.9 L401.5,381.9 L402.0,381.8 L402.5,381.8 L403.0,381.7 L403.5,381.7 L404.0,381.6 L404.5,381.6 L405.0,381.5 L405.5,381.5 L406.0,381.4 L406.5,381.4 L407.0,381.3 L407.5,381.2 L408.0,381.2 L408.5,381.1 L409.0,381.1 L409.5,381.0 L410.0,380.9 L410.5,380.9 L411.0,380.8 L411.5,380.7 L412.0,380.7 L412.5,380.6 L413.0,380.5 L413.5,380.5 L414.0,380.4 L414.5,380.3 L415.0,380.2 L415.5,380.1 L416.0,380.1 L416.5,380.0 L417.0,379.9 L417.5,379.8 L418.0,379.7 L418.5,379.6 L419.0,379.5 L419.5,379.4 L420.0,379.3 L420.5,379.2 L421.0,379.1 L421.5,379.0 L422.0,378.9 L422.5,378.8 L423.0,378.7 L423.5,378.6 L424.0,378.4 L424.5,378.3 L425.0,378.2 L425.5,378.1 L426.0,377.9 L426.5,377.8 L427.0,377.7 L427.5,377.5 L428.0,377.4 L428.5,377.2 L429.0,377.1 L429.5,376.9 L430.0,376.8 L430.5,376.6 L431.0,376.4 L431.5,376.3 L432.0,376.1 L432.5,375.9 L433.0,375.8 L433.5,375.6 L434.0,375.4 L434.5,375.2 L435.0,375.0 L435.5,374.8 L436.0,374.6 L436.5,374.4 L437.0,374.2 L437.5,374.0 L438.0,373.8 L438.5,373.6 L439.0,373.4 L439.5,373.2 L440.0,373.0 L440.5,372.7 L441.0,372.5 L441.5,372.3 L442.0,372.1 L442.5,371.9 L443.0,371.7 L443.5,371.4 L444.0,371.2 L444.5,371.0 L445.0,370.8 L445.5,370.6 L446.0,370.4 L446.5,370.2 L447.0,370.0 L447.5,369.9 L448.0,369.7 L448.5,369.5 L449.0,369.4 L449.5,369.2 L450.0,369.1 L450.5,369.0 L451.0,368.8 L451.5,368.7 L452.0,368.7 L452.5,368.6 L453.0,368.5 L453.5,368.5 L454.0,368.4 L454.5,368.4 L455.0,368.4 L455.5,368.4 L456.0,368.4 L456.5,368.4 L457.0,368.5 L457.5,368.5 L458.0,368.6 L458.5,368.7 L459.0,368.8 L459.5,368.9 L460.0,369.0 L460.5,369.1 L461.0,369.3 L461.5,369.4 L462.0,369.6 L462.5,369.7 L463.0,369.9 L463.5,370.1 L464.0,370.3 L464.5,370.4 L465.0,370.6 L465.5,370.8 L466.0,371.0 L466.5,371.2 L467.0,371.4 L467.5,371.6 L468.0,371.8 L468.5,372.0 L469.0,372.2 L469.5,372.4 L470.0,372.6 L470.5,372.8 L471.0,373.0 L471.5,373.1 L472.0,373.3 L472.5,373.5 L473.0,373.7 L473.5,373.9 L474.0,374.1 L474.5,374.2 L475.0,374.4 L475.5,374.6 L476.0,374.7 L476.5,374.9 L477.0,375.0 L477.5,375.2 L478.0,375.3 L478.5,375.5 L479.0,375.6 L479.5,375.8 L480.0,375.9 L480.5,376.0 L481.0,376.2 L481.5,376.3 L482.0,376.4 L482.5,376.5 L483.0,376.6 L483.5,376.8 L484.0,376.9 L484.5,377.0 L485.0,377.1 L485.5,377.2 L486.0,377.3 L486.5,377.4 L487.0,377.5 L487.5,377.6 L488.0,377.6 L488.5,377.7 L489.0,377.8 L489.5,377.9 L490.0,378.0 L490.5,378.0 L491.0,378.1 L491.5,378.2 L492.0,378.3 L492.5,378.3 L493.0,378.4 L493.5,378.5 L494.0,378.5 L494.5,378.6 L495.0,378.6 L495.5,378.7 L496.0,378.8 L496.5,378.8 L497.0,378.9 L497.5,378.9 L498.0,379.0 L498.5,379.0 L499.0,379.1 L499.5,379.1 L500.0,379.1 L500.5,379.2 L501.0,379.2 L501.5,379.3 L502.0,379.3 L502.5,379.3 L503.0,379.4 L503.5,379.4 L504.0,379.4 L504.5,379.5 L505.0,379.5 L505.5,379.5 L506.0,379.6 L506.5,379.6 L507.0,379.6 L507.5,379.7 L508.0,379.7 L508.5,379.7 L509.0,379.7 L509.5,379.8 L510.0,379.8 L510.5,379.8 L511.0,379.8 L511.5,379.8 L512.0,379.9 L512.5,379.9 L513.0,379.9 L513.5,379.9 L514.0,379.9 L514.5,380.0 L515.0,380.0 L515.5,380.0 L516.0,380.0 L516.5,380.0 L517.0,380.0 L517.5,380.1 L518.0,380.1 L518.5,380.1 L519.0,380.1 L519.5,380.1 L520.0,380.1 L520.5,380.1 L521.0,380.1 L521.5,380.2 L522.0,380.2 L522.5,380.2 L523.0,380.2 L523.5,380.2 L524.0,380.2 L524.5,380.2 L525.0,380.2 L525.5,380.2 L526.0,380.2 L526.5,380.2 L527.0,380.2 L527.5,380.3 L528.0,380.3 L528.5,380.3 L529.0,380.3 L529.5,380.3 L530.0,380.3 L530.5,380.3 L531.0,380.3 L531.5,380.3 L532.0,380.3 L532.5,380.3 L533.0,380.3 L533.5,380.3 L534.0,380.3 L534.5,380.3 L535.0,380.3 L535.5,380.3 L536.0,380.3 L536.5,380.3 L537.0,380.3 L537.5,380.3 L538.0,380.3 L538.5,380.3 L539.0,380.3" stroke="#808000" stroke-width="2.1"/>
<path d="M298.5,386.3 L299.0,386.3 L299.5,386.3 L300.0,386.3 L300.5,386.3 L301.0,386.3 L301.5,386.3 L302.0,386.3 L302.5,386.3 L303.0,386.2 L303.5,386.2 L304.0,386.2 L304.5,386.2 L305.0,386.2 L305.5,386.2 L306.0,386.2 L306.5,386.2 L307.0,386.2 L307.5,386.2 L308.0,386.1 L308.5,386.1 L309.0,386.1 L309.5,386.1 L310.0,386.1 L310.5,386.1 L311.0,386.1 L311.5,386.1 L312.0,386.1 L312.5,386.1 L313.0,386.0 L313.5,386.0 L314.0,386.0 L314.5,386.0 L315.0,386.0 L315.5,386.0 L316.0,386.0 L316.5,386.0 L317.0,386.0 L317.5,385.9 L318.0,385.9 L318.5,385.9 L319.0,385.9 L319.5,385.9 L320.0,385.9 L320.5,385.9 L321.0,385.9 L321.5,385.9 L322.0,385.9 L322.5,385.8 L323.0,385.8 L323.5,385.8 L324.0,385.8 L324.5,385.8 L325.0,385.8 L325.5,385.8 L326.0,385.8 L326.5,385.8 L327.0,385.8 L327.5,385.7 L328.0,385.7 L328.5,385.7 L329.0,385.7 L329.5,385.7 L330.0,385.7 L330.5,385.7 L331.0,385.7 L331.5,385.7 L332.0,385.6 L332.5,385.6 L333.0,385.6 L333.5,385.6 L334.0,385.6 L334.5,385.6 L335.0,385.6 L335.5,385.6 L336.0,385.6 L336.5,385.6 L337.0,385.5 L337.5,385.5 L338.0,385.5 L338.5,385.5 L339.0,385.5 L339.5,385.5 L340.0,385.5 L340.5,385.5 L341.0,385.5 L341.5,385.5 L342.0,385.4 L342.5,385.4 L343.0,385.4 L343.5,385.4 L344.0,385.4 L344.5,385.4 L345.0,385.4 L345.5,385.4 L346.0,385.4 L346.5,385.3 L347.0,385.3 L347.5,385.3 L348.0,385.3 L348.5,385.3 L349.0,385.3 L349.5,385.3 L350.0,385.3 L350.5,385.3 L351.0,385.3 L351.5,385.2 L352.0,385.2 L352.5,385.2 L353.0,385.2 L353.5,385.2 L354.0,385.2 L354.5,385.2 L355.0,385.2 L355.5,385.2 L356.0,385.2 L356.5,385.1 L357.0,385.1 L357.5,385.1 L358.0,385.1 L358.5,385.1 L359.0,385.1 L359.5,385.1 L360.0,385.1 L360.5,385.1 L361.0,385.0 L361.5,385.0 L362.0,385.0 L362.5,385.0 L363.0,385.0 L363.5,385.0 L364.0,385.0 L364.5,385.0 L365.0,385.0 L365.5,385.0 L366.0,384.9 L366.5,384.9 L367.0,384.9 L367.5,384.9 L368.0,384.9 L368.5,384.9 L369.0,384.9 L369.5,384.9 L370.0,384.9 L370.5,384.8 L371.0,384.8 L371.5,384.8 L372.0,384.8 L372.5,384.8 L373.0,384.8 L373.5,384.8 L374.0,384.8 L374.5,384.8 L375.0,384.8 L375.5,384.7 L376.0,384.7 L376.5,384.7 L377.0,384.7 L377.5,384.7 L378.0,384.7 L378.5,384.7 L379.0,384.7 L379.5,384.7 L380.0,384.7 L380.5,384.6 L381.0,384.6 L381.5,384.6 L382.0,384.6 L382.5,384.6 L383.0,384.6 L383.5,384.6 L384.0,384.6 L384.5,384.6 L385.0,384.5 L385.5,384.5 L386.0,384.5 L386.5,384.5 L387.0,384.5 L387.5,384.5 L388.0,384.5 L388.5,384.5 L389.0,384.5 L389.5,384.5 L390.0,384.4 L390.5,384.4 L391.0,384.4 L391.5,384.4 L392.0,384.4 L392.5,384.4 L393.0,384.4 L393.5,384.4 L394.0,384.4 L394.5,384.4 L395.0,384.3 L395.5,384.3 L396.0,384.3 L396.5,384.3 L397.0,384.3 L397.5,384.3 L398.0,384.3 L398.5,384.3 L399.0,384.3 L399.5,384.2 L400.0,384.2 L400.5,384.2 L401.0,384.2 L401.5,384.2 L402.0,384.2 L402.5,384.2 L403.0,384.2 L403.5,384.2 L404.0,384.2 L404.5,384.1 L405.0,384.1 L405.5,384.1 L406.0,384.1 L406.5,384.1 L407.0,384.1 L407.5,384.1 L408.0,384.1 L408.5,384.1 L409.0,384.1 L409.5,384.0 L410.0,384.0 L410.5,384.0 L411.0,384.0 L411.5,384.0 L412.0,384.0 L412.5,384.0 L413.0,384.0 L413.5,384.0 L414.0,383.9 L414.5,383.9 L415.0,383.9 L415.5,383.9 L416.0,383.9 L416.5,383.9 L417.0,383.9 L417.5,383.9 L418.0,383.9 L418.5,383.9 L419.0,383.8 L419.5,383.8 L420.0,383.8 L420.5,383.8 L421.0,383.8 L421.5,383.8 L422.0,383.8 L422.5,383.8 L423.0,383.8 L423.5,383.8 L424.0,383.7 L424.5,383.7 L425.0,383.7 L425.5,383.7 L426.0,383.7 L426.5,383.7 L427.0,383.7 L427.5,383.7 L428.0,383.7 L428.5,383.6 L429.0,383.6 L429.5,383.6 L430.0,383.6 L430.5,383.6 L431.0,383.6 L431.5,383.6 L432.0,383.6 L432.5,383.6 L433.0,383.6 L433.5,383.5 L434.0,383.5 L434.5,383.5 L435.0,383.5 L435.5,383.5 L436.0,383.5 L436.5,383.5 L437.0,383.5 L437.5,383.5 L438.0,383.5 L438.5,383.4 L439.0,383.4 L439.5,383.4 L440.0,383.4 L440.5,383.4 L441.0,383.4 L441.5,383.4 L442.0,383.4 L442.5,383.4 L443.0,383.3 L443.5,383.3 L444.0,383.3 L444.5,383.3 L445.0,383.3 L445.5,383.3 L446.0,383.3 L446.5,383.3 L447.0,383.3 L447.5,383.3 L448.0,383.2 L448.5,383.2 L449.0,383.2 L449.5,383.2 L450.0,383.2 L450.5,383.2 L451.0,383.2 L451.5,383.2 L452.0,383.2 L452.5,383.2 L453.0,383.1 L453.5,383.1 L454.0,383.1 L454.5,383.1 L455.0,383.1 L455.5,383.1 L456.0,383.1 L456.5,383.1 L457.0,383.1 L457.5,383.0 L458.0,383.0 L458.5,383.0 L459.0,383.0 L459.5,383.0 L460.0,383.0 L460.5,383.0 L461.0,383.0 L461.5,383.0 L462.0,383.0 L462.5,382.9 L463.0,382.9 L463.5,382.9 L464.0,382.9 L464.5,382.9 L465.0,382.9 L465.5,382.9 L466.0,382.9 L466.5,382.9 L467.0,382.9 L467.5,382.8 L468.0,382.8 L468.5,382.8 L469.0,382.8 L469.5,382.8 L470.0,382.8 L470.5,382.8 L471.0,382.8 L471.5,382.8 L472.0,382.7 L472.5,382.7 L473.0,382.7 L473.5,382.7 L474.0,382.7 L474.5,382.7 L475.0,382.7 L475.5,382.7 L476.0,382.7 L476.5,382.7 L477.0,382.6 L477.5,382.6 L478.0,382.6 L478.5,382.6 L479.0,382.6 L479.5,382.6 L480.0,382.6 L480.5,382.6 L481.0,382.6 L481.5,382.5 L482.0,382.5 L482.5,382.5 L483.0,382.5 L483.5,382.5 L484.0,382.5 L484.5,382.5 L485.0,382.5 L485.5,382.5 L486.0,382.5 L486.5,382.4 L487.0,382.4 L487.5,382.4 L488.0,382.4 L488.5,382.4 L489.0,382.4 L489.5,382.4 L490.0,382.4 L490.5,382.4 L491.0,382.4 L491.5,382.3 L492.0,382.3 L492.5,382.3 L493.0,382.3 L493.5,382.3 L494.0,382.3 L494.5,382.3 L495.0,382.3 L495.5,382.3 L496.0,382.2 L496.5,382.2 L497.0,382.2 L497.5,382.2 L498.0,382.2 L498.5,382.2 L499.0,382.2 L499.5,382.2 L500.0,382.2 L500.5,382.2 L501.0,382.1 L501.5,382.1 L502.0,382.1 L502.5,382.1 L503.0,382.1 L503.5,382.1 L504.0,382.1 L504.5,382.1 L505.0,382.1 L505.5,382.1 L506.0,382.0 L506.5,382.0 L507.0,382.0 L507.5,382.0 L508.0,382.0 L508.5,382.0 L509.0,382.0 L509.5,382.0 L510.0,382.0 L510.5,381.9 L511.0,381.9 L511.5,381.9 L512.0,381.9 L512.5,381.9 L513.0,381.9 L513.5,381.9 L514.0,381.9 L514.5,381.9 L515.0,381.9 L515.5,381.8 L516.0,381.8 L516.5,381.8 L517.0,381.8 L517.5,381.8 L518.0,381.8 L518.5,381.8 L519.0,381.8 L519.5,381.8 L520.0,381.8 L520.5,381.7 L521.0,381.7 L521.5,381.7 L522.0,381.7 L522.5,381.7 L523.0,381.7 L523.5,381.7 L524.0,381.7 L524.5,381.7 L525.0,381.6 L525.5,381.6 L526.0,381.6 L526.5,381.6 L527.0,381.6 L527.5,381.6 L528.0,381.6 L528.5,381.6 L529.0,381.6 L529.5,381.6 L530.0,381.5 L530.5,381.5 L531.0,381.5 L531.5,381.5 L532.0,381.5 L532.5,381.5 L533.0,381.5 L533.5,381.5 L534.0,381.5 L534.5,381.5 L535.0,381.4 L535.5,381.4 L536.0,381.4 L536.5,381.4 L537.0,381.4 L537.5,381.4 L538.0,381.4 L538.5,381.4 L539.0,381.4" stroke="#0000ff" stroke-width="1.8"/>
<path d="M298.5,377.5 L299.0,377.4 L299.5,377.2 L300.0,377.1 L300.5,377.0 L301.0,376.9 L301.5,376.8 L302.0,376.6 L302.5,376.5 L303.0,376.4 L303.5,376.3 L304.0,376.1 L304.5,376.0 L305.0,375.9 L305.5,375.7 L306.0,375.6 L306.5,375.4 L307.0,375.3 L307.5,375.1 L308.0,375.0 L308.5,374.8 L309.0,374.7 L309.5,374.5 L310.0,374.3 L310.5,374.2 L311.0,374.0 L311.5,373.8 L312.0,373.6 L312.5,373.5 L313.0,373.3 L313.5,373.1 L314.0,372.9 L314.5,372.7 L315.0,372.5 L315.5,372.3 L316.0,372.1 L316.5,371.9 L317.0,371.6 L317.5,371.4 L318.0,371.2 L318.5,370.9 L319.0,370.7 L319.5,370.5 L320.0,370.2 L320.5,370.0 L321.0,369.7 L321.5,369.4 L322.0,369.1 L322.5,368.9 L323.0,368.6 L323.5,368.3 L324.0,368.0 L324.5,367.6 L325.0,367.3 L325.5,367.0 L326.0,366.6 L326.5,366.3 L327.0,365.9 L327.5,365.6 L328.0,365.2 L328.5,364.8 L329.0,364.4 L329.5,364.0 L330.0,363.6 L330.5,363.1 L331.0,362.7 L331.5,362.2 L332.0,361.7 L332.5,361.3 L333.0,360.7 L333.5,360.2 L334.0,359.7 L334.5,359.1 L335.0,358.6 L335.5,358.0 L336.0,357.4 L336.5,356.8 L337.0,356.2 L337.5,355.5 L338.0,354.8 L338.5,354.1 L339.0,353.4 L339.5,352.7 L340.0,351.9 L340.5,351.2 L341.0,350.4 L341.5,349.5 L342.0,348.7 L342.5,347.8 L343.0,346.9 L343.5,346.0 L344.0,345.1 L344.5,344.1 L345.0,343.1 L345.5,342.1 L346.0,341.0 L346.5,340.0 L347.0,338.9 L347.5,337.7 L348.0,336.6 L348.5,335.4 L349.0,334.1 L349.5,332.9 L350.0,331.6 L350.5,330.3 L351.0,328.9 L351.5,327.5 L352.0,326.1 L352.5,324.7 L353.0,323.2 L353.5,321.7 L354.0,320.1 L354.5,318.5 L355.0,316.9 L355.5,315.2 L356.0,313.5 L356.5,311.7 L357.0,309.9 L357.5,308.1 L358.0,306.2 L358.5,304.3 L359.0,302.3 L359.5,300.3 L360.0,298.2 L360.5,296.1 L361.0,294.0 L361.5,291.8 L362.0,289.6 L362.5,287.3 L363.0,285.0 L363.5,282.6 L364.0,280.3 L364.5,277.9 L365.0,275.5 L365.5,273.0 L366.0,270.6 L366.5,268.2 L367.0,265.8 L367.5,263.4 L368.0,261.0 L368.5,258.7 L369.0,256.4 L369.5,254.2 L370.0,252.0 L370.5,250.0 L371.0,248.1 L371.5,246.2 L372.0,244.5 L372.5,243.0 L373.0,241.6 L373.5,240.3 L374.0,239.3 L374.5,238.4 L375.0,237.7 L375.5,237.2 L376.0,236.9 L376.5,236.7 L377.0,236.8 L377.5,237.1 L378.0,237.5 L378.5,238.2 L379.0,239.0 L379.5,240.0 L380.0,241.1 L380.5,242.4 L381.0,243.8 L381.5,245.3 L382.0,247.0 L382.5,248.7 L383.0,250.6 L383.5,252.4 L384.0,254.4 L384.5,256.4 L385.0,258.4 L385.5,260.4 L386.0,262.5 L386.5,264.5 L387.0,266.6 L387.5,268.6 L388.0,270.6 L388.5,272.6 L389.0,274.5 L389.5,276.4 L390.0,278.2 L390.5,280.0 L391.0,281.7 L391.5,283.4 L392.0,285.0 L392.5,286.6 L393.0,288.1 L393.5,289.6 L394.0,290.9 L394.5,292.3 L395.0,293.6 L395.5,294.8 L396.0,295.9 L396.5,297.1 L397.0,298.1 L397.5,299.1 L398.0,300.1 L398.5,301.0 L399.0,301.9 L399.5,302.7 L400.0,303.5 L400.5,304.2 L401.0,305.0 L401.5,305.6 L402.0,306.3 L402.5,306.9 L403.0,307.5 L403.5,308.0 L404.0,308.5 L404.5,309.0 L405.0,309.4 L405.5,309.8 L406.0,310.1 L406.5,310.4 L407.0,310.7 L407.5,311.0 L408.0,311.2 L408.5,311.3 L409.0,311.5 L409.5,311.6 L410.0,311.6 L410.5,311.6 L411.0,311.6 L411.5,311.5 L412.0,311.4 L412.5,311.2 L413.0,311.1 L413.5,310.8 L414.0,310.6 L414.5,310.3 L415.0,310.0 L415.5,309.6 L416.0,309.3 L416.5,308.9 L417.0,308.5 L417.5,308.1 L418.0,307.7 L418.5,307.2 L419.0,306.8 L419.5,306.4 L420.0,306.0 L420.5,305.6 L421.0,305.2 L421.5,304.9 L422.0,304.6 L422.5,304.3 L423.0,304.1 L423.5,303.9 L424.0,303.7 L424.5,303.6 L425.0,303.6 L425.5,303.6 L426.0,303.7 L426.5,303.9 L427.0,304.1 L427.5,304.4 L428.0,304.8 L428.5,305.2 L429.0,305.6 L429.5,306.2 L430.0,306.8 L430.5,307.4 L431.0,308.1 L431.5,308.9 L432.0,309.6 L432.5,310.5 L433.0,311.3 L433.5,312.2 L434.0,313.1 L434.5,314.0 L435.0,315.0 L435.5,315.9 L436.0,316.9 L436.5,317.8 L437.0,318.8 L437.5,319.8 L438.0,320.7 L438.5,321.6 L439.0,322.6 L439.5,323.5 L440.0,324.4 L440.5,325.3 L441.0,326.1 L441.5,327.0 L442.0,327.8 L442.5,328.6 L443.0,329.4 L443.5,330.2 L444.0,330.9 L444.5,331.6 L445.0,332.4 L445.5,333.0 L446.0,333.7 L446.5,334.4 L447.0,335.0 L447.5,335.6 L448.0,336.2 L448.5,336.8 L449.0,337.4 L449.5,338.0 L450.0,338.6 L450.5,339.1 L451.0,339.7 L451.5,340.2 L452.0,340.7 L452.5,341.3 L453.0,341.8 L453.5,342.3 L454.0,342.8 L454.5,343.3 L455.0,343.9 L455.5,344.4 L456.0,344.9 L456.5,345.4 L457.0,345.9 L457.5,346.4 L458.0,347.0 L458.5,347.5 L459.0,348.0 L459.5,348.5 L460.0,349.0 L460.5,349.5 L461.0,350.0 L461.5,350.6 L462.0,351.1 L462.5,351.6 L463.0,352.1 L463.5,352.6 L464.0,353.1 L464.5,353.6 L465.0,354.1 L465.5,354.6 L466.0,355.1 L466.5,355.6 L467.0,356.0 L467.5,356.5 L468.0,357.0 L468.5,357.4 L469.0,357.9 L469.5,358.4 L470.0,358.8 L470.5,359.2 L471.0,359.7 L471.5,360.1 L472.0,360.5 L472.5,360.9 L473.0,361.3 L473.5,361.7 L474.0,362.1 L474.5,362.5 L475.0,362.9 L475.5,363.3 L476.0,363.6 L476.5,364.0 L477.0,364.4 L477.5,364.7 L478.0,365.0 L478.5,365.4 L479.0,365.7 L479.5,366.0 L480.0,366.3 L480.5,366.6 L481.0,366.9 L481.5,367.2 L482.0,367.5 L482.5,367.8 L483.0,368.0 L483.5,368.3 L484.0,368.6 L484.5,368.8 L485.0,369.0 L485.5,369.3 L486.0,369.5 L486.5,369.7 L487.0,369.9 L487.5,370.1 L488.0,370.3 L488.5,370.5 L489.0,370.7 L489.5,370.9 L490.0,371.0 L490.5,371.2 L491.0,371.3 L491.5,371.5 L492.0,371.6 L492.5,371.8 L493.0,371.9 L493.5,372.0 L494.0,372.1 L494.5,372.3 L495.0,372.4 L495.5,372.5 L496.0,372.6 L496.5,372.7 L497.0,372.8 L497.5,372.9 L498.0,373.0 L498.5,373.1 L499.0,373.2 L499.5,373.2 L500.0,373.3 L500.5,373.4 L501.0,373.5 L501.5,373.6 L502.0,373.6 L502.5,373.7 L503.0,373.8 L503.5,373.9 L504.0,373.9 L504.5,374.0 L505.0,374.1 L505.5,374.1 L506.0,374.2 L506.5,374.3 L507.0,374.3 L507.5,374.4 L508.0,374.5 L508.5,374.5 L509.0,374.6 L509.5,374.7 L510.0,374.7 L510.5,374.8 L511.0,374.8 L511.5,374.9 L512.0,375.0 L512.5,375.0 L513.0,375.1 L513.5,375.1 L514.0,375.2 L514.5,375.2 L515.0,375.3 L515.5,375.3 L516.0,375.4 L516.5,375.4 L517.0,375.5 L517.5,375.5 L518.0,375.6 L518.5,375.6 L519.0,375.7 L519.5,375.7 L520.0,375.8 L520.5,375.8 L521.0,375.9 L521.5,375.9 L522.0,376.0 L522.5,376.0 L523.0,376.0 L523.5,376.1 L524.0,376.1 L524.5,376.2 L525.0,376.2 L525.5,376.2 L526.0,376.3 L526.5,376.3 L527.0,376.4 L527.5,376.4 L528.0,376.4 L528.5,376.5 L529.0,376.5 L529.5,376.5 L530.0,376.6 L530.5,376.6 L531.0,376.6 L531.5,376.7 L532.0,376.7 L532.5,376.7 L533.0,376.8 L533.5,376.8 L534.0,376.8 L534.5,376.8 L535.0,376.9 L535.5,376.9 L536.0,376.9 L536.5,376.9 L537.0,377.0 L537.5,377.0 L538.0,377.0 L538.5,377.1 L539.0,377.1" stroke="#ff0000" stroke-width="2.9"/>
</g>
<rect x="300.5" y="222.7" width="236.70000000000005" height="176.2" fill="none" stroke="#1a1a1a" stroke-width="1.7"/>
<path d="M344.60,398.9 V395.29999999999995 M399.60,398.9 V395.29999999999995 M454.60,398.9 V395.29999999999995 M509.60,398.9 V395.29999999999995 M317.10,398.9 V396.7 M372.10,398.9 V396.7 M427.10,398.9 V396.7 M482.10,398.9 V396.7 M537.10,398.9 V396.7" stroke="#1a1a1a" stroke-width="1.2" fill="none"/>
<text x="344.60" y="409.79999999999995" font-size="8.2" text-anchor="middle" fill="#222">528</text>
<text x="399.60" y="409.79999999999995" font-size="8.2" text-anchor="middle" fill="#222">530</text>
<text x="454.60" y="409.79999999999995" font-size="8.2" text-anchor="middle" fill="#222">532</text>
<text x="509.60" y="409.79999999999995" font-size="8.2" text-anchor="middle" fill="#222">534</text>
<text x="419.45" y="420.9" font-size="10.65" text-anchor="middle" fill="#111">Binding Energy / eV</text>
<text transform="translate(293.3,305.9) rotate(-90)" font-size="10.8" text-anchor="middle" fill="#111">Intensity / a.u.</text>
<text x="302.2" y="241.0" style="font-family:'Liberation Serif',serif" font-size="18.5" fill="#111">(d)</text>
<text x="502.0" y="246.8" font-size="9.9" fill="#111">O 1s</text>
<text x="335.3" y="267.0" font-size="10.4" fill="#222">O<tspan font-size="6.6" dx="0" dy="3.0">lat</tspan></text>
<path d="M350.20,263.90 L368.18,267.12" stroke="#000" stroke-width="1.0" fill="none"/><path d="M373.10,268.00 L367.79,269.28 L368.57,264.95 Z" fill="#000"/>
<text x="446.3" y="309.2" font-size="10.4" fill="#222">O<tspan font-size="6.6" dx="0" dy="3.0">Sur</tspan></text>
<path d="M445.40,312.80 L434.71,330.24" stroke="#000" stroke-width="1.0" fill="none"/><path d="M432.10,334.50 L432.84,329.09 L436.59,331.39 Z" fill="#000"/>
<text x="480.2" y="346.5" font-size="10.4" fill="#222">O<tspan font-size="6.6" dx="0" dy="3.0">bon</tspan></text>
<path d="M477.50,350.20 L461.01,367.85" stroke="#000" stroke-width="1.0" fill="none"/><path d="M457.60,371.50 L459.41,366.34 L462.62,369.35 Z" fill="#000"/>
</svg></body></html>
